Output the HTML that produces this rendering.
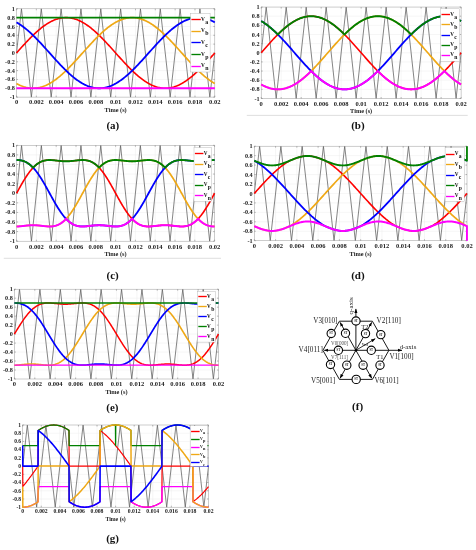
<!DOCTYPE html>
<html><head><meta charset="utf-8"><title>figure</title>
<style>html,body{margin:0;padding:0;background:#fff}svg{display:block}text{font-family:"Liberation Serif",serif}</style>
</head><body>
<svg width="476" height="550" viewBox="0 0 476 550">
<rect width="476" height="550" fill="#fff"/>
<rect x="16.5" y="8.8" width="198.3" height="88.3" fill="#fff"/>
<path d="M36.33 8.8V97.1M56.16 8.8V97.1M75.99 8.8V97.1M95.82 8.8V97.1M115.65 8.8V97.1M135.48 8.8V97.1M155.31 8.8V97.1M175.14 8.8V97.1M194.97 8.8V97.1M16.5 88.27H214.8M16.5 79.44H214.8M16.5 70.61H214.8M16.5 61.78H214.8M16.5 52.95H214.8M16.5 44.12H214.8M16.5 35.29H214.8M16.5 26.46H214.8M16.5 17.63H214.8" stroke="#ececec" stroke-width="0.5" fill="none"/>
<clipPath id="ca"><rect x="15.6" y="7.9" width="200.1" height="90.1"/></clipPath>
<path d="M16.5 52.95L21.46 8.8L31.37 97.1L41.29 8.8L51.2 97.1L61.12 8.8L71.03 97.1L80.95 8.8L90.86 97.1L100.78 8.8L110.69 97.1L120.61 8.8L130.52 97.1L140.44 8.8L150.35 97.1L160.27 8.8L170.18 97.1L180.1 8.8L190.01 97.1L199.93 8.8L209.84 97.1L214.8 52.95" stroke="#5c5c5c" stroke-width="0.75" fill="none" stroke-linejoin="miter"/>
<rect x="16.5" y="8.8" width="198.3" height="88.3" fill="none" stroke="#9a9a9a" stroke-width="0.5"/>
<path d="M16.5 97.1v-1.5M16.5 8.8v1.5M16.5 97.1h1.5M214.8 97.1h-1.5M36.33 97.1v-1.5M36.33 8.8v1.5M16.5 88.27h1.5M214.8 88.27h-1.5M56.16 97.1v-1.5M56.16 8.8v1.5M16.5 79.44h1.5M214.8 79.44h-1.5M75.99 97.1v-1.5M75.99 8.8v1.5M16.5 70.61h1.5M214.8 70.61h-1.5M95.82 97.1v-1.5M95.82 8.8v1.5M16.5 61.78h1.5M214.8 61.78h-1.5M115.65 97.1v-1.5M115.65 8.8v1.5M16.5 52.95h1.5M214.8 52.95h-1.5M135.48 97.1v-1.5M135.48 8.8v1.5M16.5 44.12h1.5M214.8 44.12h-1.5M155.31 97.1v-1.5M155.31 8.8v1.5M16.5 35.29h1.5M214.8 35.29h-1.5M175.14 97.1v-1.5M175.14 8.8v1.5M16.5 26.46h1.5M214.8 26.46h-1.5M194.97 97.1v-1.5M194.97 8.8v1.5M16.5 17.63h1.5M214.8 17.63h-1.5M214.8 97.1v-1.5M214.8 8.8v1.5M16.5 8.8h1.5M214.8 8.8h-1.5" stroke="#777" stroke-width="0.5" fill="none"/>
<g clip-path="url(#ca)" fill="none" stroke-width="1.8" stroke-linejoin="round">
<path d="M16.5 52.95L17.16 52.21L17.82 51.47L18.48 50.73L19.14 49.99L19.8 49.26L20.47 48.52L21.13 47.79L21.79 47.06L22.45 46.33L23.11 45.61L23.77 44.88L24.43 44.17L25.09 43.45L25.75 42.74L26.41 42.04L27.08 41.33L27.74 40.64L28.4 39.95L29.06 39.26L29.72 38.58L30.38 37.91L31.04 37.25L31.7 36.59L32.36 35.93L33.03 35.29L33.69 34.65L34.35 34.02L35.01 33.4L35.67 32.79L36.33 32.19L36.99 31.6L37.65 31.01L38.31 30.44L38.97 29.87L39.64 29.32L40.3 28.77L40.96 28.24L41.62 27.71L42.28 27.2L42.94 26.7L43.6 26.21L44.26 25.74L44.92 25.27L45.58 24.82L46.25 24.38L46.91 23.95L47.57 23.53L48.23 23.13L48.89 22.74L49.55 22.36L50.21 22L50.87 21.65L51.53 21.31L52.19 20.99L52.86 20.68L53.52 20.39L54.18 20.11L54.84 19.85L55.5 19.59L56.16 19.36L56.82 19.14L57.48 18.93L58.14 18.74L58.8 18.56L59.47 18.4L60.13 18.26L60.79 18.12L61.45 18.01L62.11 17.91L62.77 17.82L63.43 17.75L64.09 17.7L64.75 17.66L65.41 17.64L66.08 17.63L66.74 17.64L67.4 17.66L68.06 17.7L68.72 17.75L69.38 17.82L70.04 17.91L70.7 18.01L71.36 18.12L72.02 18.26L72.69 18.4L73.35 18.56L74.01 18.74L74.67 18.93L75.33 19.14L75.99 19.36L76.65 19.59L77.31 19.85L77.97 20.11L78.63 20.39L79.3 20.68L79.96 20.99L80.62 21.31L81.28 21.65L81.94 22L82.6 22.36L83.26 22.74L83.92 23.13L84.58 23.53L85.24 23.95L85.91 24.38L86.57 24.82L87.23 25.27L87.89 25.74L88.55 26.21L89.21 26.7L89.87 27.2L90.53 27.71L91.19 28.24L91.85 28.77L92.52 29.32L93.18 29.87L93.84 30.44L94.5 31.01L95.16 31.6L95.82 32.19L96.48 32.79L97.14 33.4L97.8 34.02L98.46 34.65L99.12 35.29L99.79 35.93L100.45 36.59L101.11 37.25L101.77 37.91L102.43 38.58L103.09 39.26L103.75 39.95L104.41 40.64L105.07 41.33L105.74 42.04L106.4 42.74L107.06 43.45L107.72 44.17L108.38 44.88L109.04 45.61L109.7 46.33L110.36 47.06L111.02 47.79L111.68 48.52L112.35 49.26L113.01 49.99L113.67 50.73L114.33 51.47L114.99 52.21L115.65 52.95L116.31 53.69L116.97 54.43L117.63 55.17L118.29 55.91L118.95 56.64L119.62 57.38L120.28 58.11L120.94 58.84L121.6 59.57L122.26 60.29L122.92 61.02L123.58 61.73L124.24 62.45L124.9 63.16L125.57 63.86L126.23 64.57L126.89 65.26L127.55 65.95L128.21 66.64L128.87 67.32L129.53 67.99L130.19 68.65L130.85 69.31L131.51 69.97L132.18 70.61L132.84 71.25L133.5 71.88L134.16 72.5L134.82 73.11L135.48 73.71L136.14 74.3L136.8 74.89L137.46 75.46L138.12 76.03L138.78 76.58L139.45 77.13L140.11 77.66L140.77 78.19L141.43 78.7L142.09 79.2L142.75 79.69L143.41 80.16L144.07 80.63L144.73 81.08L145.4 81.52L146.06 81.95L146.72 82.37L147.38 82.77L148.04 83.16L148.7 83.54L149.36 83.9L150.02 84.25L150.68 84.59L151.34 84.91L152 85.22L152.67 85.51L153.33 85.79L153.99 86.05L154.65 86.31L155.31 86.54L155.97 86.76L156.63 86.97L157.29 87.16L157.95 87.34L158.62 87.5L159.28 87.64L159.94 87.78L160.6 87.89L161.26 87.99L161.92 88.08L162.58 88.15L163.24 88.2L163.9 88.24L164.56 88.26L165.23 88.27L165.89 88.26L166.55 88.24L167.21 88.2L167.87 88.15L168.53 88.08L169.19 87.99L169.85 87.89L170.51 87.78L171.17 87.64L171.84 87.5L172.5 87.34L173.16 87.16L173.82 86.97L174.48 86.76L175.14 86.54L175.8 86.31L176.46 86.05L177.12 85.79L177.78 85.51L178.45 85.22L179.11 84.91L179.77 84.59L180.43 84.25L181.09 83.9L181.75 83.54L182.41 83.16L183.07 82.77L183.73 82.37L184.39 81.95L185.06 81.52L185.72 81.08L186.38 80.63L187.04 80.16L187.7 79.69L188.36 79.2L189.02 78.7L189.68 78.19L190.34 77.66L191 77.13L191.67 76.58L192.33 76.03L192.99 75.46L193.65 74.89L194.31 74.3L194.97 73.71L195.63 73.11L196.29 72.5L196.95 71.88L197.61 71.25L198.28 70.61L198.94 69.97L199.6 69.31L200.26 68.65L200.92 67.99L201.58 67.32L202.24 66.64L202.9 65.95L203.56 65.26L204.22 64.57L204.88 63.86L205.55 63.16L206.21 62.45L206.87 61.73L207.53 61.02L208.19 60.29L208.85 59.57L209.51 58.84L210.17 58.11L210.83 57.38L211.5 56.64L212.16 55.91L212.82 55.17L213.48 54.43L214.14 53.69L214.8 52.95" stroke="#ff0000" stroke-width="1.6"/>
<path d="M16.5 83.54L17.16 83.9L17.82 84.25L18.48 84.59L19.14 84.91L19.8 85.22L20.47 85.51L21.13 85.79L21.79 86.05L22.45 86.31L23.11 86.54L23.77 86.76L24.43 86.97L25.09 87.16L25.75 87.34L26.41 87.5L27.08 87.64L27.74 87.78L28.4 87.89L29.06 87.99L29.72 88.08L30.38 88.15L31.04 88.2L31.7 88.24L32.36 88.26L33.03 88.27L33.69 88.26L34.35 88.24L35.01 88.2L35.67 88.15L36.33 88.08L36.99 87.99L37.65 87.89L38.31 87.78L38.97 87.64L39.64 87.5L40.3 87.34L40.96 87.16L41.62 86.97L42.28 86.76L42.94 86.54L43.6 86.31L44.26 86.05L44.92 85.79L45.58 85.51L46.25 85.22L46.91 84.91L47.57 84.59L48.23 84.25L48.89 83.9L49.55 83.54L50.21 83.16L50.87 82.77L51.53 82.37L52.19 81.95L52.86 81.52L53.52 81.08L54.18 80.63L54.84 80.16L55.5 79.69L56.16 79.2L56.82 78.7L57.48 78.19L58.14 77.66L58.8 77.13L59.47 76.58L60.13 76.03L60.79 75.46L61.45 74.89L62.11 74.3L62.77 73.71L63.43 73.11L64.09 72.5L64.75 71.88L65.41 71.25L66.08 70.61L66.74 69.97L67.4 69.31L68.06 68.65L68.72 67.99L69.38 67.32L70.04 66.64L70.7 65.95L71.36 65.26L72.02 64.57L72.69 63.86L73.35 63.16L74.01 62.45L74.67 61.73L75.33 61.02L75.99 60.29L76.65 59.57L77.31 58.84L77.97 58.11L78.63 57.38L79.3 56.64L79.96 55.91L80.62 55.17L81.28 54.43L81.94 53.69L82.6 52.95L83.26 52.21L83.92 51.47L84.58 50.73L85.24 49.99L85.91 49.26L86.57 48.52L87.23 47.79L87.89 47.06L88.55 46.33L89.21 45.61L89.87 44.88L90.53 44.17L91.19 43.45L91.85 42.74L92.52 42.04L93.18 41.33L93.84 40.64L94.5 39.95L95.16 39.26L95.82 38.58L96.48 37.91L97.14 37.25L97.8 36.59L98.46 35.93L99.12 35.29L99.79 34.65L100.45 34.02L101.11 33.4L101.77 32.79L102.43 32.19L103.09 31.6L103.75 31.01L104.41 30.44L105.07 29.87L105.74 29.32L106.4 28.77L107.06 28.24L107.72 27.71L108.38 27.2L109.04 26.7L109.7 26.21L110.36 25.74L111.02 25.27L111.68 24.82L112.35 24.38L113.01 23.95L113.67 23.53L114.33 23.13L114.99 22.74L115.65 22.36L116.31 22L116.97 21.65L117.63 21.31L118.29 20.99L118.95 20.68L119.62 20.39L120.28 20.11L120.94 19.85L121.6 19.59L122.26 19.36L122.92 19.14L123.58 18.93L124.24 18.74L124.9 18.56L125.57 18.4L126.23 18.26L126.89 18.12L127.55 18.01L128.21 17.91L128.87 17.82L129.53 17.75L130.19 17.7L130.85 17.66L131.51 17.64L132.18 17.63L132.84 17.64L133.5 17.66L134.16 17.7L134.82 17.75L135.48 17.82L136.14 17.91L136.8 18.01L137.46 18.12L138.12 18.26L138.78 18.4L139.45 18.56L140.11 18.74L140.77 18.93L141.43 19.14L142.09 19.36L142.75 19.59L143.41 19.85L144.07 20.11L144.73 20.39L145.4 20.68L146.06 20.99L146.72 21.31L147.38 21.65L148.04 22L148.7 22.36L149.36 22.74L150.02 23.13L150.68 23.53L151.34 23.95L152 24.38L152.67 24.82L153.33 25.27L153.99 25.74L154.65 26.21L155.31 26.7L155.97 27.2L156.63 27.71L157.29 28.24L157.95 28.77L158.62 29.32L159.28 29.87L159.94 30.44L160.6 31.01L161.26 31.6L161.92 32.19L162.58 32.79L163.24 33.4L163.9 34.02L164.56 34.65L165.23 35.29L165.89 35.93L166.55 36.59L167.21 37.25L167.87 37.91L168.53 38.58L169.19 39.26L169.85 39.95L170.51 40.64L171.17 41.33L171.84 42.04L172.5 42.74L173.16 43.45L173.82 44.17L174.48 44.88L175.14 45.61L175.8 46.33L176.46 47.06L177.12 47.79L177.78 48.52L178.45 49.26L179.11 49.99L179.77 50.73L180.43 51.47L181.09 52.21L181.75 52.95L182.41 53.69L183.07 54.43L183.73 55.17L184.39 55.91L185.06 56.64L185.72 57.38L186.38 58.11L187.04 58.84L187.7 59.57L188.36 60.29L189.02 61.02L189.68 61.73L190.34 62.45L191 63.16L191.67 63.86L192.33 64.57L192.99 65.26L193.65 65.95L194.31 66.64L194.97 67.32L195.63 67.99L196.29 68.65L196.95 69.31L197.61 69.97L198.28 70.61L198.94 71.25L199.6 71.88L200.26 72.5L200.92 73.11L201.58 73.71L202.24 74.3L202.9 74.89L203.56 75.46L204.22 76.03L204.88 76.58L205.55 77.13L206.21 77.66L206.87 78.19L207.53 78.7L208.19 79.2L208.85 79.69L209.51 80.16L210.17 80.63L210.83 81.08L211.5 81.52L212.16 81.95L212.82 82.37L213.48 82.77L214.14 83.16L214.8 83.54" stroke="#efa815" stroke-width="1.7"/>
<path d="M16.5 22.36L17.16 22.74L17.82 23.13L18.48 23.53L19.14 23.95L19.8 24.38L20.47 24.82L21.13 25.27L21.79 25.74L22.45 26.21L23.11 26.7L23.77 27.2L24.43 27.71L25.09 28.24L25.75 28.77L26.41 29.32L27.08 29.87L27.74 30.44L28.4 31.01L29.06 31.6L29.72 32.19L30.38 32.79L31.04 33.4L31.7 34.02L32.36 34.65L33.03 35.29L33.69 35.93L34.35 36.59L35.01 37.25L35.67 37.91L36.33 38.58L36.99 39.26L37.65 39.95L38.31 40.64L38.97 41.33L39.64 42.04L40.3 42.74L40.96 43.45L41.62 44.17L42.28 44.88L42.94 45.61L43.6 46.33L44.26 47.06L44.92 47.79L45.58 48.52L46.25 49.26L46.91 49.99L47.57 50.73L48.23 51.47L48.89 52.21L49.55 52.95L50.21 53.69L50.87 54.43L51.53 55.17L52.19 55.91L52.86 56.64L53.52 57.38L54.18 58.11L54.84 58.84L55.5 59.57L56.16 60.29L56.82 61.02L57.48 61.73L58.14 62.45L58.8 63.16L59.47 63.86L60.13 64.57L60.79 65.26L61.45 65.95L62.11 66.64L62.77 67.32L63.43 67.99L64.09 68.65L64.75 69.31L65.41 69.97L66.08 70.61L66.74 71.25L67.4 71.88L68.06 72.5L68.72 73.11L69.38 73.71L70.04 74.3L70.7 74.89L71.36 75.46L72.02 76.03L72.69 76.58L73.35 77.13L74.01 77.66L74.67 78.19L75.33 78.7L75.99 79.2L76.65 79.69L77.31 80.16L77.97 80.63L78.63 81.08L79.3 81.52L79.96 81.95L80.62 82.37L81.28 82.77L81.94 83.16L82.6 83.54L83.26 83.9L83.92 84.25L84.58 84.59L85.24 84.91L85.91 85.22L86.57 85.51L87.23 85.79L87.89 86.05L88.55 86.31L89.21 86.54L89.87 86.76L90.53 86.97L91.19 87.16L91.85 87.34L92.52 87.5L93.18 87.64L93.84 87.78L94.5 87.89L95.16 87.99L95.82 88.08L96.48 88.15L97.14 88.2L97.8 88.24L98.46 88.26L99.12 88.27L99.79 88.26L100.45 88.24L101.11 88.2L101.77 88.15L102.43 88.08L103.09 87.99L103.75 87.89L104.41 87.78L105.07 87.64L105.74 87.5L106.4 87.34L107.06 87.16L107.72 86.97L108.38 86.76L109.04 86.54L109.7 86.31L110.36 86.05L111.02 85.79L111.68 85.51L112.35 85.22L113.01 84.91L113.67 84.59L114.33 84.25L114.99 83.9L115.65 83.54L116.31 83.16L116.97 82.77L117.63 82.37L118.29 81.95L118.95 81.52L119.62 81.08L120.28 80.63L120.94 80.16L121.6 79.69L122.26 79.2L122.92 78.7L123.58 78.19L124.24 77.66L124.9 77.13L125.57 76.58L126.23 76.03L126.89 75.46L127.55 74.89L128.21 74.3L128.87 73.71L129.53 73.11L130.19 72.5L130.85 71.88L131.51 71.25L132.18 70.61L132.84 69.97L133.5 69.31L134.16 68.65L134.82 67.99L135.48 67.32L136.14 66.64L136.8 65.95L137.46 65.26L138.12 64.57L138.78 63.86L139.45 63.16L140.11 62.45L140.77 61.73L141.43 61.02L142.09 60.29L142.75 59.57L143.41 58.84L144.07 58.11L144.73 57.38L145.4 56.64L146.06 55.91L146.72 55.17L147.38 54.43L148.04 53.69L148.7 52.95L149.36 52.21L150.02 51.47L150.68 50.73L151.34 49.99L152 49.26L152.67 48.52L153.33 47.79L153.99 47.06L154.65 46.33L155.31 45.61L155.97 44.88L156.63 44.17L157.29 43.45L157.95 42.74L158.62 42.04L159.28 41.33L159.94 40.64L160.6 39.95L161.26 39.26L161.92 38.58L162.58 37.91L163.24 37.25L163.9 36.59L164.56 35.93L165.23 35.29L165.89 34.65L166.55 34.02L167.21 33.4L167.87 32.79L168.53 32.19L169.19 31.6L169.85 31.01L170.51 30.44L171.17 29.87L171.84 29.32L172.5 28.77L173.16 28.24L173.82 27.71L174.48 27.2L175.14 26.7L175.8 26.21L176.46 25.74L177.12 25.27L177.78 24.82L178.45 24.38L179.11 23.95L179.77 23.53L180.43 23.13L181.09 22.74L181.75 22.36L182.41 22L183.07 21.65L183.73 21.31L184.39 20.99L185.06 20.68L185.72 20.39L186.38 20.11L187.04 19.85L187.7 19.59L188.36 19.36L189.02 19.14L189.68 18.93L190.34 18.74L191 18.56L191.67 18.4L192.33 18.26L192.99 18.12L193.65 18.01L194.31 17.91L194.97 17.82L195.63 17.75L196.29 17.7L196.95 17.66L197.61 17.64L198.28 17.63L198.94 17.64L199.6 17.66L200.26 17.7L200.92 17.75L201.58 17.82L202.24 17.91L202.9 18.01L203.56 18.12L204.22 18.26L204.88 18.4L205.55 18.56L206.21 18.74L206.87 18.93L207.53 19.14L208.19 19.36L208.85 19.59L209.51 19.85L210.17 20.11L210.83 20.39L211.5 20.68L212.16 20.99L212.82 21.31L213.48 21.65L214.14 22L214.8 22.36" stroke="#0000ff" stroke-width="1.8"/>
<path d="M16.5 17.63L17.16 17.63L17.82 17.63L18.48 17.63L19.14 17.63L19.8 17.63L20.47 17.63L21.13 17.63L21.79 17.63L22.45 17.63L23.11 17.63L23.77 17.63L24.43 17.63L25.09 17.63L25.75 17.63L26.41 17.63L27.08 17.63L27.74 17.63L28.4 17.63L29.06 17.63L29.72 17.63L30.38 17.63L31.04 17.63L31.7 17.63L32.36 17.63L33.03 17.63L33.69 17.63L34.35 17.63L35.01 17.63L35.67 17.63L36.33 17.63L36.99 17.63L37.65 17.63L38.31 17.63L38.97 17.63L39.64 17.63L40.3 17.63L40.96 17.63L41.62 17.63L42.28 17.63L42.94 17.63L43.6 17.63L44.26 17.63L44.92 17.63L45.58 17.63L46.25 17.63L46.91 17.63L47.57 17.63L48.23 17.63L48.89 17.63L49.55 17.63L50.21 17.63L50.87 17.63L51.53 17.63L52.19 17.63L52.86 17.63L53.52 17.63L54.18 17.63L54.84 17.63L55.5 17.63L56.16 17.63L56.82 17.63L57.48 17.63L58.14 17.63L58.8 17.63L59.47 17.63L60.13 17.63L60.79 17.63L61.45 17.63L62.11 17.63L62.77 17.63L63.43 17.63L64.09 17.63L64.75 17.63L65.41 17.63L66.08 17.63L66.74 17.63L67.4 17.63L68.06 17.63L68.72 17.63L69.38 17.63L70.04 17.63L70.7 17.63L71.36 17.63L72.02 17.63L72.69 17.63L73.35 17.63L74.01 17.63L74.67 17.63L75.33 17.63L75.99 17.63L76.65 17.63L77.31 17.63L77.97 17.63L78.63 17.63L79.3 17.63L79.96 17.63L80.62 17.63L81.28 17.63L81.94 17.63L82.6 17.63L83.26 17.63L83.92 17.63L84.58 17.63L85.24 17.63L85.91 17.63L86.57 17.63L87.23 17.63L87.89 17.63L88.55 17.63L89.21 17.63L89.87 17.63L90.53 17.63L91.19 17.63L91.85 17.63L92.52 17.63L93.18 17.63L93.84 17.63L94.5 17.63L95.16 17.63L95.82 17.63L96.48 17.63L97.14 17.63L97.8 17.63L98.46 17.63L99.12 17.63L99.79 17.63L100.45 17.63L101.11 17.63L101.77 17.63L102.43 17.63L103.09 17.63L103.75 17.63L104.41 17.63L105.07 17.63L105.74 17.63L106.4 17.63L107.06 17.63L107.72 17.63L108.38 17.63L109.04 17.63L109.7 17.63L110.36 17.63L111.02 17.63L111.68 17.63L112.35 17.63L113.01 17.63L113.67 17.63L114.33 17.63L114.99 17.63L115.65 17.63L116.31 17.63L116.97 17.63L117.63 17.63L118.29 17.63L118.95 17.63L119.62 17.63L120.28 17.63L120.94 17.63L121.6 17.63L122.26 17.63L122.92 17.63L123.58 17.63L124.24 17.63L124.9 17.63L125.57 17.63L126.23 17.63L126.89 17.63L127.55 17.63L128.21 17.63L128.87 17.63L129.53 17.63L130.19 17.63L130.85 17.63L131.51 17.63L132.18 17.63L132.84 17.63L133.5 17.63L134.16 17.63L134.82 17.63L135.48 17.63L136.14 17.63L136.8 17.63L137.46 17.63L138.12 17.63L138.78 17.63L139.45 17.63L140.11 17.63L140.77 17.63L141.43 17.63L142.09 17.63L142.75 17.63L143.41 17.63L144.07 17.63L144.73 17.63L145.4 17.63L146.06 17.63L146.72 17.63L147.38 17.63L148.04 17.63L148.7 17.63L149.36 17.63L150.02 17.63L150.68 17.63L151.34 17.63L152 17.63L152.67 17.63L153.33 17.63L153.99 17.63L154.65 17.63L155.31 17.63L155.97 17.63L156.63 17.63L157.29 17.63L157.95 17.63L158.62 17.63L159.28 17.63L159.94 17.63L160.6 17.63L161.26 17.63L161.92 17.63L162.58 17.63L163.24 17.63L163.9 17.63L164.56 17.63L165.23 17.63L165.89 17.63L166.55 17.63L167.21 17.63L167.87 17.63L168.53 17.63L169.19 17.63L169.85 17.63L170.51 17.63L171.17 17.63L171.84 17.63L172.5 17.63L173.16 17.63L173.82 17.63L174.48 17.63L175.14 17.63L175.8 17.63L176.46 17.63L177.12 17.63L177.78 17.63L178.45 17.63L179.11 17.63L179.77 17.63L180.43 17.63L181.09 17.63L181.75 17.63L182.41 17.63L183.07 17.63L183.73 17.63L184.39 17.63L185.06 17.63L185.72 17.63L186.38 17.63L187.04 17.63L187.7 17.63L188.36 17.63L189.02 17.63L189.68 17.63L190.34 17.63L191 17.63L191.67 17.63L192.33 17.63L192.99 17.63L193.65 17.63L194.31 17.63L194.97 17.63L195.63 17.63L196.29 17.63L196.95 17.63L197.61 17.63L198.28 17.63L198.94 17.63L199.6 17.63L200.26 17.63L200.92 17.63L201.58 17.63L202.24 17.63L202.9 17.63L203.56 17.63L204.22 17.63L204.88 17.63L205.55 17.63L206.21 17.63L206.87 17.63L207.53 17.63L208.19 17.63L208.85 17.63L209.51 17.63L210.17 17.63L210.83 17.63L211.5 17.63L212.16 17.63L212.82 17.63L213.48 17.63L214.14 17.63L214.8 17.63" stroke="#008000" stroke-width="1.9"/>
<path d="M16.5 88.27L17.16 88.27L17.82 88.27L18.48 88.27L19.14 88.27L19.8 88.27L20.47 88.27L21.13 88.27L21.79 88.27L22.45 88.27L23.11 88.27L23.77 88.27L24.43 88.27L25.09 88.27L25.75 88.27L26.41 88.27L27.08 88.27L27.74 88.27L28.4 88.27L29.06 88.27L29.72 88.27L30.38 88.27L31.04 88.27L31.7 88.27L32.36 88.27L33.03 88.27L33.69 88.27L34.35 88.27L35.01 88.27L35.67 88.27L36.33 88.27L36.99 88.27L37.65 88.27L38.31 88.27L38.97 88.27L39.64 88.27L40.3 88.27L40.96 88.27L41.62 88.27L42.28 88.27L42.94 88.27L43.6 88.27L44.26 88.27L44.92 88.27L45.58 88.27L46.25 88.27L46.91 88.27L47.57 88.27L48.23 88.27L48.89 88.27L49.55 88.27L50.21 88.27L50.87 88.27L51.53 88.27L52.19 88.27L52.86 88.27L53.52 88.27L54.18 88.27L54.84 88.27L55.5 88.27L56.16 88.27L56.82 88.27L57.48 88.27L58.14 88.27L58.8 88.27L59.47 88.27L60.13 88.27L60.79 88.27L61.45 88.27L62.11 88.27L62.77 88.27L63.43 88.27L64.09 88.27L64.75 88.27L65.41 88.27L66.08 88.27L66.74 88.27L67.4 88.27L68.06 88.27L68.72 88.27L69.38 88.27L70.04 88.27L70.7 88.27L71.36 88.27L72.02 88.27L72.69 88.27L73.35 88.27L74.01 88.27L74.67 88.27L75.33 88.27L75.99 88.27L76.65 88.27L77.31 88.27L77.97 88.27L78.63 88.27L79.3 88.27L79.96 88.27L80.62 88.27L81.28 88.27L81.94 88.27L82.6 88.27L83.26 88.27L83.92 88.27L84.58 88.27L85.24 88.27L85.91 88.27L86.57 88.27L87.23 88.27L87.89 88.27L88.55 88.27L89.21 88.27L89.87 88.27L90.53 88.27L91.19 88.27L91.85 88.27L92.52 88.27L93.18 88.27L93.84 88.27L94.5 88.27L95.16 88.27L95.82 88.27L96.48 88.27L97.14 88.27L97.8 88.27L98.46 88.27L99.12 88.27L99.79 88.27L100.45 88.27L101.11 88.27L101.77 88.27L102.43 88.27L103.09 88.27L103.75 88.27L104.41 88.27L105.07 88.27L105.74 88.27L106.4 88.27L107.06 88.27L107.72 88.27L108.38 88.27L109.04 88.27L109.7 88.27L110.36 88.27L111.02 88.27L111.68 88.27L112.35 88.27L113.01 88.27L113.67 88.27L114.33 88.27L114.99 88.27L115.65 88.27L116.31 88.27L116.97 88.27L117.63 88.27L118.29 88.27L118.95 88.27L119.62 88.27L120.28 88.27L120.94 88.27L121.6 88.27L122.26 88.27L122.92 88.27L123.58 88.27L124.24 88.27L124.9 88.27L125.57 88.27L126.23 88.27L126.89 88.27L127.55 88.27L128.21 88.27L128.87 88.27L129.53 88.27L130.19 88.27L130.85 88.27L131.51 88.27L132.18 88.27L132.84 88.27L133.5 88.27L134.16 88.27L134.82 88.27L135.48 88.27L136.14 88.27L136.8 88.27L137.46 88.27L138.12 88.27L138.78 88.27L139.45 88.27L140.11 88.27L140.77 88.27L141.43 88.27L142.09 88.27L142.75 88.27L143.41 88.27L144.07 88.27L144.73 88.27L145.4 88.27L146.06 88.27L146.72 88.27L147.38 88.27L148.04 88.27L148.7 88.27L149.36 88.27L150.02 88.27L150.68 88.27L151.34 88.27L152 88.27L152.67 88.27L153.33 88.27L153.99 88.27L154.65 88.27L155.31 88.27L155.97 88.27L156.63 88.27L157.29 88.27L157.95 88.27L158.62 88.27L159.28 88.27L159.94 88.27L160.6 88.27L161.26 88.27L161.92 88.27L162.58 88.27L163.24 88.27L163.9 88.27L164.56 88.27L165.23 88.27L165.89 88.27L166.55 88.27L167.21 88.27L167.87 88.27L168.53 88.27L169.19 88.27L169.85 88.27L170.51 88.27L171.17 88.27L171.84 88.27L172.5 88.27L173.16 88.27L173.82 88.27L174.48 88.27L175.14 88.27L175.8 88.27L176.46 88.27L177.12 88.27L177.78 88.27L178.45 88.27L179.11 88.27L179.77 88.27L180.43 88.27L181.09 88.27L181.75 88.27L182.41 88.27L183.07 88.27L183.73 88.27L184.39 88.27L185.06 88.27L185.72 88.27L186.38 88.27L187.04 88.27L187.7 88.27L188.36 88.27L189.02 88.27L189.68 88.27L190.34 88.27L191 88.27L191.67 88.27L192.33 88.27L192.99 88.27L193.65 88.27L194.31 88.27L194.97 88.27L195.63 88.27L196.29 88.27L196.95 88.27L197.61 88.27L198.28 88.27L198.94 88.27L199.6 88.27L200.26 88.27L200.92 88.27L201.58 88.27L202.24 88.27L202.9 88.27L203.56 88.27L204.22 88.27L204.88 88.27L205.55 88.27L206.21 88.27L206.87 88.27L207.53 88.27L208.19 88.27L208.85 88.27L209.51 88.27L210.17 88.27L210.83 88.27L211.5 88.27L212.16 88.27L212.82 88.27L213.48 88.27L214.14 88.27L214.8 88.27" stroke="#ff00ff" stroke-width="2"/>
</g>
<g font-size="6.2" font-weight="bold" fill="#1a1a1a">
<text x="14.9" y="99.15" text-anchor="end">-1</text>
<text x="14.9" y="90.32" text-anchor="end">-0.8</text>
<text x="14.9" y="81.49" text-anchor="end">-0.6</text>
<text x="14.9" y="72.66" text-anchor="end">-0.4</text>
<text x="14.9" y="63.83" text-anchor="end">-0.2</text>
<text x="14.9" y="55" text-anchor="end">0</text>
<text x="14.9" y="46.17" text-anchor="end">0.2</text>
<text x="14.9" y="37.34" text-anchor="end">0.4</text>
<text x="14.9" y="28.51" text-anchor="end">0.6</text>
<text x="14.9" y="19.68" text-anchor="end">0.8</text>
<text x="14.9" y="10.85" text-anchor="end">1</text>
<text x="16.5" y="104.2" text-anchor="middle" font-size="6.5">0</text>
<text x="36.33" y="104.2" text-anchor="middle" font-size="6.5">0.002</text>
<text x="56.16" y="104.2" text-anchor="middle" font-size="6.5">0.004</text>
<text x="75.99" y="104.2" text-anchor="middle" font-size="6.5">0.006</text>
<text x="95.82" y="104.2" text-anchor="middle" font-size="6.5">0.008</text>
<text x="115.65" y="104.2" text-anchor="middle" font-size="6.5">0.01</text>
<text x="135.48" y="104.2" text-anchor="middle" font-size="6.5">0.012</text>
<text x="155.31" y="104.2" text-anchor="middle" font-size="6.5">0.014</text>
<text x="175.14" y="104.2" text-anchor="middle" font-size="6.5">0.016</text>
<text x="194.97" y="104.2" text-anchor="middle" font-size="6.5">0.018</text>
<text x="214.8" y="104.2" text-anchor="middle" font-size="6.5">0.02</text>
</g>
<text x="115.65" y="111.6" text-anchor="middle" font-size="6.3" font-weight="bold" fill="#222">Time (s)</text>
<rect x="190.5" y="13.4" width="19.6" height="58.6" fill="#fff" stroke="#aaa" stroke-width="0.4"/>
<path d="M191.4 19.5H200.8" stroke="#ff0000" stroke-width="1.35"/>
<text transform="translate(201.1,20.65) scale(0.78,1)" font-size="6.9" font-weight="bold" fill="#111">V</text>
<text x="205.3" y="23.78" font-size="5.87" font-weight="bold" fill="#111">a</text>
<path d="M191.4 31.5H200.8" stroke="#efa815" stroke-width="1.35"/>
<text transform="translate(201.1,32.3) scale(0.78,1)" font-size="6.9" font-weight="bold" fill="#111">V</text>
<text x="205.3" y="35.43" font-size="5.87" font-weight="bold" fill="#111">b</text>
<path d="M191.4 42.5H200.8" stroke="#0000ff" stroke-width="1.35"/>
<text transform="translate(201.1,43.95) scale(0.78,1)" font-size="6.9" font-weight="bold" fill="#111">V</text>
<text x="205.3" y="47.08" font-size="5.87" font-weight="bold" fill="#111">c</text>
<path d="M191.4 54.5H200.8" stroke="#008000" stroke-width="1.35"/>
<text transform="translate(201.1,55.6) scale(0.78,1)" font-size="6.9" font-weight="bold" fill="#111">V</text>
<text x="205.3" y="58.73" font-size="5.87" font-weight="bold" fill="#111">p</text>
<path d="M191.4 66.5H200.8" stroke="#ff00ff" stroke-width="1.35"/>
<text transform="translate(201.1,67.25) scale(0.78,1)" font-size="6.9" font-weight="bold" fill="#111">V</text>
<text x="205.3" y="70.38" font-size="5.87" font-weight="bold" fill="#111">n</text>
<rect x="261.2" y="7.05" width="199.9" height="91.45" fill="#fff"/>
<path d="M281.19 7.05V98.5M301.18 7.05V98.5M321.17 7.05V98.5M341.16 7.05V98.5M361.15 7.05V98.5M381.14 7.05V98.5M401.13 7.05V98.5M421.12 7.05V98.5M441.11 7.05V98.5M261.2 89.36H461.1M261.2 80.21H461.1M261.2 71.06H461.1M261.2 61.92H461.1M261.2 52.77H461.1M261.2 43.63H461.1M261.2 34.48H461.1M261.2 25.34H461.1M261.2 16.19H461.1" stroke="#ececec" stroke-width="0.5" fill="none"/>
<clipPath id="cb"><rect x="260.3" y="6.15" width="201.7" height="93.25"/></clipPath>
<path d="M261.2 52.77L266.2 7.05L276.19 98.5L286.19 7.05L296.18 98.5L306.18 7.05L316.17 98.5L326.17 7.05L336.16 98.5L346.16 7.05L356.15 98.5L366.15 7.05L376.14 98.5L386.14 7.05L396.13 98.5L406.13 7.05L416.12 98.5L426.12 7.05L436.11 98.5L446.11 7.05L456.1 98.5L461.1 52.77" stroke="#5c5c5c" stroke-width="0.75" fill="none" stroke-linejoin="miter"/>
<rect x="261.2" y="7.05" width="199.9" height="91.45" fill="none" stroke="#9a9a9a" stroke-width="0.5"/>
<path d="M261.2 98.5v-1.5M261.2 7.05v1.5M261.2 98.5h1.5M461.1 98.5h-1.5M281.19 98.5v-1.5M281.19 7.05v1.5M261.2 89.36h1.5M461.1 89.36h-1.5M301.18 98.5v-1.5M301.18 7.05v1.5M261.2 80.21h1.5M461.1 80.21h-1.5M321.17 98.5v-1.5M321.17 7.05v1.5M261.2 71.06h1.5M461.1 71.06h-1.5M341.16 98.5v-1.5M341.16 7.05v1.5M261.2 61.92h1.5M461.1 61.92h-1.5M361.15 98.5v-1.5M361.15 7.05v1.5M261.2 52.77h1.5M461.1 52.77h-1.5M381.14 98.5v-1.5M381.14 7.05v1.5M261.2 43.63h1.5M461.1 43.63h-1.5M401.13 98.5v-1.5M401.13 7.05v1.5M261.2 34.48h1.5M461.1 34.48h-1.5M421.12 98.5v-1.5M421.12 7.05v1.5M261.2 25.34h1.5M461.1 25.34h-1.5M441.11 98.5v-1.5M441.11 7.05v1.5M261.2 16.19h1.5M461.1 16.19h-1.5M461.1 98.5v-1.5M461.1 7.05v1.5M261.2 7.05h1.5M461.1 7.05h-1.5" stroke="#777" stroke-width="0.5" fill="none"/>
<g clip-path="url(#cb)" fill="none" stroke-width="1.8" stroke-linejoin="round">
<path d="M261.2 52.77L261.87 52.01L262.53 51.24L263.2 50.48L263.87 49.71L264.53 48.95L265.2 48.19L265.86 47.43L266.53 46.67L267.2 45.92L267.86 45.17L268.53 44.42L269.2 43.68L269.86 42.94L270.53 42.2L271.19 41.47L271.86 40.75L272.53 40.02L273.19 39.31L273.86 38.6L274.53 37.9L275.19 37.2L275.86 36.51L276.53 35.83L277.19 35.15L277.86 34.48L278.52 33.83L279.19 33.17L279.86 32.53L280.52 31.9L281.19 31.27L281.86 30.66L282.52 30.05L283.19 29.46L283.86 28.87L284.52 28.3L285.19 27.73L285.85 27.18L286.52 26.64L287.19 26.11L287.85 25.59L288.52 25.08L289.19 24.59L289.85 24.11L290.52 23.64L291.19 23.18L291.85 22.74L292.52 22.31L293.18 21.89L293.85 21.49L294.52 21.1L295.18 20.72L295.85 20.36L296.52 20.01L297.18 19.68L297.85 19.36L298.51 19.05L299.18 18.76L299.85 18.49L300.51 18.23L301.18 17.99L301.85 17.76L302.51 17.54L303.18 17.34L303.85 17.16L304.51 16.99L305.18 16.84L305.84 16.71L306.51 16.59L307.18 16.48L307.84 16.4L308.51 16.32L309.18 16.27L309.84 16.23L310.51 16.2L311.18 16.19L311.84 16.2L312.51 16.23L313.17 16.27L313.84 16.32L314.51 16.4L315.17 16.48L315.84 16.59L316.51 16.71L317.17 16.84L317.84 16.99L318.5 17.16L319.17 17.34L319.84 17.54L320.5 17.76L321.17 17.99L321.84 18.23L322.5 18.49L323.17 18.76L323.84 19.05L324.5 19.36L325.17 19.68L325.83 20.01L326.5 20.36L327.17 20.72L327.83 21.1L328.5 21.49L329.17 21.89L329.83 22.31L330.5 22.74L331.16 23.18L331.83 23.64L332.5 24.11L333.16 24.59L333.83 25.08L334.5 25.59L335.16 26.11L335.83 26.64L336.5 27.18L337.16 27.73L337.83 28.3L338.49 28.87L339.16 29.46L339.83 30.05L340.49 30.66L341.16 31.27L341.83 31.9L342.49 32.53L343.16 33.17L343.83 33.83L344.49 34.48L345.16 35.15L345.82 35.83L346.49 36.51L347.16 37.2L347.82 37.9L348.49 38.6L349.16 39.31L349.82 40.02L350.49 40.75L351.16 41.47L351.82 42.2L352.49 42.94L353.15 43.68L353.82 44.42L354.49 45.17L355.15 45.92L355.82 46.67L356.49 47.43L357.15 48.19L357.82 48.95L358.48 49.71L359.15 50.48L359.82 51.24L360.48 52.01L361.15 52.77L361.82 53.54L362.48 54.31L363.15 55.07L363.82 55.84L364.48 56.6L365.15 57.36L365.81 58.12L366.48 58.88L367.15 59.63L367.81 60.38L368.48 61.13L369.15 61.87L369.81 62.61L370.48 63.35L371.14 64.08L371.81 64.8L372.48 65.53L373.14 66.24L373.81 66.95L374.48 67.65L375.14 68.35L375.81 69.04L376.48 69.72L377.14 70.4L377.81 71.06L378.47 71.72L379.14 72.38L379.81 73.02L380.47 73.65L381.14 74.28L381.81 74.89L382.47 75.5L383.14 76.09L383.81 76.68L384.47 77.25L385.14 77.82L385.8 78.37L386.47 78.91L387.14 79.44L387.8 79.96L388.47 80.47L389.14 80.96L389.8 81.44L390.47 81.91L391.13 82.37L391.8 82.81L392.47 83.24L393.13 83.66L393.8 84.06L394.47 84.45L395.13 84.83L395.8 85.19L396.47 85.54L397.13 85.87L397.8 86.19L398.46 86.5L399.13 86.79L399.8 87.06L400.46 87.32L401.13 87.56L401.8 87.79L402.46 88.01L403.13 88.21L403.8 88.39L404.46 88.56L405.13 88.71L405.79 88.84L406.46 88.96L407.13 89.07L407.79 89.15L408.46 89.23L409.13 89.28L409.79 89.32L410.46 89.35L411.12 89.36L411.79 89.35L412.46 89.32L413.12 89.28L413.79 89.23L414.46 89.15L415.12 89.07L415.79 88.96L416.46 88.84L417.12 88.71L417.79 88.56L418.45 88.39L419.12 88.21L419.79 88.01L420.45 87.79L421.12 87.56L421.79 87.32L422.45 87.06L423.12 86.79L423.79 86.5L424.45 86.19L425.12 85.87L425.78 85.54L426.45 85.19L427.12 84.83L427.78 84.45L428.45 84.06L429.12 83.66L429.78 83.24L430.45 82.81L431.12 82.37L431.78 81.91L432.45 81.44L433.11 80.96L433.78 80.47L434.45 79.96L435.11 79.44L435.78 78.91L436.45 78.37L437.11 77.82L437.78 77.25L438.44 76.68L439.11 76.09L439.78 75.5L440.44 74.89L441.11 74.28L441.78 73.65L442.44 73.02L443.11 72.38L443.78 71.72L444.44 71.06L445.11 70.4L445.77 69.72L446.44 69.04L447.11 68.35L447.77 67.65L448.44 66.95L449.11 66.24L449.77 65.53L450.44 64.8L451.11 64.08L451.77 63.35L452.44 62.61L453.1 61.87L453.77 61.13L454.44 60.38L455.1 59.63L455.77 58.88L456.44 58.12L457.1 57.36L457.77 56.6L458.43 55.84L459.1 55.07L459.77 54.31L460.43 53.54L461.1 52.78" stroke="#ff0000" stroke-width="1.6"/>
<path d="M261.2 84.45L261.87 84.83L262.53 85.19L263.2 85.54L263.87 85.87L264.53 86.19L265.2 86.5L265.86 86.79L266.53 87.06L267.2 87.32L267.86 87.56L268.53 87.79L269.2 88.01L269.86 88.21L270.53 88.39L271.19 88.56L271.86 88.71L272.53 88.84L273.19 88.96L273.86 89.07L274.53 89.15L275.19 89.23L275.86 89.28L276.53 89.32L277.19 89.35L277.86 89.36L278.52 89.35L279.19 89.32L279.86 89.28L280.52 89.23L281.19 89.15L281.86 89.07L282.52 88.96L283.19 88.84L283.86 88.71L284.52 88.56L285.19 88.39L285.85 88.21L286.52 88.01L287.19 87.79L287.85 87.56L288.52 87.32L289.19 87.06L289.85 86.79L290.52 86.5L291.19 86.19L291.85 85.87L292.52 85.54L293.18 85.19L293.85 84.83L294.52 84.45L295.18 84.06L295.85 83.66L296.52 83.24L297.18 82.81L297.85 82.37L298.51 81.91L299.18 81.44L299.85 80.96L300.51 80.47L301.18 79.96L301.85 79.44L302.51 78.91L303.18 78.37L303.85 77.82L304.51 77.25L305.18 76.68L305.84 76.09L306.51 75.5L307.18 74.89L307.84 74.28L308.51 73.65L309.18 73.02L309.84 72.38L310.51 71.72L311.18 71.06L311.84 70.4L312.51 69.72L313.17 69.04L313.84 68.35L314.51 67.65L315.17 66.95L315.84 66.24L316.51 65.53L317.17 64.8L317.84 64.08L318.5 63.35L319.17 62.61L319.84 61.87L320.5 61.13L321.17 60.38L321.84 59.63L322.5 58.88L323.17 58.12L323.84 57.36L324.5 56.6L325.17 55.84L325.83 55.07L326.5 54.31L327.17 53.54L327.83 52.77L328.5 52.01L329.17 51.24L329.83 50.48L330.5 49.71L331.16 48.95L331.83 48.19L332.5 47.43L333.16 46.67L333.83 45.92L334.5 45.17L335.16 44.42L335.83 43.68L336.5 42.94L337.16 42.2L337.83 41.47L338.49 40.75L339.16 40.02L339.83 39.31L340.49 38.6L341.16 37.9L341.83 37.2L342.49 36.51L343.16 35.83L343.83 35.15L344.49 34.48L345.16 33.83L345.82 33.17L346.49 32.53L347.16 31.9L347.82 31.27L348.49 30.66L349.16 30.05L349.82 29.46L350.49 28.87L351.16 28.3L351.82 27.73L352.49 27.18L353.15 26.64L353.82 26.11L354.49 25.59L355.15 25.08L355.82 24.59L356.49 24.11L357.15 23.64L357.82 23.18L358.48 22.74L359.15 22.31L359.82 21.89L360.48 21.49L361.15 21.1L361.82 20.72L362.48 20.36L363.15 20.01L363.82 19.68L364.48 19.36L365.15 19.05L365.81 18.76L366.48 18.49L367.15 18.23L367.81 17.99L368.48 17.76L369.15 17.54L369.81 17.34L370.48 17.16L371.14 16.99L371.81 16.84L372.48 16.71L373.14 16.59L373.81 16.48L374.48 16.4L375.14 16.32L375.81 16.27L376.48 16.23L377.14 16.2L377.81 16.19L378.47 16.2L379.14 16.23L379.81 16.27L380.47 16.32L381.14 16.4L381.81 16.48L382.47 16.59L383.14 16.71L383.81 16.84L384.47 16.99L385.14 17.16L385.8 17.34L386.47 17.54L387.14 17.76L387.8 17.99L388.47 18.23L389.14 18.49L389.8 18.76L390.47 19.05L391.13 19.36L391.8 19.68L392.47 20.01L393.13 20.36L393.8 20.72L394.47 21.1L395.13 21.49L395.8 21.89L396.47 22.31L397.13 22.74L397.8 23.18L398.46 23.64L399.13 24.11L399.8 24.59L400.46 25.08L401.13 25.59L401.8 26.11L402.46 26.64L403.13 27.18L403.8 27.73L404.46 28.3L405.13 28.87L405.79 29.46L406.46 30.05L407.13 30.66L407.79 31.27L408.46 31.9L409.13 32.53L409.79 33.17L410.46 33.83L411.12 34.49L411.79 35.15L412.46 35.83L413.12 36.51L413.79 37.2L414.46 37.9L415.12 38.6L415.79 39.31L416.46 40.02L417.12 40.75L417.79 41.47L418.45 42.2L419.12 42.94L419.79 43.68L420.45 44.42L421.12 45.17L421.79 45.92L422.45 46.67L423.12 47.43L423.79 48.19L424.45 48.95L425.12 49.71L425.78 50.48L426.45 51.24L427.12 52.01L427.78 52.78L428.45 53.54L429.12 54.31L429.78 55.07L430.45 55.84L431.12 56.6L431.78 57.36L432.45 58.12L433.11 58.88L433.78 59.63L434.45 60.38L435.11 61.13L435.78 61.87L436.45 62.61L437.11 63.35L437.78 64.08L438.44 64.8L439.11 65.53L439.78 66.24L440.44 66.95L441.11 67.65L441.78 68.35L442.44 69.04L443.11 69.72L443.78 70.4L444.44 71.07L445.11 71.72L445.77 72.38L446.44 73.02L447.11 73.65L447.77 74.28L448.44 74.89L449.11 75.5L449.77 76.09L450.44 76.68L451.11 77.25L451.77 77.82L452.44 78.37L453.1 78.91L453.77 79.44L454.44 79.96L455.1 80.47L455.77 80.96L456.44 81.44L457.1 81.91L457.77 82.37L458.43 82.81L459.1 83.24L459.77 83.66L460.43 84.06L461.1 84.45" stroke="#efa815" stroke-width="1.7"/>
<path d="M261.2 21.1L261.87 21.49L262.53 21.89L263.2 22.31L263.87 22.74L264.53 23.18L265.2 23.64L265.86 24.11L266.53 24.59L267.2 25.08L267.86 25.59L268.53 26.11L269.2 26.64L269.86 27.18L270.53 27.73L271.19 28.3L271.86 28.87L272.53 29.46L273.19 30.05L273.86 30.66L274.53 31.27L275.19 31.9L275.86 32.53L276.53 33.17L277.19 33.83L277.86 34.48L278.52 35.15L279.19 35.83L279.86 36.51L280.52 37.2L281.19 37.9L281.86 38.6L282.52 39.31L283.19 40.02L283.86 40.75L284.52 41.47L285.19 42.2L285.85 42.94L286.52 43.68L287.19 44.42L287.85 45.17L288.52 45.92L289.19 46.67L289.85 47.43L290.52 48.19L291.19 48.95L291.85 49.71L292.52 50.48L293.18 51.24L293.85 52.01L294.52 52.77L295.18 53.54L295.85 54.31L296.52 55.07L297.18 55.84L297.85 56.6L298.51 57.36L299.18 58.12L299.85 58.88L300.51 59.63L301.18 60.38L301.85 61.13L302.51 61.87L303.18 62.61L303.85 63.35L304.51 64.08L305.18 64.8L305.84 65.53L306.51 66.24L307.18 66.95L307.84 67.65L308.51 68.35L309.18 69.04L309.84 69.72L310.51 70.4L311.18 71.06L311.84 71.72L312.51 72.38L313.17 73.02L313.84 73.65L314.51 74.28L315.17 74.89L315.84 75.5L316.51 76.09L317.17 76.68L317.84 77.25L318.5 77.82L319.17 78.37L319.84 78.91L320.5 79.44L321.17 79.96L321.84 80.47L322.5 80.96L323.17 81.44L323.84 81.91L324.5 82.37L325.17 82.81L325.83 83.24L326.5 83.66L327.17 84.06L327.83 84.45L328.5 84.83L329.17 85.19L329.83 85.54L330.5 85.87L331.16 86.19L331.83 86.5L332.5 86.79L333.16 87.06L333.83 87.32L334.5 87.56L335.16 87.79L335.83 88.01L336.5 88.21L337.16 88.39L337.83 88.56L338.49 88.71L339.16 88.84L339.83 88.96L340.49 89.07L341.16 89.15L341.83 89.23L342.49 89.28L343.16 89.32L343.83 89.35L344.49 89.36L345.16 89.35L345.82 89.32L346.49 89.28L347.16 89.23L347.82 89.15L348.49 89.07L349.16 88.96L349.82 88.84L350.49 88.71L351.16 88.56L351.82 88.39L352.49 88.21L353.15 88.01L353.82 87.79L354.49 87.56L355.15 87.32L355.82 87.06L356.49 86.79L357.15 86.5L357.82 86.19L358.48 85.87L359.15 85.54L359.82 85.19L360.48 84.83L361.15 84.45L361.82 84.06L362.48 83.66L363.15 83.24L363.82 82.81L364.48 82.37L365.15 81.91L365.81 81.44L366.48 80.96L367.15 80.47L367.81 79.96L368.48 79.44L369.15 78.91L369.81 78.37L370.48 77.82L371.14 77.25L371.81 76.68L372.48 76.09L373.14 75.5L373.81 74.89L374.48 74.28L375.14 73.65L375.81 73.02L376.48 72.38L377.14 71.72L377.81 71.06L378.47 70.4L379.14 69.72L379.81 69.04L380.47 68.35L381.14 67.65L381.81 66.95L382.47 66.24L383.14 65.53L383.81 64.8L384.47 64.08L385.14 63.35L385.8 62.61L386.47 61.87L387.14 61.13L387.8 60.38L388.47 59.63L389.14 58.88L389.8 58.12L390.47 57.36L391.13 56.6L391.8 55.84L392.47 55.07L393.13 54.31L393.8 53.54L394.47 52.78L395.13 52.01L395.8 51.24L396.47 50.48L397.13 49.71L397.8 48.95L398.46 48.19L399.13 47.43L399.8 46.67L400.46 45.92L401.13 45.17L401.8 44.42L402.46 43.68L403.13 42.94L403.8 42.2L404.46 41.47L405.13 40.75L405.79 40.02L406.46 39.31L407.13 38.6L407.79 37.9L408.46 37.2L409.13 36.51L409.79 35.83L410.46 35.15L411.12 34.48L411.79 33.83L412.46 33.17L413.12 32.53L413.79 31.9L414.46 31.27L415.12 30.66L415.79 30.05L416.46 29.46L417.12 28.87L417.79 28.3L418.45 27.73L419.12 27.18L419.79 26.64L420.45 26.11L421.12 25.59L421.79 25.08L422.45 24.59L423.12 24.11L423.79 23.64L424.45 23.18L425.12 22.74L425.78 22.31L426.45 21.89L427.12 21.49L427.78 21.1L428.45 20.72L429.12 20.36L429.78 20.01L430.45 19.68L431.12 19.36L431.78 19.05L432.45 18.76L433.11 18.49L433.78 18.23L434.45 17.99L435.11 17.76L435.78 17.54L436.45 17.34L437.11 17.16L437.78 16.99L438.44 16.84L439.11 16.71L439.78 16.59L440.44 16.48L441.11 16.4L441.78 16.32L442.44 16.27L443.11 16.23L443.78 16.2L444.44 16.19L445.11 16.2L445.77 16.23L446.44 16.27L447.11 16.32L447.77 16.4L448.44 16.48L449.11 16.59L449.77 16.71L450.44 16.84L451.11 16.99L451.77 17.16L452.44 17.34L453.1 17.54L453.77 17.76L454.44 17.99L455.1 18.23L455.77 18.49L456.44 18.76L457.1 19.05L457.77 19.36L458.43 19.68L459.1 20.01L459.77 20.36L460.43 20.72L461.1 21.1" stroke="#0000ff" stroke-width="1.8"/>
<path d="M261.2 21.1L261.87 21.49L262.53 21.89L263.2 22.31L263.87 22.74L264.53 23.18L265.2 23.64L265.86 24.11L266.53 24.59L267.2 25.08L267.86 25.59L268.53 26.11L269.2 26.64L269.86 27.18L270.53 27.73L271.19 28.3L271.86 28.87L272.53 29.46L273.19 30.05L273.86 30.66L274.53 31.27L275.19 31.9L275.86 32.53L276.53 33.17L277.19 33.83L277.86 34.48L278.52 33.83L279.19 33.17L279.86 32.53L280.52 31.9L281.19 31.27L281.86 30.66L282.52 30.05L283.19 29.46L283.86 28.87L284.52 28.3L285.19 27.73L285.85 27.18L286.52 26.64L287.19 26.11L287.85 25.59L288.52 25.08L289.19 24.59L289.85 24.11L290.52 23.64L291.19 23.18L291.85 22.74L292.52 22.31L293.18 21.89L293.85 21.49L294.52 21.1L295.18 20.72L295.85 20.36L296.52 20.01L297.18 19.68L297.85 19.36L298.51 19.05L299.18 18.76L299.85 18.49L300.51 18.23L301.18 17.99L301.85 17.76L302.51 17.54L303.18 17.34L303.85 17.16L304.51 16.99L305.18 16.84L305.84 16.71L306.51 16.59L307.18 16.48L307.84 16.4L308.51 16.32L309.18 16.27L309.84 16.23L310.51 16.2L311.18 16.19L311.84 16.2L312.51 16.23L313.17 16.27L313.84 16.32L314.51 16.4L315.17 16.48L315.84 16.59L316.51 16.71L317.17 16.84L317.84 16.99L318.5 17.16L319.17 17.34L319.84 17.54L320.5 17.76L321.17 17.99L321.84 18.23L322.5 18.49L323.17 18.76L323.84 19.05L324.5 19.36L325.17 19.68L325.83 20.01L326.5 20.36L327.17 20.72L327.83 21.1L328.5 21.49L329.17 21.89L329.83 22.31L330.5 22.74L331.16 23.18L331.83 23.64L332.5 24.11L333.16 24.59L333.83 25.08L334.5 25.59L335.16 26.11L335.83 26.64L336.5 27.18L337.16 27.73L337.83 28.3L338.49 28.87L339.16 29.46L339.83 30.05L340.49 30.66L341.16 31.27L341.83 31.9L342.49 32.53L343.16 33.17L343.83 33.83L344.49 34.48L345.16 33.83L345.82 33.17L346.49 32.53L347.16 31.9L347.82 31.27L348.49 30.66L349.16 30.05L349.82 29.46L350.49 28.87L351.16 28.3L351.82 27.73L352.49 27.18L353.15 26.64L353.82 26.11L354.49 25.59L355.15 25.08L355.82 24.59L356.49 24.11L357.15 23.64L357.82 23.18L358.48 22.74L359.15 22.31L359.82 21.89L360.48 21.49L361.15 21.1L361.82 20.72L362.48 20.36L363.15 20.01L363.82 19.68L364.48 19.36L365.15 19.05L365.81 18.76L366.48 18.49L367.15 18.23L367.81 17.99L368.48 17.76L369.15 17.54L369.81 17.34L370.48 17.16L371.14 16.99L371.81 16.84L372.48 16.71L373.14 16.59L373.81 16.48L374.48 16.4L375.14 16.32L375.81 16.27L376.48 16.23L377.14 16.2L377.81 16.19L378.47 16.2L379.14 16.23L379.81 16.27L380.47 16.32L381.14 16.4L381.81 16.48L382.47 16.59L383.14 16.71L383.81 16.84L384.47 16.99L385.14 17.16L385.8 17.34L386.47 17.54L387.14 17.76L387.8 17.99L388.47 18.23L389.14 18.49L389.8 18.76L390.47 19.05L391.13 19.36L391.8 19.68L392.47 20.01L393.13 20.36L393.8 20.72L394.47 21.1L395.13 21.49L395.8 21.89L396.47 22.31L397.13 22.74L397.8 23.18L398.46 23.64L399.13 24.11L399.8 24.59L400.46 25.08L401.13 25.59L401.8 26.11L402.46 26.64L403.13 27.18L403.8 27.73L404.46 28.3L405.13 28.87L405.79 29.46L406.46 30.05L407.13 30.66L407.79 31.27L408.46 31.9L409.13 32.53L409.79 33.17L410.46 33.83L411.12 34.48L411.79 33.83L412.46 33.17L413.12 32.53L413.79 31.9L414.46 31.27L415.12 30.66L415.79 30.05L416.46 29.46L417.12 28.87L417.79 28.3L418.45 27.73L419.12 27.18L419.79 26.64L420.45 26.11L421.12 25.59L421.79 25.08L422.45 24.59L423.12 24.11L423.79 23.64L424.45 23.18L425.12 22.74L425.78 22.31L426.45 21.89L427.12 21.49L427.78 21.1L428.45 20.72L429.12 20.36L429.78 20.01L430.45 19.68L431.12 19.36L431.78 19.05L432.45 18.76L433.11 18.49L433.78 18.23L434.45 17.99L435.11 17.76L435.78 17.54L436.45 17.34L437.11 17.16L437.78 16.99L438.44 16.84L439.11 16.71L439.78 16.59L440.44 16.48L441.11 16.4L441.78 16.32L442.44 16.27L443.11 16.23L443.78 16.2L444.44 16.19L445.11 16.2L445.77 16.23L446.44 16.27L447.11 16.32L447.77 16.4L448.44 16.48L449.11 16.59L449.77 16.71L450.44 16.84L451.11 16.99L451.77 17.16L452.44 17.34L453.1 17.54L453.77 17.76L454.44 17.99L455.1 18.23L455.77 18.49L456.44 18.76L457.1 19.05L457.77 19.36L458.43 19.68L459.1 20.01L459.77 20.36L460.43 20.72L461.1 21.1" stroke="#008000" stroke-width="1.9"/>
<path d="M261.2 84.45L261.87 84.83L262.53 85.19L263.2 85.54L263.87 85.87L264.53 86.19L265.2 86.5L265.86 86.79L266.53 87.06L267.2 87.32L267.86 87.56L268.53 87.79L269.2 88.01L269.86 88.21L270.53 88.39L271.19 88.56L271.86 88.71L272.53 88.84L273.19 88.96L273.86 89.07L274.53 89.15L275.19 89.23L275.86 89.28L276.53 89.32L277.19 89.35L277.86 89.36L278.52 89.35L279.19 89.32L279.86 89.28L280.52 89.23L281.19 89.15L281.86 89.07L282.52 88.96L283.19 88.84L283.86 88.71L284.52 88.56L285.19 88.39L285.85 88.21L286.52 88.01L287.19 87.79L287.85 87.56L288.52 87.32L289.19 87.06L289.85 86.79L290.52 86.5L291.19 86.19L291.85 85.87L292.52 85.54L293.18 85.19L293.85 84.83L294.52 84.45L295.18 84.06L295.85 83.66L296.52 83.24L297.18 82.81L297.85 82.37L298.51 81.91L299.18 81.44L299.85 80.96L300.51 80.47L301.18 79.96L301.85 79.44L302.51 78.91L303.18 78.37L303.85 77.82L304.51 77.25L305.18 76.68L305.84 76.09L306.51 75.5L307.18 74.89L307.84 74.28L308.51 73.65L309.18 73.02L309.84 72.38L310.51 71.72L311.18 71.06L311.84 71.72L312.51 72.38L313.17 73.02L313.84 73.65L314.51 74.28L315.17 74.89L315.84 75.5L316.51 76.09L317.17 76.68L317.84 77.25L318.5 77.82L319.17 78.37L319.84 78.91L320.5 79.44L321.17 79.96L321.84 80.47L322.5 80.96L323.17 81.44L323.84 81.91L324.5 82.37L325.17 82.81L325.83 83.24L326.5 83.66L327.17 84.06L327.83 84.45L328.5 84.83L329.17 85.19L329.83 85.54L330.5 85.87L331.16 86.19L331.83 86.5L332.5 86.79L333.16 87.06L333.83 87.32L334.5 87.56L335.16 87.79L335.83 88.01L336.5 88.21L337.16 88.39L337.83 88.56L338.49 88.71L339.16 88.84L339.83 88.96L340.49 89.07L341.16 89.15L341.83 89.23L342.49 89.28L343.16 89.32L343.83 89.35L344.49 89.36L345.16 89.35L345.82 89.32L346.49 89.28L347.16 89.23L347.82 89.15L348.49 89.07L349.16 88.96L349.82 88.84L350.49 88.71L351.16 88.56L351.82 88.39L352.49 88.21L353.15 88.01L353.82 87.79L354.49 87.56L355.15 87.32L355.82 87.06L356.49 86.79L357.15 86.5L357.82 86.19L358.48 85.87L359.15 85.54L359.82 85.19L360.48 84.83L361.15 84.45L361.82 84.06L362.48 83.66L363.15 83.24L363.82 82.81L364.48 82.37L365.15 81.91L365.81 81.44L366.48 80.96L367.15 80.47L367.81 79.96L368.48 79.44L369.15 78.91L369.81 78.37L370.48 77.82L371.14 77.25L371.81 76.68L372.48 76.09L373.14 75.5L373.81 74.89L374.48 74.28L375.14 73.65L375.81 73.02L376.48 72.38L377.14 71.72L377.81 71.06L378.47 71.72L379.14 72.38L379.81 73.02L380.47 73.65L381.14 74.28L381.81 74.89L382.47 75.5L383.14 76.09L383.81 76.68L384.47 77.25L385.14 77.82L385.8 78.37L386.47 78.91L387.14 79.44L387.8 79.96L388.47 80.47L389.14 80.96L389.8 81.44L390.47 81.91L391.13 82.37L391.8 82.81L392.47 83.24L393.13 83.66L393.8 84.06L394.47 84.45L395.13 84.83L395.8 85.19L396.47 85.54L397.13 85.87L397.8 86.19L398.46 86.5L399.13 86.79L399.8 87.06L400.46 87.32L401.13 87.56L401.8 87.79L402.46 88.01L403.13 88.21L403.8 88.39L404.46 88.56L405.13 88.71L405.79 88.84L406.46 88.96L407.13 89.07L407.79 89.15L408.46 89.23L409.13 89.28L409.79 89.32L410.46 89.35L411.12 89.36L411.79 89.35L412.46 89.32L413.12 89.28L413.79 89.23L414.46 89.15L415.12 89.07L415.79 88.96L416.46 88.84L417.12 88.71L417.79 88.56L418.45 88.39L419.12 88.21L419.79 88.01L420.45 87.79L421.12 87.56L421.79 87.32L422.45 87.06L423.12 86.79L423.79 86.5L424.45 86.19L425.12 85.87L425.78 85.54L426.45 85.19L427.12 84.83L427.78 84.45L428.45 84.06L429.12 83.66L429.78 83.24L430.45 82.81L431.12 82.37L431.78 81.91L432.45 81.44L433.11 80.96L433.78 80.47L434.45 79.96L435.11 79.44L435.78 78.91L436.45 78.37L437.11 77.82L437.78 77.25L438.44 76.68L439.11 76.09L439.78 75.5L440.44 74.89L441.11 74.28L441.78 73.65L442.44 73.02L443.11 72.38L443.78 71.72L444.44 71.07L445.11 71.72L445.77 72.38L446.44 73.02L447.11 73.65L447.77 74.28L448.44 74.89L449.11 75.5L449.77 76.09L450.44 76.68L451.11 77.25L451.77 77.82L452.44 78.37L453.1 78.91L453.77 79.44L454.44 79.96L455.1 80.47L455.77 80.96L456.44 81.44L457.1 81.91L457.77 82.37L458.43 82.81L459.1 83.24L459.77 83.66L460.43 84.06L461.1 84.45" stroke="#ff00ff" stroke-width="2"/>
</g>
<g font-size="6.2" font-weight="bold" fill="#1a1a1a">
<text x="259.6" y="100.55" text-anchor="end">-1</text>
<text x="259.6" y="91.4" text-anchor="end">-0.8</text>
<text x="259.6" y="82.26" text-anchor="end">-0.6</text>
<text x="259.6" y="73.11" text-anchor="end">-0.4</text>
<text x="259.6" y="63.97" text-anchor="end">-0.2</text>
<text x="259.6" y="54.82" text-anchor="end">0</text>
<text x="259.6" y="45.68" text-anchor="end">0.2</text>
<text x="259.6" y="36.53" text-anchor="end">0.4</text>
<text x="259.6" y="27.39" text-anchor="end">0.6</text>
<text x="259.6" y="18.24" text-anchor="end">0.8</text>
<text x="259.6" y="9.1" text-anchor="end">1</text>
<text x="261.2" y="105.6" text-anchor="middle" font-size="6.5">0</text>
<text x="281.19" y="105.6" text-anchor="middle" font-size="6.5">0.002</text>
<text x="301.18" y="105.6" text-anchor="middle" font-size="6.5">0.004</text>
<text x="321.17" y="105.6" text-anchor="middle" font-size="6.5">0.006</text>
<text x="341.16" y="105.6" text-anchor="middle" font-size="6.5">0.008</text>
<text x="361.15" y="105.6" text-anchor="middle" font-size="6.5">0.01</text>
<text x="381.14" y="105.6" text-anchor="middle" font-size="6.5">0.012</text>
<text x="401.13" y="105.6" text-anchor="middle" font-size="6.5">0.014</text>
<text x="421.12" y="105.6" text-anchor="middle" font-size="6.5">0.016</text>
<text x="441.11" y="105.6" text-anchor="middle" font-size="6.5">0.018</text>
<text x="461.1" y="105.6" text-anchor="middle" font-size="6.5">0.02</text>
</g>
<text x="361.15" y="113" text-anchor="middle" font-size="6.3" font-weight="bold" fill="#222">Time (s)</text>
<rect x="440.6" y="8.8" width="18.9" height="52.4" fill="#fff" stroke="#aaa" stroke-width="0.4"/>
<path d="M441.5 14.5H450" stroke="#ff0000" stroke-width="1.35"/>
<text transform="translate(450.3,15.9) scale(0.78,1)" font-size="6.6" font-weight="bold" fill="#111">V</text>
<text x="454.33" y="18.9" font-size="5.61" font-weight="bold" fill="#111">a</text>
<path d="M441.5 24.5H450" stroke="#efa815" stroke-width="1.35"/>
<text transform="translate(450.3,25.98) scale(0.78,1)" font-size="6.6" font-weight="bold" fill="#111">V</text>
<text x="454.33" y="28.98" font-size="5.61" font-weight="bold" fill="#111">b</text>
<path d="M441.5 35.5H450" stroke="#0000ff" stroke-width="1.35"/>
<text transform="translate(450.3,36.06) scale(0.78,1)" font-size="6.6" font-weight="bold" fill="#111">V</text>
<text x="454.33" y="39.06" font-size="5.61" font-weight="bold" fill="#111">c</text>
<path d="M441.5 45.5H450" stroke="#008000" stroke-width="1.35"/>
<text transform="translate(450.3,46.14) scale(0.78,1)" font-size="6.6" font-weight="bold" fill="#111">V</text>
<text x="454.33" y="49.14" font-size="5.61" font-weight="bold" fill="#111">p</text>
<path d="M441.5 55.5H450" stroke="#ff00ff" stroke-width="1.35"/>
<text transform="translate(450.3,56.22) scale(0.78,1)" font-size="6.6" font-weight="bold" fill="#111">V</text>
<text x="454.33" y="59.22" font-size="5.61" font-weight="bold" fill="#111">n</text>
<rect x="16.6" y="145.3" width="198" height="95.9" fill="#fff"/>
<path d="M36.4 145.3V241.2M56.2 145.3V241.2M76 145.3V241.2M95.8 145.3V241.2M115.6 145.3V241.2M135.4 145.3V241.2M155.2 145.3V241.2M175 145.3V241.2M194.8 145.3V241.2M16.6 231.61H214.6M16.6 222.02H214.6M16.6 212.43H214.6M16.6 202.84H214.6M16.6 193.25H214.6M16.6 183.66H214.6M16.6 174.07H214.6M16.6 164.48H214.6M16.6 154.89H214.6" stroke="#ececec" stroke-width="0.5" fill="none"/>
<clipPath id="cc"><rect x="15.7" y="144.4" width="199.8" height="97.7"/></clipPath>
<path d="M16.6 193.25L21.55 145.3L31.45 241.2L41.35 145.3L51.25 241.2L61.15 145.3L71.05 241.2L80.95 145.3L90.85 241.2L100.75 145.3L110.65 241.2L120.55 145.3L130.45 241.2L140.35 145.3L150.25 241.2L160.15 145.3L170.05 241.2L179.95 145.3L189.85 241.2L199.75 145.3L209.65 241.2L214.6 193.25" stroke="#5c5c5c" stroke-width="0.75" fill="none" stroke-linejoin="miter"/>
<rect x="16.6" y="145.3" width="198" height="95.9" fill="none" stroke="#9a9a9a" stroke-width="0.5"/>
<path d="M16.6 241.2v-1.5M16.6 145.3v1.5M16.6 241.2h1.5M214.6 241.2h-1.5M36.4 241.2v-1.5M36.4 145.3v1.5M16.6 231.61h1.5M214.6 231.61h-1.5M56.2 241.2v-1.5M56.2 145.3v1.5M16.6 222.02h1.5M214.6 222.02h-1.5M76 241.2v-1.5M76 145.3v1.5M16.6 212.43h1.5M214.6 212.43h-1.5M95.8 241.2v-1.5M95.8 145.3v1.5M16.6 202.84h1.5M214.6 202.84h-1.5M115.6 241.2v-1.5M115.6 145.3v1.5M16.6 193.25h1.5M214.6 193.25h-1.5M135.4 241.2v-1.5M135.4 145.3v1.5M16.6 183.66h1.5M214.6 183.66h-1.5M155.2 241.2v-1.5M155.2 145.3v1.5M16.6 174.07h1.5M214.6 174.07h-1.5M175 241.2v-1.5M175 145.3v1.5M16.6 164.48h1.5M214.6 164.48h-1.5M194.8 241.2v-1.5M194.8 145.3v1.5M16.6 154.89h1.5M214.6 154.89h-1.5M214.6 241.2v-1.5M214.6 145.3v1.5M16.6 145.3h1.5M214.6 145.3h-1.5" stroke="#777" stroke-width="0.5" fill="none"/>
<g clip-path="url(#cc)" fill="none" stroke-width="1.8" stroke-linejoin="round">
<path d="M16.6 193.25L17.26 192.05L17.92 190.84L18.58 189.64L19.24 188.45L19.9 187.26L20.56 186.09L21.22 184.92L21.88 183.77L22.54 182.64L23.2 181.52L23.86 180.42L24.52 179.33L25.18 178.27L25.84 177.24L26.5 176.22L27.16 175.24L27.82 174.28L28.48 173.34L29.14 172.44L29.8 171.57L30.46 170.72L31.12 169.91L31.78 169.14L32.44 168.39L33.1 167.68L33.76 167L34.42 166.35L35.08 165.74L35.74 165.16L36.4 164.62L37.06 164.11L37.72 163.64L38.38 163.2L39.04 162.79L39.7 162.41L40.36 162.06L41.02 161.75L41.68 161.47L42.34 161.21L43 160.99L43.66 160.79L44.32 160.61L44.98 160.47L45.64 160.34L46.3 160.24L46.96 160.16L47.62 160.1L48.28 160.06L48.94 160.04L49.6 160.03L50.26 160.04L50.92 160.06L51.58 160.09L52.24 160.13L52.9 160.18L53.56 160.24L54.22 160.31L54.88 160.38L55.54 160.45L56.2 160.53L56.86 160.6L57.52 160.68L58.18 160.76L58.84 160.83L59.5 160.9L60.16 160.97L60.82 161.03L61.48 161.09L62.14 161.14L62.8 161.18L63.46 161.22L64.12 161.25L64.78 161.27L65.44 161.28L66.1 161.28L66.76 161.28L67.42 161.27L68.08 161.25L68.74 161.22L69.4 161.18L70.06 161.14L70.72 161.09L71.38 161.03L72.04 160.97L72.7 160.9L73.36 160.83L74.02 160.76L74.68 160.68L75.34 160.6L76 160.53L76.66 160.45L77.32 160.38L77.98 160.31L78.64 160.24L79.3 160.18L79.96 160.13L80.62 160.09L81.28 160.06L81.94 160.04L82.6 160.03L83.26 160.04L83.92 160.06L84.58 160.1L85.24 160.16L85.9 160.24L86.56 160.34L87.22 160.47L87.88 160.61L88.54 160.79L89.2 160.99L89.86 161.21L90.52 161.47L91.18 161.75L91.84 162.06L92.5 162.41L93.16 162.79L93.82 163.2L94.48 163.64L95.14 164.11L95.8 164.62L96.46 165.16L97.12 165.74L97.78 166.35L98.44 167L99.1 167.68L99.76 168.39L100.42 169.14L101.08 169.91L101.74 170.72L102.4 171.57L103.06 172.44L103.72 173.34L104.38 174.28L105.04 175.24L105.7 176.22L106.36 177.24L107.02 178.27L107.68 179.33L108.34 180.42L109 181.52L109.66 182.64L110.32 183.77L110.98 184.92L111.64 186.09L112.3 187.26L112.96 188.45L113.62 189.64L114.28 190.84L114.94 192.05L115.6 193.25L116.26 194.45L116.92 195.66L117.58 196.86L118.24 198.05L118.9 199.24L119.56 200.41L120.22 201.58L120.88 202.73L121.54 203.86L122.2 204.98L122.86 206.08L123.52 207.17L124.18 208.23L124.84 209.26L125.5 210.28L126.16 211.26L126.82 212.22L127.48 213.16L128.14 214.06L128.8 214.93L129.46 215.78L130.12 216.59L130.78 217.36L131.44 218.11L132.1 218.82L132.76 219.5L133.42 220.15L134.08 220.76L134.74 221.34L135.4 221.88L136.06 222.39L136.72 222.86L137.38 223.3L138.04 223.71L138.7 224.09L139.36 224.44L140.02 224.75L140.68 225.03L141.34 225.29L142 225.51L142.66 225.71L143.32 225.89L143.98 226.03L144.64 226.16L145.3 226.26L145.96 226.34L146.62 226.4L147.28 226.44L147.94 226.46L148.6 226.47L149.26 226.46L149.92 226.44L150.58 226.41L151.24 226.37L151.9 226.32L152.56 226.26L153.22 226.19L153.88 226.12L154.54 226.05L155.2 225.97L155.86 225.9L156.52 225.82L157.18 225.74L157.84 225.67L158.5 225.6L159.16 225.53L159.82 225.47L160.48 225.41L161.14 225.36L161.8 225.32L162.46 225.28L163.12 225.25L163.78 225.23L164.44 225.22L165.1 225.22L165.76 225.22L166.42 225.23L167.08 225.25L167.74 225.28L168.4 225.32L169.06 225.36L169.72 225.41L170.38 225.47L171.04 225.53L171.7 225.6L172.36 225.67L173.02 225.74L173.68 225.82L174.34 225.9L175 225.97L175.66 226.05L176.32 226.12L176.98 226.19L177.64 226.26L178.3 226.32L178.96 226.37L179.62 226.41L180.28 226.44L180.94 226.46L181.6 226.47L182.26 226.46L182.92 226.44L183.58 226.4L184.24 226.34L184.9 226.26L185.56 226.16L186.22 226.03L186.88 225.89L187.54 225.71L188.2 225.51L188.86 225.29L189.52 225.03L190.18 224.75L190.84 224.44L191.5 224.09L192.16 223.71L192.82 223.3L193.48 222.86L194.14 222.39L194.8 221.88L195.46 221.34L196.12 220.76L196.78 220.15L197.44 219.5L198.1 218.82L198.76 218.11L199.42 217.36L200.08 216.59L200.74 215.78L201.4 214.93L202.06 214.06L202.72 213.16L203.38 212.22L204.04 211.26L204.7 210.28L205.36 209.26L206.02 208.23L206.68 207.17L207.34 206.08L208 204.98L208.66 203.86L209.32 202.73L209.98 201.58L210.64 200.41L211.3 199.24L211.96 198.05L212.62 196.86L213.28 195.66L213.94 194.45L214.6 193.25" stroke="#ff0000" stroke-width="1.6"/>
<path d="M16.6 226.47L17.26 226.46L17.92 226.44L18.58 226.41L19.24 226.37L19.9 226.32L20.56 226.26L21.22 226.19L21.88 226.12L22.54 226.05L23.2 225.97L23.86 225.9L24.52 225.82L25.18 225.74L25.84 225.67L26.5 225.6L27.16 225.53L27.82 225.47L28.48 225.41L29.14 225.36L29.8 225.32L30.46 225.28L31.12 225.25L31.78 225.23L32.44 225.22L33.1 225.22L33.76 225.22L34.42 225.23L35.08 225.25L35.74 225.28L36.4 225.32L37.06 225.36L37.72 225.41L38.38 225.47L39.04 225.53L39.7 225.6L40.36 225.67L41.02 225.74L41.68 225.82L42.34 225.9L43 225.97L43.66 226.05L44.32 226.12L44.98 226.19L45.64 226.26L46.3 226.32L46.96 226.37L47.62 226.41L48.28 226.44L48.94 226.46L49.6 226.47L50.26 226.46L50.92 226.44L51.58 226.4L52.24 226.34L52.9 226.26L53.56 226.16L54.22 226.03L54.88 225.89L55.54 225.71L56.2 225.51L56.86 225.29L57.52 225.03L58.18 224.75L58.84 224.44L59.5 224.09L60.16 223.71L60.82 223.3L61.48 222.86L62.14 222.39L62.8 221.88L63.46 221.34L64.12 220.76L64.78 220.15L65.44 219.5L66.1 218.82L66.76 218.11L67.42 217.36L68.08 216.59L68.74 215.78L69.4 214.93L70.06 214.06L70.72 213.16L71.38 212.22L72.04 211.26L72.7 210.28L73.36 209.26L74.02 208.23L74.68 207.17L75.34 206.08L76 204.98L76.66 203.86L77.32 202.73L77.98 201.58L78.64 200.41L79.3 199.24L79.96 198.05L80.62 196.86L81.28 195.66L81.94 194.45L82.6 193.25L83.26 192.05L83.92 190.84L84.58 189.64L85.24 188.45L85.9 187.26L86.56 186.09L87.22 184.92L87.88 183.77L88.54 182.64L89.2 181.52L89.86 180.42L90.52 179.33L91.18 178.27L91.84 177.24L92.5 176.22L93.16 175.24L93.82 174.28L94.48 173.34L95.14 172.44L95.8 171.57L96.46 170.72L97.12 169.91L97.78 169.14L98.44 168.39L99.1 167.68L99.76 167L100.42 166.35L101.08 165.74L101.74 165.16L102.4 164.62L103.06 164.11L103.72 163.64L104.38 163.2L105.04 162.79L105.7 162.41L106.36 162.06L107.02 161.75L107.68 161.47L108.34 161.21L109 160.99L109.66 160.79L110.32 160.61L110.98 160.47L111.64 160.34L112.3 160.24L112.96 160.16L113.62 160.1L114.28 160.06L114.94 160.04L115.6 160.03L116.26 160.04L116.92 160.06L117.58 160.09L118.24 160.13L118.9 160.18L119.56 160.24L120.22 160.31L120.88 160.38L121.54 160.45L122.2 160.53L122.86 160.6L123.52 160.68L124.18 160.76L124.84 160.83L125.5 160.9L126.16 160.97L126.82 161.03L127.48 161.09L128.14 161.14L128.8 161.18L129.46 161.22L130.12 161.25L130.78 161.27L131.44 161.28L132.1 161.28L132.76 161.28L133.42 161.27L134.08 161.25L134.74 161.22L135.4 161.18L136.06 161.14L136.72 161.09L137.38 161.03L138.04 160.97L138.7 160.9L139.36 160.83L140.02 160.76L140.68 160.68L141.34 160.6L142 160.53L142.66 160.45L143.32 160.38L143.98 160.31L144.64 160.24L145.3 160.18L145.96 160.13L146.62 160.09L147.28 160.06L147.94 160.04L148.6 160.03L149.26 160.04L149.92 160.06L150.58 160.1L151.24 160.16L151.9 160.24L152.56 160.34L153.22 160.47L153.88 160.61L154.54 160.79L155.2 160.99L155.86 161.21L156.52 161.47L157.18 161.75L157.84 162.06L158.5 162.41L159.16 162.79L159.82 163.2L160.48 163.64L161.14 164.11L161.8 164.62L162.46 165.16L163.12 165.74L163.78 166.35L164.44 167L165.1 167.68L165.76 168.39L166.42 169.14L167.08 169.91L167.74 170.72L168.4 171.57L169.06 172.44L169.72 173.34L170.38 174.28L171.04 175.24L171.7 176.22L172.36 177.24L173.02 178.27L173.68 179.33L174.34 180.42L175 181.52L175.66 182.64L176.32 183.77L176.98 184.92L177.64 186.09L178.3 187.26L178.96 188.45L179.62 189.64L180.28 190.84L180.94 192.05L181.6 193.25L182.26 194.45L182.92 195.66L183.58 196.86L184.24 198.05L184.9 199.24L185.56 200.41L186.22 201.58L186.88 202.73L187.54 203.86L188.2 204.98L188.86 206.08L189.52 207.17L190.18 208.23L190.84 209.26L191.5 210.28L192.16 211.26L192.82 212.22L193.48 213.16L194.14 214.06L194.8 214.93L195.46 215.78L196.12 216.59L196.78 217.36L197.44 218.11L198.1 218.82L198.76 219.5L199.42 220.15L200.08 220.76L200.74 221.34L201.4 221.88L202.06 222.39L202.72 222.86L203.38 223.3L204.04 223.71L204.7 224.09L205.36 224.44L206.02 224.75L206.68 225.03L207.34 225.29L208 225.51L208.66 225.71L209.32 225.89L209.98 226.03L210.64 226.16L211.3 226.26L211.96 226.34L212.62 226.4L213.28 226.44L213.94 226.46L214.6 226.47" stroke="#efa815" stroke-width="1.7"/>
<path d="M16.6 160.03L17.26 160.04L17.92 160.06L18.58 160.1L19.24 160.16L19.9 160.24L20.56 160.34L21.22 160.47L21.88 160.61L22.54 160.79L23.2 160.99L23.86 161.21L24.52 161.47L25.18 161.75L25.84 162.06L26.5 162.41L27.16 162.79L27.82 163.2L28.48 163.64L29.14 164.11L29.8 164.62L30.46 165.16L31.12 165.74L31.78 166.35L32.44 167L33.1 167.68L33.76 168.39L34.42 169.14L35.08 169.91L35.74 170.72L36.4 171.57L37.06 172.44L37.72 173.34L38.38 174.28L39.04 175.24L39.7 176.22L40.36 177.24L41.02 178.27L41.68 179.33L42.34 180.42L43 181.52L43.66 182.64L44.32 183.77L44.98 184.92L45.64 186.09L46.3 187.26L46.96 188.45L47.62 189.64L48.28 190.84L48.94 192.05L49.6 193.25L50.26 194.45L50.92 195.66L51.58 196.86L52.24 198.05L52.9 199.24L53.56 200.41L54.22 201.58L54.88 202.73L55.54 203.86L56.2 204.98L56.86 206.08L57.52 207.17L58.18 208.23L58.84 209.26L59.5 210.28L60.16 211.26L60.82 212.22L61.48 213.16L62.14 214.06L62.8 214.93L63.46 215.78L64.12 216.59L64.78 217.36L65.44 218.11L66.1 218.82L66.76 219.5L67.42 220.15L68.08 220.76L68.74 221.34L69.4 221.88L70.06 222.39L70.72 222.86L71.38 223.3L72.04 223.71L72.7 224.09L73.36 224.44L74.02 224.75L74.68 225.03L75.34 225.29L76 225.51L76.66 225.71L77.32 225.89L77.98 226.03L78.64 226.16L79.3 226.26L79.96 226.34L80.62 226.4L81.28 226.44L81.94 226.46L82.6 226.47L83.26 226.46L83.92 226.44L84.58 226.41L85.24 226.37L85.9 226.32L86.56 226.26L87.22 226.19L87.88 226.12L88.54 226.05L89.2 225.97L89.86 225.9L90.52 225.82L91.18 225.74L91.84 225.67L92.5 225.6L93.16 225.53L93.82 225.47L94.48 225.41L95.14 225.36L95.8 225.32L96.46 225.28L97.12 225.25L97.78 225.23L98.44 225.22L99.1 225.22L99.76 225.22L100.42 225.23L101.08 225.25L101.74 225.28L102.4 225.32L103.06 225.36L103.72 225.41L104.38 225.47L105.04 225.53L105.7 225.6L106.36 225.67L107.02 225.74L107.68 225.82L108.34 225.9L109 225.97L109.66 226.05L110.32 226.12L110.98 226.19L111.64 226.26L112.3 226.32L112.96 226.37L113.62 226.41L114.28 226.44L114.94 226.46L115.6 226.47L116.26 226.46L116.92 226.44L117.58 226.4L118.24 226.34L118.9 226.26L119.56 226.16L120.22 226.03L120.88 225.89L121.54 225.71L122.2 225.51L122.86 225.29L123.52 225.03L124.18 224.75L124.84 224.44L125.5 224.09L126.16 223.71L126.82 223.3L127.48 222.86L128.14 222.39L128.8 221.88L129.46 221.34L130.12 220.76L130.78 220.15L131.44 219.5L132.1 218.82L132.76 218.11L133.42 217.36L134.08 216.59L134.74 215.78L135.4 214.93L136.06 214.06L136.72 213.16L137.38 212.22L138.04 211.26L138.7 210.28L139.36 209.26L140.02 208.23L140.68 207.17L141.34 206.08L142 204.98L142.66 203.86L143.32 202.73L143.98 201.58L144.64 200.41L145.3 199.24L145.96 198.05L146.62 196.86L147.28 195.66L147.94 194.45L148.6 193.25L149.26 192.05L149.92 190.84L150.58 189.64L151.24 188.45L151.9 187.26L152.56 186.09L153.22 184.92L153.88 183.77L154.54 182.64L155.2 181.52L155.86 180.42L156.52 179.33L157.18 178.27L157.84 177.24L158.5 176.22L159.16 175.24L159.82 174.28L160.48 173.34L161.14 172.44L161.8 171.57L162.46 170.72L163.12 169.91L163.78 169.14L164.44 168.39L165.1 167.68L165.76 167L166.42 166.35L167.08 165.74L167.74 165.16L168.4 164.62L169.06 164.11L169.72 163.64L170.38 163.2L171.04 162.79L171.7 162.41L172.36 162.06L173.02 161.75L173.68 161.47L174.34 161.21L175 160.99L175.66 160.79L176.32 160.61L176.98 160.47L177.64 160.34L178.3 160.24L178.96 160.16L179.62 160.1L180.28 160.06L180.94 160.04L181.6 160.03L182.26 160.04L182.92 160.06L183.58 160.09L184.24 160.13L184.9 160.18L185.56 160.24L186.22 160.31L186.88 160.38L187.54 160.45L188.2 160.53L188.86 160.6L189.52 160.68L190.18 160.76L190.84 160.83L191.5 160.9L192.16 160.97L192.82 161.03L193.48 161.09L194.14 161.14L194.8 161.18L195.46 161.22L196.12 161.25L196.78 161.27L197.44 161.28L198.1 161.28L198.76 161.28L199.42 161.27L200.08 161.25L200.74 161.22L201.4 161.18L202.06 161.14L202.72 161.09L203.38 161.03L204.04 160.97L204.7 160.9L205.36 160.83L206.02 160.76L206.68 160.68L207.34 160.6L208 160.53L208.66 160.45L209.32 160.38L209.98 160.31L210.64 160.24L211.3 160.18L211.96 160.13L212.62 160.09L213.28 160.06L213.94 160.04L214.6 160.03" stroke="#0000ff" stroke-width="1.8"/>
<path d="M16.6 160.03L17.26 160.04L17.92 160.06L18.58 160.1L19.24 160.16L19.9 160.24L20.56 160.34L21.22 160.47L21.88 160.61L22.54 160.79L23.2 160.99L23.86 161.21L24.52 161.47L25.18 161.75L25.84 162.06L26.5 162.41L27.16 162.79L27.82 163.2L28.48 163.64L29.14 164.11L29.8 164.62L30.46 165.16L31.12 165.74L31.78 166.35L32.44 167L33.1 167.68L33.76 167L34.42 166.35L35.08 165.74L35.74 165.16L36.4 164.62L37.06 164.11L37.72 163.64L38.38 163.2L39.04 162.79L39.7 162.41L40.36 162.06L41.02 161.75L41.68 161.47L42.34 161.21L43 160.99L43.66 160.79L44.32 160.61L44.98 160.47L45.64 160.34L46.3 160.24L46.96 160.16L47.62 160.1L48.28 160.06L48.94 160.04L49.6 160.03L50.26 160.04L50.92 160.06L51.58 160.09L52.24 160.13L52.9 160.18L53.56 160.24L54.22 160.31L54.88 160.38L55.54 160.45L56.2 160.53L56.86 160.6L57.52 160.68L58.18 160.76L58.84 160.83L59.5 160.9L60.16 160.97L60.82 161.03L61.48 161.09L62.14 161.14L62.8 161.18L63.46 161.22L64.12 161.25L64.78 161.27L65.44 161.28L66.1 161.28L66.76 161.28L67.42 161.27L68.08 161.25L68.74 161.22L69.4 161.18L70.06 161.14L70.72 161.09L71.38 161.03L72.04 160.97L72.7 160.9L73.36 160.83L74.02 160.76L74.68 160.68L75.34 160.6L76 160.53L76.66 160.45L77.32 160.38L77.98 160.31L78.64 160.24L79.3 160.18L79.96 160.13L80.62 160.09L81.28 160.06L81.94 160.04L82.6 160.03L83.26 160.04L83.92 160.06L84.58 160.1L85.24 160.16L85.9 160.24L86.56 160.34L87.22 160.47L87.88 160.61L88.54 160.79L89.2 160.99L89.86 161.21L90.52 161.47L91.18 161.75L91.84 162.06L92.5 162.41L93.16 162.79L93.82 163.2L94.48 163.64L95.14 164.11L95.8 164.62L96.46 165.16L97.12 165.74L97.78 166.35L98.44 167L99.1 167.68L99.76 167L100.42 166.35L101.08 165.74L101.74 165.16L102.4 164.62L103.06 164.11L103.72 163.64L104.38 163.2L105.04 162.79L105.7 162.41L106.36 162.06L107.02 161.75L107.68 161.47L108.34 161.21L109 160.99L109.66 160.79L110.32 160.61L110.98 160.47L111.64 160.34L112.3 160.24L112.96 160.16L113.62 160.1L114.28 160.06L114.94 160.04L115.6 160.03L116.26 160.04L116.92 160.06L117.58 160.09L118.24 160.13L118.9 160.18L119.56 160.24L120.22 160.31L120.88 160.38L121.54 160.45L122.2 160.53L122.86 160.6L123.52 160.68L124.18 160.76L124.84 160.83L125.5 160.9L126.16 160.97L126.82 161.03L127.48 161.09L128.14 161.14L128.8 161.18L129.46 161.22L130.12 161.25L130.78 161.27L131.44 161.28L132.1 161.28L132.76 161.28L133.42 161.27L134.08 161.25L134.74 161.22L135.4 161.18L136.06 161.14L136.72 161.09L137.38 161.03L138.04 160.97L138.7 160.9L139.36 160.83L140.02 160.76L140.68 160.68L141.34 160.6L142 160.53L142.66 160.45L143.32 160.38L143.98 160.31L144.64 160.24L145.3 160.18L145.96 160.13L146.62 160.09L147.28 160.06L147.94 160.04L148.6 160.03L149.26 160.04L149.92 160.06L150.58 160.1L151.24 160.16L151.9 160.24L152.56 160.34L153.22 160.47L153.88 160.61L154.54 160.79L155.2 160.99L155.86 161.21L156.52 161.47L157.18 161.75L157.84 162.06L158.5 162.41L159.16 162.79L159.82 163.2L160.48 163.64L161.14 164.11L161.8 164.62L162.46 165.16L163.12 165.74L163.78 166.35L164.44 167L165.1 167.68L165.76 167L166.42 166.35L167.08 165.74L167.74 165.16L168.4 164.62L169.06 164.11L169.72 163.64L170.38 163.2L171.04 162.79L171.7 162.41L172.36 162.06L173.02 161.75L173.68 161.47L174.34 161.21L175 160.99L175.66 160.79L176.32 160.61L176.98 160.47L177.64 160.34L178.3 160.24L178.96 160.16L179.62 160.1L180.28 160.06L180.94 160.04L181.6 160.03L182.26 160.04L182.92 160.06L183.58 160.09L184.24 160.13L184.9 160.18L185.56 160.24L186.22 160.31L186.88 160.38L187.54 160.45L188.2 160.53L188.86 160.6L189.52 160.68L190.18 160.76L190.84 160.83L191.5 160.9L192.16 160.97L192.82 161.03L193.48 161.09L194.14 161.14L194.8 161.18L195.46 161.22L196.12 161.25L196.78 161.27L197.44 161.28L198.1 161.28L198.76 161.28L199.42 161.27L200.08 161.25L200.74 161.22L201.4 161.18L202.06 161.14L202.72 161.09L203.38 161.03L204.04 160.97L204.7 160.9L205.36 160.83L206.02 160.76L206.68 160.68L207.34 160.6L208 160.53L208.66 160.45L209.32 160.38L209.98 160.31L210.64 160.24L211.3 160.18L211.96 160.13L212.62 160.09L213.28 160.06L213.94 160.04L214.6 160.03" stroke="#008000" stroke-width="1.9"/>
<path d="M16.6 226.47L17.26 226.46L17.92 226.44L18.58 226.41L19.24 226.37L19.9 226.32L20.56 226.26L21.22 226.19L21.88 226.12L22.54 226.05L23.2 225.97L23.86 225.9L24.52 225.82L25.18 225.74L25.84 225.67L26.5 225.6L27.16 225.53L27.82 225.47L28.48 225.41L29.14 225.36L29.8 225.32L30.46 225.28L31.12 225.25L31.78 225.23L32.44 225.22L33.1 225.22L33.76 225.22L34.42 225.23L35.08 225.25L35.74 225.28L36.4 225.32L37.06 225.36L37.72 225.41L38.38 225.47L39.04 225.53L39.7 225.6L40.36 225.67L41.02 225.74L41.68 225.82L42.34 225.9L43 225.97L43.66 226.05L44.32 226.12L44.98 226.19L45.64 226.26L46.3 226.32L46.96 226.37L47.62 226.41L48.28 226.44L48.94 226.46L49.6 226.47L50.26 226.46L50.92 226.44L51.58 226.4L52.24 226.34L52.9 226.26L53.56 226.16L54.22 226.03L54.88 225.89L55.54 225.71L56.2 225.51L56.86 225.29L57.52 225.03L58.18 224.75L58.84 224.44L59.5 224.09L60.16 223.71L60.82 223.3L61.48 222.86L62.14 222.39L62.8 221.88L63.46 221.34L64.12 220.76L64.78 220.15L65.44 219.5L66.1 218.82L66.76 219.5L67.42 220.15L68.08 220.76L68.74 221.34L69.4 221.88L70.06 222.39L70.72 222.86L71.38 223.3L72.04 223.71L72.7 224.09L73.36 224.44L74.02 224.75L74.68 225.03L75.34 225.29L76 225.51L76.66 225.71L77.32 225.89L77.98 226.03L78.64 226.16L79.3 226.26L79.96 226.34L80.62 226.4L81.28 226.44L81.94 226.46L82.6 226.47L83.26 226.46L83.92 226.44L84.58 226.41L85.24 226.37L85.9 226.32L86.56 226.26L87.22 226.19L87.88 226.12L88.54 226.05L89.2 225.97L89.86 225.9L90.52 225.82L91.18 225.74L91.84 225.67L92.5 225.6L93.16 225.53L93.82 225.47L94.48 225.41L95.14 225.36L95.8 225.32L96.46 225.28L97.12 225.25L97.78 225.23L98.44 225.22L99.1 225.22L99.76 225.22L100.42 225.23L101.08 225.25L101.74 225.28L102.4 225.32L103.06 225.36L103.72 225.41L104.38 225.47L105.04 225.53L105.7 225.6L106.36 225.67L107.02 225.74L107.68 225.82L108.34 225.9L109 225.97L109.66 226.05L110.32 226.12L110.98 226.19L111.64 226.26L112.3 226.32L112.96 226.37L113.62 226.41L114.28 226.44L114.94 226.46L115.6 226.47L116.26 226.46L116.92 226.44L117.58 226.4L118.24 226.34L118.9 226.26L119.56 226.16L120.22 226.03L120.88 225.89L121.54 225.71L122.2 225.51L122.86 225.29L123.52 225.03L124.18 224.75L124.84 224.44L125.5 224.09L126.16 223.71L126.82 223.3L127.48 222.86L128.14 222.39L128.8 221.88L129.46 221.34L130.12 220.76L130.78 220.15L131.44 219.5L132.1 218.82L132.76 219.5L133.42 220.15L134.08 220.76L134.74 221.34L135.4 221.88L136.06 222.39L136.72 222.86L137.38 223.3L138.04 223.71L138.7 224.09L139.36 224.44L140.02 224.75L140.68 225.03L141.34 225.29L142 225.51L142.66 225.71L143.32 225.89L143.98 226.03L144.64 226.16L145.3 226.26L145.96 226.34L146.62 226.4L147.28 226.44L147.94 226.46L148.6 226.47L149.26 226.46L149.92 226.44L150.58 226.41L151.24 226.37L151.9 226.32L152.56 226.26L153.22 226.19L153.88 226.12L154.54 226.05L155.2 225.97L155.86 225.9L156.52 225.82L157.18 225.74L157.84 225.67L158.5 225.6L159.16 225.53L159.82 225.47L160.48 225.41L161.14 225.36L161.8 225.32L162.46 225.28L163.12 225.25L163.78 225.23L164.44 225.22L165.1 225.22L165.76 225.22L166.42 225.23L167.08 225.25L167.74 225.28L168.4 225.32L169.06 225.36L169.72 225.41L170.38 225.47L171.04 225.53L171.7 225.6L172.36 225.67L173.02 225.74L173.68 225.82L174.34 225.9L175 225.97L175.66 226.05L176.32 226.12L176.98 226.19L177.64 226.26L178.3 226.32L178.96 226.37L179.62 226.41L180.28 226.44L180.94 226.46L181.6 226.47L182.26 226.46L182.92 226.44L183.58 226.4L184.24 226.34L184.9 226.26L185.56 226.16L186.22 226.03L186.88 225.89L187.54 225.71L188.2 225.51L188.86 225.29L189.52 225.03L190.18 224.75L190.84 224.44L191.5 224.09L192.16 223.71L192.82 223.3L193.48 222.86L194.14 222.39L194.8 221.88L195.46 221.34L196.12 220.76L196.78 220.15L197.44 219.5L198.1 218.82L198.76 219.5L199.42 220.15L200.08 220.76L200.74 221.34L201.4 221.88L202.06 222.39L202.72 222.86L203.38 223.3L204.04 223.71L204.7 224.09L205.36 224.44L206.02 224.75L206.68 225.03L207.34 225.29L208 225.51L208.66 225.71L209.32 225.89L209.98 226.03L210.64 226.16L211.3 226.26L211.96 226.34L212.62 226.4L213.28 226.44L213.94 226.46L214.6 226.47" stroke="#ff00ff" stroke-width="2"/>
</g>
<g font-size="6.2" font-weight="bold" fill="#1a1a1a">
<text x="15" y="243.25" text-anchor="end">-1</text>
<text x="15" y="233.66" text-anchor="end">-0.8</text>
<text x="15" y="224.07" text-anchor="end">-0.6</text>
<text x="15" y="214.48" text-anchor="end">-0.4</text>
<text x="15" y="204.89" text-anchor="end">-0.2</text>
<text x="15" y="195.3" text-anchor="end">0</text>
<text x="15" y="185.71" text-anchor="end">0.2</text>
<text x="15" y="176.12" text-anchor="end">0.4</text>
<text x="15" y="166.53" text-anchor="end">0.6</text>
<text x="15" y="156.94" text-anchor="end">0.8</text>
<text x="15" y="147.35" text-anchor="end">1</text>
<text x="16.6" y="248.7" text-anchor="middle" font-size="6.5">0</text>
<text x="36.4" y="248.7" text-anchor="middle" font-size="6.5">0.002</text>
<text x="56.2" y="248.7" text-anchor="middle" font-size="6.5">0.004</text>
<text x="76" y="248.7" text-anchor="middle" font-size="6.5">0.006</text>
<text x="95.8" y="248.7" text-anchor="middle" font-size="6.5">0.008</text>
<text x="115.6" y="248.7" text-anchor="middle" font-size="6.5">0.01</text>
<text x="135.4" y="248.7" text-anchor="middle" font-size="6.5">0.012</text>
<text x="155.2" y="248.7" text-anchor="middle" font-size="6.5">0.014</text>
<text x="175" y="248.7" text-anchor="middle" font-size="6.5">0.016</text>
<text x="194.8" y="248.7" text-anchor="middle" font-size="6.5">0.018</text>
<text x="214.6" y="248.7" text-anchor="middle" font-size="6.5">0.02</text>
</g>
<text x="115.6" y="256.2" text-anchor="middle" font-size="6.3" font-weight="bold" fill="#222">Time (s)</text>
<rect x="194" y="147.5" width="17.6" height="53.7" fill="#fff" stroke="#aaa" stroke-width="0.4"/>
<path d="M194.9 153.5H203.4" stroke="#ff0000" stroke-width="1.35"/>
<text transform="translate(203.7,154.5) scale(0.78,1)" font-size="6.6" font-weight="bold" fill="#111">V</text>
<text x="207.73" y="157.5" font-size="5.61" font-weight="bold" fill="#111">a</text>
<path d="M194.9 164.5H203.4" stroke="#efa815" stroke-width="1.35"/>
<text transform="translate(203.7,165.1) scale(0.78,1)" font-size="6.6" font-weight="bold" fill="#111">V</text>
<text x="207.73" y="168.1" font-size="5.61" font-weight="bold" fill="#111">b</text>
<path d="M194.9 174.5H203.4" stroke="#0000ff" stroke-width="1.35"/>
<text transform="translate(203.7,175.7) scale(0.78,1)" font-size="6.6" font-weight="bold" fill="#111">V</text>
<text x="207.73" y="178.7" font-size="5.61" font-weight="bold" fill="#111">c</text>
<path d="M194.9 185.5H203.4" stroke="#008000" stroke-width="1.35"/>
<text transform="translate(203.7,186.3) scale(0.78,1)" font-size="6.6" font-weight="bold" fill="#111">V</text>
<text x="207.73" y="189.3" font-size="5.61" font-weight="bold" fill="#111">p</text>
<path d="M194.9 195.5H203.4" stroke="#ff00ff" stroke-width="1.35"/>
<text transform="translate(203.7,196.9) scale(0.78,1)" font-size="6.6" font-weight="bold" fill="#111">V</text>
<text x="207.73" y="199.9" font-size="5.61" font-weight="bold" fill="#111">n</text>
<rect x="254.3" y="146.2" width="212.7" height="94.5" fill="#fff"/>
<path d="M275.57 146.2V240.7M296.84 146.2V240.7M318.11 146.2V240.7M339.38 146.2V240.7M360.65 146.2V240.7M381.92 146.2V240.7M403.19 146.2V240.7M424.46 146.2V240.7M445.73 146.2V240.7M254.3 231.25H467M254.3 221.8H467M254.3 212.35H467M254.3 202.9H467M254.3 193.45H467M254.3 184H467M254.3 174.55H467M254.3 165.1H467M254.3 155.65H467" stroke="#ececec" stroke-width="0.5" fill="none"/>
<clipPath id="cd"><rect x="253.4" y="145.3" width="214.5" height="96.3"/></clipPath>
<path d="M254.3 193.45L259.62 146.2L270.25 240.7L280.89 146.2L291.52 240.7L302.16 146.2L312.79 240.7L323.43 146.2L334.06 240.7L344.7 146.2L355.33 240.7L365.97 146.2L376.6 240.7L387.24 146.2L397.87 240.7L408.51 146.2L419.14 240.7L429.78 146.2L440.41 240.7L451.05 146.2L461.68 240.7L467 193.45" stroke="#5c5c5c" stroke-width="0.75" fill="none" stroke-linejoin="miter"/>
<rect x="254.3" y="146.2" width="212.7" height="94.5" fill="none" stroke="#9a9a9a" stroke-width="0.5"/>
<path d="M254.3 240.7v-1.5M254.3 146.2v1.5M254.3 240.7h1.5M467 240.7h-1.5M275.57 240.7v-1.5M275.57 146.2v1.5M254.3 231.25h1.5M467 231.25h-1.5M296.84 240.7v-1.5M296.84 146.2v1.5M254.3 221.8h1.5M467 221.8h-1.5M318.11 240.7v-1.5M318.11 146.2v1.5M254.3 212.35h1.5M467 212.35h-1.5M339.38 240.7v-1.5M339.38 146.2v1.5M254.3 202.9h1.5M467 202.9h-1.5M360.65 240.7v-1.5M360.65 146.2v1.5M254.3 193.45h1.5M467 193.45h-1.5M381.92 240.7v-1.5M381.92 146.2v1.5M254.3 184h1.5M467 184h-1.5M403.19 240.7v-1.5M403.19 146.2v1.5M254.3 174.55h1.5M467 174.55h-1.5M424.46 240.7v-1.5M424.46 146.2v1.5M254.3 165.1h1.5M467 165.1h-1.5M445.73 240.7v-1.5M445.73 146.2v1.5M254.3 155.65h1.5M467 155.65h-1.5M467 240.7v-1.5M467 146.2v1.5M254.3 146.2h1.5M467 146.2h-1.5" stroke="#777" stroke-width="0.5" fill="none"/>
<g clip-path="url(#cd)" fill="none" stroke-width="1.8" stroke-linejoin="round">
<path d="M254.3 193.45L255.01 192.66L255.72 191.87L256.43 191.08L257.14 190.29L257.85 189.5L258.55 188.71L259.26 187.93L259.97 187.15L260.68 186.37L261.39 185.59L262.1 184.82L262.81 184.05L263.52 183.28L264.23 182.52L264.94 181.77L265.64 181.02L266.35 180.27L267.06 179.53L267.77 178.8L268.48 178.08L269.19 177.36L269.9 176.64L270.61 175.94L271.32 175.24L272.03 174.55L272.73 173.87L273.44 173.2L274.15 172.53L274.86 171.88L275.57 171.23L276.28 170.6L276.99 169.97L277.7 169.36L278.41 168.75L279.12 168.16L279.82 167.57L280.53 167L281.24 166.44L281.95 165.89L282.66 165.36L283.37 164.84L284.08 164.32L284.79 163.83L285.5 163.34L286.21 162.87L286.91 162.41L287.62 161.97L288.33 161.53L289.04 161.12L289.75 160.71L290.46 160.41L291.17 160.11L291.88 159.82L292.59 159.53L293.3 159.25L294 158.97L294.71 158.69L295.42 158.43L296.13 158.17L296.84 157.93L297.55 157.69L298.26 157.47L298.97 157.26L299.68 157.07L300.38 156.88L301.09 156.72L301.8 156.57L302.51 156.43L303.22 156.31L303.93 156.21L304.64 156.13L305.35 156.06L306.06 156.02L306.77 155.99L307.48 155.98L308.18 155.99L308.89 156.02L309.6 156.06L310.31 156.13L311.02 156.21L311.73 156.31L312.44 156.43L313.15 156.57L313.86 156.72L314.56 156.88L315.27 157.07L315.98 157.26L316.69 157.47L317.4 157.69L318.11 157.93L318.82 158.17L319.53 158.43L320.24 158.69L320.95 158.97L321.66 159.25L322.36 159.53L323.07 159.82L323.78 160.11L324.49 160.41L325.2 160.71L325.91 161.12L326.62 161.53L327.33 161.97L328.04 162.41L328.75 162.87L329.45 163.34L330.16 163.83L330.87 164.32L331.58 164.84L332.29 165.36L333 165.89L333.71 166.44L334.42 167L335.13 167.57L335.84 168.16L336.54 168.75L337.25 169.36L337.96 169.97L338.67 170.6L339.38 171.23L340.09 171.88L340.8 172.53L341.51 173.2L342.22 173.87L342.93 174.55L343.63 175.24L344.34 175.94L345.05 176.64L345.76 177.36L346.47 178.08L347.18 178.8L347.89 179.53L348.6 180.27L349.31 181.02L350.01 181.77L350.72 182.52L351.43 183.28L352.14 184.05L352.85 184.82L353.56 185.59L354.27 186.37L354.98 187.15L355.69 187.93L356.4 188.71L357.11 189.5L357.81 190.29L358.52 191.08L359.23 191.87L359.94 192.66L360.65 193.45L361.36 194.24L362.07 195.03L362.78 195.82L363.49 196.61L364.19 197.4L364.9 198.19L365.61 198.97L366.32 199.75L367.03 200.53L367.74 201.31L368.45 202.08L369.16 202.85L369.87 203.62L370.58 204.38L371.29 205.13L371.99 205.88L372.7 206.63L373.41 207.37L374.12 208.1L374.83 208.82L375.54 209.54L376.25 210.26L376.96 210.96L377.67 211.66L378.38 212.35L379.08 213.03L379.79 213.7L380.5 214.37L381.21 215.02L381.92 215.67L382.63 216.3L383.34 216.93L384.05 217.54L384.76 218.15L385.47 218.74L386.17 219.33L386.88 219.9L387.59 220.46L388.3 221.01L389.01 221.54L389.72 222.06L390.43 222.58L391.14 223.07L391.85 223.56L392.56 224.03L393.26 224.49L393.97 224.93L394.68 225.37L395.39 225.78L396.1 226.19L396.81 226.49L397.52 226.79L398.23 227.08L398.94 227.37L399.64 227.65L400.35 227.93L401.06 228.21L401.77 228.47L402.48 228.73L403.19 228.97L403.9 229.21L404.61 229.43L405.32 229.64L406.03 229.83L406.74 230.02L407.44 230.18L408.15 230.33L408.86 230.47L409.57 230.59L410.28 230.69L410.99 230.77L411.7 230.84L412.41 230.88L413.12 230.91L413.83 230.92L414.53 230.91L415.24 230.88L415.95 230.84L416.66 230.77L417.37 230.69L418.08 230.59L418.79 230.47L419.5 230.33L420.21 230.18L420.92 230.02L421.62 229.83L422.33 229.64L423.04 229.43L423.75 229.21L424.46 228.97L425.17 228.73L425.88 228.47L426.59 228.21L427.3 227.93L428 227.65L428.71 227.37L429.42 227.08L430.13 226.79L430.84 226.49L431.55 226.19L432.26 225.78L432.97 225.37L433.68 224.93L434.39 224.49L435.1 224.03L435.8 223.56L436.51 223.07L437.22 222.58L437.93 222.06L438.64 221.54L439.35 221.01L440.06 220.46L440.77 219.9L441.48 219.33L442.19 218.74L442.89 218.15L443.6 217.54L444.31 216.93L445.02 216.3L445.73 215.67L446.44 215.02L447.15 214.37L447.86 213.7L448.57 213.03L449.27 212.35L449.98 211.66L450.69 210.96L451.4 210.26L452.11 209.54L452.82 208.82L453.53 208.1L454.24 207.37L454.95 206.63L455.66 205.88L456.37 205.13L457.07 204.38L457.78 203.62L458.49 202.85L459.2 202.08L459.91 201.31L460.62 200.53L461.33 199.75L462.04 198.97L462.75 198.19L463.46 197.4L464.16 196.61L464.87 195.82L465.58 195.03L466.29 194.24L467 193.45" stroke="#ff0000" stroke-width="1.6"/>
<path d="M254.3 226.19L255.01 226.49L255.72 226.79L256.43 227.08L257.14 227.37L257.85 227.65L258.55 227.93L259.26 228.21L259.97 228.47L260.68 228.73L261.39 228.97L262.1 229.21L262.81 229.43L263.52 229.64L264.23 229.83L264.94 230.02L265.64 230.18L266.35 230.33L267.06 230.47L267.77 230.59L268.48 230.69L269.19 230.77L269.9 230.84L270.61 230.88L271.32 230.91L272.03 230.92L272.73 230.91L273.44 230.88L274.15 230.84L274.86 230.77L275.57 230.69L276.28 230.59L276.99 230.47L277.7 230.33L278.41 230.18L279.12 230.02L279.82 229.83L280.53 229.64L281.24 229.43L281.95 229.21L282.66 228.97L283.37 228.73L284.08 228.47L284.79 228.21L285.5 227.93L286.21 227.65L286.91 227.37L287.62 227.08L288.33 226.79L289.04 226.49L289.75 226.19L290.46 225.78L291.17 225.37L291.88 224.93L292.59 224.49L293.3 224.03L294 223.56L294.71 223.07L295.42 222.58L296.13 222.06L296.84 221.54L297.55 221.01L298.26 220.46L298.97 219.9L299.68 219.33L300.38 218.74L301.09 218.15L301.8 217.54L302.51 216.93L303.22 216.3L303.93 215.67L304.64 215.02L305.35 214.37L306.06 213.7L306.77 213.03L307.48 212.35L308.18 211.66L308.89 210.96L309.6 210.26L310.31 209.54L311.02 208.82L311.73 208.1L312.44 207.37L313.15 206.63L313.86 205.88L314.56 205.13L315.27 204.38L315.98 203.62L316.69 202.85L317.4 202.08L318.11 201.31L318.82 200.53L319.53 199.75L320.24 198.97L320.95 198.19L321.66 197.4L322.36 196.61L323.07 195.82L323.78 195.03L324.49 194.24L325.2 193.45L325.91 192.66L326.62 191.87L327.33 191.08L328.04 190.29L328.75 189.5L329.45 188.71L330.16 187.93L330.87 187.15L331.58 186.37L332.29 185.59L333 184.82L333.71 184.05L334.42 183.28L335.13 182.52L335.84 181.77L336.54 181.02L337.25 180.27L337.96 179.53L338.67 178.8L339.38 178.08L340.09 177.36L340.8 176.64L341.51 175.94L342.22 175.24L342.93 174.55L343.63 173.87L344.34 173.2L345.05 172.53L345.76 171.88L346.47 171.23L347.18 170.6L347.89 169.97L348.6 169.36L349.31 168.75L350.01 168.16L350.72 167.57L351.43 167L352.14 166.44L352.85 165.89L353.56 165.36L354.27 164.84L354.98 164.32L355.69 163.83L356.4 163.34L357.11 162.87L357.81 162.41L358.52 161.97L359.23 161.53L359.94 161.12L360.65 160.71L361.36 160.41L362.07 160.11L362.78 159.82L363.49 159.53L364.19 159.25L364.9 158.97L365.61 158.69L366.32 158.43L367.03 158.17L367.74 157.93L368.45 157.69L369.16 157.47L369.87 157.26L370.58 157.07L371.29 156.88L371.99 156.72L372.7 156.57L373.41 156.43L374.12 156.31L374.83 156.21L375.54 156.13L376.25 156.06L376.96 156.02L377.67 155.99L378.38 155.98L379.08 155.99L379.79 156.02L380.5 156.06L381.21 156.13L381.92 156.21L382.63 156.31L383.34 156.43L384.05 156.57L384.76 156.72L385.47 156.88L386.17 157.07L386.88 157.26L387.59 157.47L388.3 157.69L389.01 157.93L389.72 158.17L390.43 158.43L391.14 158.69L391.85 158.97L392.56 159.25L393.26 159.53L393.97 159.82L394.68 160.11L395.39 160.41L396.1 160.71L396.81 161.12L397.52 161.53L398.23 161.97L398.94 162.41L399.64 162.87L400.35 163.34L401.06 163.83L401.77 164.32L402.48 164.84L403.19 165.36L403.9 165.89L404.61 166.44L405.32 167L406.03 167.57L406.74 168.16L407.44 168.75L408.15 169.36L408.86 169.97L409.57 170.6L410.28 171.23L410.99 171.88L411.7 172.53L412.41 173.2L413.12 173.87L413.83 174.55L414.53 175.24L415.24 175.94L415.95 176.64L416.66 177.36L417.37 178.08L418.08 178.8L418.79 179.53L419.5 180.27L420.21 181.02L420.92 181.77L421.62 182.52L422.33 183.28L423.04 184.05L423.75 184.82L424.46 185.59L425.17 186.37L425.88 187.15L426.59 187.93L427.3 188.71L428 189.5L428.71 190.29L429.42 191.08L430.13 191.87L430.84 192.66L431.55 193.45L432.26 194.24L432.97 195.03L433.68 195.82L434.39 196.61L435.1 197.4L435.8 198.19L436.51 198.97L437.22 199.75L437.93 200.53L438.64 201.31L439.35 202.08L440.06 202.85L440.77 203.62L441.48 204.38L442.19 205.13L442.89 205.88L443.6 206.63L444.31 207.37L445.02 208.1L445.73 208.82L446.44 209.54L447.15 210.26L447.86 210.96L448.57 211.66L449.27 212.35L449.98 213.03L450.69 213.7L451.4 214.37L452.11 215.02L452.82 215.67L453.53 216.3L454.24 216.93L454.95 217.54L455.66 218.15L456.37 218.74L457.07 219.33L457.78 219.9L458.49 220.46L459.2 221.01L459.91 221.54L460.62 222.06L461.33 222.58L462.04 223.07L462.75 223.56L463.46 224.03L464.16 224.49L464.87 224.93L465.58 225.37L466.29 225.78L467 226.19" stroke="#efa815" stroke-width="1.7"/>
<path d="M254.3 160.71L255.01 161.12L255.72 161.53L256.43 161.97L257.14 162.41L257.85 162.87L258.55 163.34L259.26 163.83L259.97 164.32L260.68 164.84L261.39 165.36L262.1 165.89L262.81 166.44L263.52 167L264.23 167.57L264.94 168.16L265.64 168.75L266.35 169.36L267.06 169.97L267.77 170.6L268.48 171.23L269.19 171.88L269.9 172.53L270.61 173.2L271.32 173.87L272.03 174.55L272.73 175.24L273.44 175.94L274.15 176.64L274.86 177.36L275.57 178.08L276.28 178.8L276.99 179.53L277.7 180.27L278.41 181.02L279.12 181.77L279.82 182.52L280.53 183.28L281.24 184.05L281.95 184.82L282.66 185.59L283.37 186.37L284.08 187.15L284.79 187.93L285.5 188.71L286.21 189.5L286.91 190.29L287.62 191.08L288.33 191.87L289.04 192.66L289.75 193.45L290.46 194.24L291.17 195.03L291.88 195.82L292.59 196.61L293.3 197.4L294 198.19L294.71 198.97L295.42 199.75L296.13 200.53L296.84 201.31L297.55 202.08L298.26 202.85L298.97 203.62L299.68 204.38L300.38 205.13L301.09 205.88L301.8 206.63L302.51 207.37L303.22 208.1L303.93 208.82L304.64 209.54L305.35 210.26L306.06 210.96L306.77 211.66L307.48 212.35L308.18 213.03L308.89 213.7L309.6 214.37L310.31 215.02L311.02 215.67L311.73 216.3L312.44 216.93L313.15 217.54L313.86 218.15L314.56 218.74L315.27 219.33L315.98 219.9L316.69 220.46L317.4 221.01L318.11 221.54L318.82 222.06L319.53 222.58L320.24 223.07L320.95 223.56L321.66 224.03L322.36 224.49L323.07 224.93L323.78 225.37L324.49 225.78L325.2 226.19L325.91 226.49L326.62 226.79L327.33 227.08L328.04 227.37L328.75 227.65L329.45 227.93L330.16 228.21L330.87 228.47L331.58 228.73L332.29 228.97L333 229.21L333.71 229.43L334.42 229.64L335.13 229.83L335.84 230.02L336.54 230.18L337.25 230.33L337.96 230.47L338.67 230.59L339.38 230.69L340.09 230.77L340.8 230.84L341.51 230.88L342.22 230.91L342.93 230.92L343.63 230.91L344.34 230.88L345.05 230.84L345.76 230.77L346.47 230.69L347.18 230.59L347.89 230.47L348.6 230.33L349.31 230.18L350.01 230.02L350.72 229.83L351.43 229.64L352.14 229.43L352.85 229.21L353.56 228.97L354.27 228.73L354.98 228.47L355.69 228.21L356.4 227.93L357.11 227.65L357.81 227.37L358.52 227.08L359.23 226.79L359.94 226.49L360.65 226.19L361.36 225.78L362.07 225.37L362.78 224.93L363.49 224.49L364.19 224.03L364.9 223.56L365.61 223.07L366.32 222.58L367.03 222.06L367.74 221.54L368.45 221.01L369.16 220.46L369.87 219.9L370.58 219.33L371.29 218.74L371.99 218.15L372.7 217.54L373.41 216.93L374.12 216.3L374.83 215.67L375.54 215.02L376.25 214.37L376.96 213.7L377.67 213.03L378.38 212.35L379.08 211.66L379.79 210.96L380.5 210.26L381.21 209.54L381.92 208.82L382.63 208.1L383.34 207.37L384.05 206.63L384.76 205.88L385.47 205.13L386.17 204.38L386.88 203.62L387.59 202.85L388.3 202.08L389.01 201.31L389.72 200.53L390.43 199.75L391.14 198.97L391.85 198.19L392.56 197.4L393.26 196.61L393.97 195.82L394.68 195.03L395.39 194.24L396.1 193.45L396.81 192.66L397.52 191.87L398.23 191.08L398.94 190.29L399.64 189.5L400.35 188.71L401.06 187.93L401.77 187.15L402.48 186.37L403.19 185.59L403.9 184.82L404.61 184.05L405.32 183.28L406.03 182.52L406.74 181.77L407.44 181.02L408.15 180.27L408.86 179.53L409.57 178.8L410.28 178.08L410.99 177.36L411.7 176.64L412.41 175.94L413.12 175.24L413.83 174.55L414.53 173.87L415.24 173.2L415.95 172.53L416.66 171.88L417.37 171.23L418.08 170.6L418.79 169.97L419.5 169.36L420.21 168.75L420.92 168.16L421.62 167.57L422.33 167L423.04 166.44L423.75 165.89L424.46 165.36L425.17 164.84L425.88 164.32L426.59 163.83L427.3 163.34L428 162.87L428.71 162.41L429.42 161.97L430.13 161.53L430.84 161.12L431.55 160.71L432.26 160.41L432.97 160.11L433.68 159.82L434.39 159.53L435.1 159.25L435.8 158.97L436.51 158.69L437.22 158.43L437.93 158.17L438.64 157.93L439.35 157.69L440.06 157.47L440.77 157.26L441.48 157.07L442.19 156.88L442.89 156.72L443.6 156.57L444.31 156.43L445.02 156.31L445.73 156.21L446.44 156.13L447.15 156.06L447.86 156.02L448.57 155.99L449.27 155.98L449.98 155.99L450.69 156.02L451.4 156.06L452.11 156.13L452.82 156.21L453.53 156.31L454.24 156.43L454.95 156.57L455.66 156.72L456.37 156.88L457.07 157.07L457.78 157.26L458.49 157.47L459.2 157.69L459.91 157.93L460.62 158.17L461.33 158.43L462.04 158.69L462.75 158.97L463.46 159.25L464.16 159.53L464.87 159.82L465.58 160.11L466.29 160.41L467 160.71" stroke="#0000ff" stroke-width="1.8"/>
<path d="M254.3 160.71L255.01 161L255.72 161.3L256.43 161.59L257.14 161.88L257.85 162.17L258.55 162.45L259.26 162.72L259.97 162.98L260.68 163.24L261.39 163.48L262.1 163.72L262.81 163.94L263.52 164.15L264.23 164.35L264.94 164.53L265.64 164.7L266.35 164.85L267.06 164.98L267.77 165.1L268.48 165.2L269.19 165.28L269.9 165.35L270.61 165.39L271.32 165.42L272.03 165.43L272.73 165.42L273.44 165.39L274.15 165.35L274.86 165.28L275.57 165.2L276.28 165.1L276.99 164.98L277.7 164.85L278.41 164.7L279.12 164.53L279.82 164.35L280.53 164.15L281.24 163.94L281.95 163.72L282.66 163.48L283.37 163.24L284.08 162.98L284.79 162.72L285.5 162.45L286.21 162.17L286.91 161.88L287.62 161.59L288.33 161.3L289.04 161L289.75 160.71L290.46 160.41L291.17 160.11L291.88 159.82L292.59 159.53L293.3 159.25L294 158.97L294.71 158.69L295.42 158.43L296.13 158.17L296.84 157.93L297.55 157.69L298.26 157.47L298.97 157.26L299.68 157.07L300.38 156.88L301.09 156.72L301.8 156.57L302.51 156.43L303.22 156.31L303.93 156.21L304.64 156.13L305.35 156.06L306.06 156.02L306.77 155.99L307.48 155.98L308.18 155.99L308.89 156.02L309.6 156.06L310.31 156.13L311.02 156.21L311.73 156.31L312.44 156.43L313.15 156.57L313.86 156.72L314.56 156.88L315.27 157.07L315.98 157.26L316.69 157.47L317.4 157.69L318.11 157.93L318.82 158.17L319.53 158.43L320.24 158.69L320.95 158.97L321.66 159.25L322.36 159.53L323.07 159.82L323.78 160.11L324.49 160.41L325.2 160.71L325.91 161L326.62 161.3L327.33 161.59L328.04 161.88L328.75 162.17L329.45 162.45L330.16 162.72L330.87 162.98L331.58 163.24L332.29 163.48L333 163.72L333.71 163.94L334.42 164.15L335.13 164.35L335.84 164.53L336.54 164.7L337.25 164.85L337.96 164.98L338.67 165.1L339.38 165.2L340.09 165.28L340.8 165.35L341.51 165.39L342.22 165.42L342.93 165.43L343.63 165.42L344.34 165.39L345.05 165.35L345.76 165.28L346.47 165.2L347.18 165.1L347.89 164.98L348.6 164.85L349.31 164.7L350.01 164.53L350.72 164.35L351.43 164.15L352.14 163.94L352.85 163.72L353.56 163.48L354.27 163.24L354.98 162.98L355.69 162.72L356.4 162.45L357.11 162.17L357.81 161.88L358.52 161.59L359.23 161.3L359.94 161L360.65 160.71L361.36 160.41L362.07 160.11L362.78 159.82L363.49 159.53L364.19 159.25L364.9 158.97L365.61 158.69L366.32 158.43L367.03 158.17L367.74 157.93L368.45 157.69L369.16 157.47L369.87 157.26L370.58 157.07L371.29 156.88L371.99 156.72L372.7 156.57L373.41 156.43L374.12 156.31L374.83 156.21L375.54 156.13L376.25 156.06L376.96 156.02L377.67 155.99L378.38 155.98L379.08 155.99L379.79 156.02L380.5 156.06L381.21 156.13L381.92 156.21L382.63 156.31L383.34 156.43L384.05 156.57L384.76 156.72L385.47 156.88L386.17 157.07L386.88 157.26L387.59 157.47L388.3 157.69L389.01 157.93L389.72 158.17L390.43 158.43L391.14 158.69L391.85 158.97L392.56 159.25L393.26 159.53L393.97 159.82L394.68 160.11L395.39 160.41L396.1 160.71L396.81 161L397.52 161.3L398.23 161.59L398.94 161.88L399.64 162.17L400.35 162.45L401.06 162.72L401.77 162.98L402.48 163.24L403.19 163.48L403.9 163.72L404.61 163.94L405.32 164.15L406.03 164.35L406.74 164.53L407.44 164.7L408.15 164.85L408.86 164.98L409.57 165.1L410.28 165.2L410.99 165.28L411.7 165.35L412.41 165.39L413.12 165.42L413.83 165.43L414.53 165.42L415.24 165.39L415.95 165.35L416.66 165.28L417.37 165.2L418.08 165.1L418.79 164.98L419.5 164.85L420.21 164.7L420.92 164.53L421.62 164.35L422.33 164.15L423.04 163.94L423.75 163.72L424.46 163.48L425.17 163.24L425.88 162.98L426.59 162.72L427.3 162.45L428 162.17L428.71 161.88L429.42 161.59L430.13 161.3L430.84 161L431.55 160.71L432.26 160.41L432.97 160.11L433.68 159.82L434.39 159.53L435.1 159.25L435.8 158.97L436.51 158.69L437.22 158.43L437.93 158.17L438.64 157.93L439.35 157.69L440.06 157.47L440.77 157.26L441.48 157.07L442.19 156.88L442.89 156.72L443.6 156.57L444.31 156.43L445.02 156.31L445.73 156.21L446.44 156.13L447.15 156.06L447.86 156.02L448.57 155.99L449.27 155.98L449.98 155.99L450.69 156.02L451.4 156.06L452.11 156.13L452.82 156.21L453.53 156.31L454.24 156.43L454.95 156.57L455.66 156.72L456.37 156.88L457.07 157.07L457.78 157.26L458.49 157.47L459.2 157.69L459.91 157.93L460.62 158.17L461.33 158.43L462.04 158.69L462.75 158.97L463.46 159.25L464.16 159.53L464.87 159.82L465.58 160.11L466.29 160.41L467 160.71L467 146.2" stroke="#008000" stroke-width="1.9"/>
<path d="M254.3 226.19L255.01 226.49L255.72 226.79L256.43 227.08L257.14 227.37L257.85 227.65L258.55 227.93L259.26 228.21L259.97 228.47L260.68 228.73L261.39 228.97L262.1 229.21L262.81 229.43L263.52 229.64L264.23 229.83L264.94 230.02L265.64 230.18L266.35 230.33L267.06 230.47L267.77 230.59L268.48 230.69L269.19 230.77L269.9 230.84L270.61 230.88L271.32 230.91L272.03 230.92L272.73 230.91L273.44 230.88L274.15 230.84L274.86 230.77L275.57 230.69L276.28 230.59L276.99 230.47L277.7 230.33L278.41 230.18L279.12 230.02L279.82 229.83L280.53 229.64L281.24 229.43L281.95 229.21L282.66 228.97L283.37 228.73L284.08 228.47L284.79 228.21L285.5 227.93L286.21 227.65L286.91 227.37L287.62 227.08L288.33 226.79L289.04 226.49L289.75 226.19L290.46 225.9L291.17 225.6L291.88 225.31L292.59 225.02L293.3 224.73L294 224.45L294.71 224.18L295.42 223.92L296.13 223.66L296.84 223.42L297.55 223.18L298.26 222.96L298.97 222.75L299.68 222.55L300.38 222.37L301.09 222.2L301.8 222.05L302.51 221.92L303.22 221.8L303.93 221.7L304.64 221.62L305.35 221.55L306.06 221.51L306.77 221.48L307.48 221.47L308.18 221.48L308.89 221.51L309.6 221.55L310.31 221.62L311.02 221.7L311.73 221.8L312.44 221.92L313.15 222.05L313.86 222.2L314.56 222.37L315.27 222.55L315.98 222.75L316.69 222.96L317.4 223.18L318.11 223.42L318.82 223.66L319.53 223.92L320.24 224.18L320.95 224.45L321.66 224.73L322.36 225.02L323.07 225.31L323.78 225.6L324.49 225.9L325.2 226.19L325.91 226.49L326.62 226.79L327.33 227.08L328.04 227.37L328.75 227.65L329.45 227.93L330.16 228.21L330.87 228.47L331.58 228.73L332.29 228.97L333 229.21L333.71 229.43L334.42 229.64L335.13 229.83L335.84 230.02L336.54 230.18L337.25 230.33L337.96 230.47L338.67 230.59L339.38 230.69L340.09 230.77L340.8 230.84L341.51 230.88L342.22 230.91L342.93 230.92L343.63 230.91L344.34 230.88L345.05 230.84L345.76 230.77L346.47 230.69L347.18 230.59L347.89 230.47L348.6 230.33L349.31 230.18L350.01 230.02L350.72 229.83L351.43 229.64L352.14 229.43L352.85 229.21L353.56 228.97L354.27 228.73L354.98 228.47L355.69 228.21L356.4 227.93L357.11 227.65L357.81 227.37L358.52 227.08L359.23 226.79L359.94 226.49L360.65 226.19L361.36 225.9L362.07 225.6L362.78 225.31L363.49 225.02L364.19 224.73L364.9 224.45L365.61 224.18L366.32 223.92L367.03 223.66L367.74 223.42L368.45 223.18L369.16 222.96L369.87 222.75L370.58 222.55L371.29 222.37L371.99 222.2L372.7 222.05L373.41 221.92L374.12 221.8L374.83 221.7L375.54 221.62L376.25 221.55L376.96 221.51L377.67 221.48L378.38 221.47L379.08 221.48L379.79 221.51L380.5 221.55L381.21 221.62L381.92 221.7L382.63 221.8L383.34 221.92L384.05 222.05L384.76 222.2L385.47 222.37L386.17 222.55L386.88 222.75L387.59 222.96L388.3 223.18L389.01 223.42L389.72 223.66L390.43 223.92L391.14 224.18L391.85 224.45L392.56 224.73L393.26 225.02L393.97 225.31L394.68 225.6L395.39 225.9L396.1 226.19L396.81 226.49L397.52 226.79L398.23 227.08L398.94 227.37L399.64 227.65L400.35 227.93L401.06 228.21L401.77 228.47L402.48 228.73L403.19 228.97L403.9 229.21L404.61 229.43L405.32 229.64L406.03 229.83L406.74 230.02L407.44 230.18L408.15 230.33L408.86 230.47L409.57 230.59L410.28 230.69L410.99 230.77L411.7 230.84L412.41 230.88L413.12 230.91L413.83 230.92L414.53 230.91L415.24 230.88L415.95 230.84L416.66 230.77L417.37 230.69L418.08 230.59L418.79 230.47L419.5 230.33L420.21 230.18L420.92 230.02L421.62 229.83L422.33 229.64L423.04 229.43L423.75 229.21L424.46 228.97L425.17 228.73L425.88 228.47L426.59 228.21L427.3 227.93L428 227.65L428.71 227.37L429.42 227.08L430.13 226.79L430.84 226.49L431.55 226.19L432.26 225.9L432.97 225.6L433.68 225.31L434.39 225.02L435.1 224.73L435.8 224.45L436.51 224.18L437.22 223.92L437.93 223.66L438.64 223.42L439.35 223.18L440.06 222.96L440.77 222.75L441.48 222.55L442.19 222.37L442.89 222.2L443.6 222.05L444.31 221.92L445.02 221.8L445.73 221.7L446.44 221.62L447.15 221.55L447.86 221.51L448.57 221.48L449.27 221.47L449.98 221.48L450.69 221.51L451.4 221.55L452.11 221.62L452.82 221.7L453.53 221.8L454.24 221.92L454.95 222.05L455.66 222.2L456.37 222.37L457.07 222.55L457.78 222.75L458.49 222.96L459.2 223.18L459.91 223.42L460.62 223.66L461.33 223.92L462.04 224.18L462.75 224.45L463.46 224.73L464.16 225.02L464.87 225.31L465.58 225.6L466.29 225.9L467 226.19L467 240.7" stroke="#ff00ff" stroke-width="2"/>
</g>
<g font-size="6.2" font-weight="bold" fill="#1a1a1a">
<text x="252.7" y="242.75" text-anchor="end">-1</text>
<text x="252.7" y="233.3" text-anchor="end">-0.8</text>
<text x="252.7" y="223.85" text-anchor="end">-0.6</text>
<text x="252.7" y="214.4" text-anchor="end">-0.4</text>
<text x="252.7" y="204.95" text-anchor="end">-0.2</text>
<text x="252.7" y="195.5" text-anchor="end">0</text>
<text x="252.7" y="186.05" text-anchor="end">0.2</text>
<text x="252.7" y="176.6" text-anchor="end">0.4</text>
<text x="252.7" y="167.15" text-anchor="end">0.6</text>
<text x="252.7" y="157.7" text-anchor="end">0.8</text>
<text x="252.7" y="148.25" text-anchor="end">1</text>
<text x="254.3" y="247.8" text-anchor="middle" font-size="6.5">0</text>
<text x="275.57" y="247.8" text-anchor="middle" font-size="6.5">0.002</text>
<text x="296.84" y="247.8" text-anchor="middle" font-size="6.5">0.004</text>
<text x="318.11" y="247.8" text-anchor="middle" font-size="6.5">0.006</text>
<text x="339.38" y="247.8" text-anchor="middle" font-size="6.5">0.008</text>
<text x="360.65" y="247.8" text-anchor="middle" font-size="6.5">0.01</text>
<text x="381.92" y="247.8" text-anchor="middle" font-size="6.5">0.012</text>
<text x="403.19" y="247.8" text-anchor="middle" font-size="6.5">0.014</text>
<text x="424.46" y="247.8" text-anchor="middle" font-size="6.5">0.016</text>
<text x="445.73" y="247.8" text-anchor="middle" font-size="6.5">0.018</text>
<text x="467" y="247.8" text-anchor="middle" font-size="6.5">0.02</text>
</g>
<text x="360.65" y="256" text-anchor="middle" font-size="6.3" font-weight="bold" fill="#222">Time (s)</text>
<rect x="445.1" y="147.7" width="19.1" height="53.5" fill="#fff" stroke="#aaa" stroke-width="0.4"/>
<path d="M446 154.5H454.5" stroke="#ff0000" stroke-width="1.35"/>
<text transform="translate(454.8,155.3) scale(0.78,1)" font-size="6.6" font-weight="bold" fill="#111">V</text>
<text x="458.83" y="158.3" font-size="5.61" font-weight="bold" fill="#111">a</text>
<path d="M446 164.5H454.5" stroke="#efa815" stroke-width="1.35"/>
<text transform="translate(454.8,165.75) scale(0.78,1)" font-size="6.6" font-weight="bold" fill="#111">V</text>
<text x="458.83" y="168.75" font-size="5.61" font-weight="bold" fill="#111">b</text>
<path d="M446 175.5H454.5" stroke="#0000ff" stroke-width="1.35"/>
<text transform="translate(454.8,176.2) scale(0.78,1)" font-size="6.6" font-weight="bold" fill="#111">V</text>
<text x="458.83" y="179.2" font-size="5.61" font-weight="bold" fill="#111">c</text>
<path d="M446 185.5H454.5" stroke="#008000" stroke-width="1.35"/>
<text transform="translate(454.8,186.65) scale(0.78,1)" font-size="6.6" font-weight="bold" fill="#111">V</text>
<text x="458.83" y="189.65" font-size="5.61" font-weight="bold" fill="#111">p</text>
<path d="M446 196.5H454.5" stroke="#ff00ff" stroke-width="1.35"/>
<text transform="translate(454.8,197.1) scale(0.78,1)" font-size="6.6" font-weight="bold" fill="#111">V</text>
<text x="458.83" y="200.1" font-size="5.61" font-weight="bold" fill="#111">n</text>
<rect x="14.4" y="289.2" width="204.1" height="89.8" fill="#fff"/>
<path d="M34.81 289.2V379M55.22 289.2V379M75.63 289.2V379M96.04 289.2V379M116.45 289.2V379M136.86 289.2V379M157.27 289.2V379M177.68 289.2V379M198.09 289.2V379M14.4 370.02H218.5M14.4 361.04H218.5M14.4 352.06H218.5M14.4 343.08H218.5M14.4 334.1H218.5M14.4 325.12H218.5M14.4 316.14H218.5M14.4 307.16H218.5M14.4 298.18H218.5" stroke="#ececec" stroke-width="0.5" fill="none"/>
<clipPath id="ce"><rect x="13.5" y="288.3" width="205.9" height="91.6"/></clipPath>
<path d="M14.4 334.1L19.5 289.2L29.71 379L39.91 289.2L50.12 379L60.32 289.2L70.53 379L80.73 289.2L90.94 379L101.14 289.2L111.35 379L121.55 289.2L131.76 379L141.96 289.2L152.17 379L162.37 289.2L172.58 379L182.78 289.2L192.99 379L203.19 289.2L213.4 379L218.5 334.1" stroke="#5c5c5c" stroke-width="0.75" fill="none" stroke-linejoin="miter"/>
<rect x="14.4" y="289.2" width="204.1" height="89.8" fill="none" stroke="#9a9a9a" stroke-width="0.5"/>
<path d="M14.4 379v-1.5M14.4 289.2v1.5M14.4 379h1.5M218.5 379h-1.5M34.81 379v-1.5M34.81 289.2v1.5M14.4 370.02h1.5M218.5 370.02h-1.5M55.22 379v-1.5M55.22 289.2v1.5M14.4 361.04h1.5M218.5 361.04h-1.5M75.63 379v-1.5M75.63 289.2v1.5M14.4 352.06h1.5M218.5 352.06h-1.5M96.04 379v-1.5M96.04 289.2v1.5M14.4 343.08h1.5M218.5 343.08h-1.5M116.45 379v-1.5M116.45 289.2v1.5M14.4 334.1h1.5M218.5 334.1h-1.5M136.86 379v-1.5M136.86 289.2v1.5M14.4 325.12h1.5M218.5 325.12h-1.5M157.27 379v-1.5M157.27 289.2v1.5M14.4 316.14h1.5M218.5 316.14h-1.5M177.68 379v-1.5M177.68 289.2v1.5M14.4 307.16h1.5M218.5 307.16h-1.5M198.09 379v-1.5M198.09 289.2v1.5M14.4 298.18h1.5M218.5 298.18h-1.5M218.5 379v-1.5M218.5 289.2v1.5M14.4 289.2h1.5M218.5 289.2h-1.5" stroke="#777" stroke-width="0.5" fill="none"/>
<g clip-path="url(#ce)" fill="none" stroke-width="1.7" stroke-linejoin="round">
<path d="M14.4 334.1L15.08 332.97L15.76 331.85L16.44 330.72L17.12 329.61L17.8 328.5L18.48 327.39L19.16 326.3L19.84 325.23L20.52 324.16L21.2 323.11L21.88 322.08L22.56 321.07L23.24 320.08L23.92 319.11L24.61 318.16L25.29 317.23L25.97 316.33L26.65 315.46L27.33 314.61L28.01 313.8L28.69 313.01L29.37 312.25L30.05 311.52L30.73 310.82L31.41 310.15L32.09 309.52L32.77 308.91L33.45 308.34L34.13 307.8L34.81 307.29L35.49 306.82L36.17 306.37L36.85 305.96L37.53 305.57L38.21 305.22L38.89 304.9L39.57 304.6L40.25 304.34L40.93 304.1L41.61 303.89L42.29 303.7L42.97 303.54L43.65 303.4L44.33 303.28L45.02 303.19L45.7 303.12L46.38 303.06L47.06 303.02L47.74 303L48.42 302.99L49.1 303L49.78 303.02L50.46 303.05L51.14 303.09L51.82 303.14L52.5 303.19L53.18 303.25L53.86 303.32L54.54 303.39L55.22 303.46L55.9 303.53L56.58 303.6L57.26 303.67L57.94 303.74L58.62 303.81L59.3 303.87L59.98 303.93L60.66 303.98L61.34 304.03L62.02 304.07L62.7 304.1L63.38 304.13L64.06 304.15L64.74 304.16L65.42 304.17L66.11 304.16L66.79 304.15L67.47 304.13L68.15 304.1L68.83 304.07L69.51 304.03L70.19 303.98L70.87 303.93L71.55 303.87L72.23 303.81L72.91 303.74L73.59 303.67L74.27 303.6L74.95 303.53L75.63 303.46L76.31 303.39L76.99 303.32L77.67 303.25L78.35 303.19L79.03 303.14L79.71 303.09L80.39 303.05L81.07 303.02L81.75 303L82.43 302.99L83.11 303L83.79 303.02L84.47 303.06L85.15 303.12L85.84 303.19L86.52 303.28L87.2 303.4L87.88 303.54L88.56 303.7L89.24 303.89L89.92 304.1L90.6 304.34L91.28 304.6L91.96 304.9L92.64 305.22L93.32 305.57L94 305.96L94.68 306.37L95.36 306.82L96.04 307.29L96.72 307.8L97.4 308.34L98.08 308.91L98.76 309.52L99.44 310.15L100.12 310.82L100.8 311.52L101.48 312.25L102.16 313.01L102.84 313.8L103.52 314.61L104.2 315.46L104.88 316.33L105.56 317.23L106.25 318.16L106.93 319.11L107.61 320.08L108.29 321.07L108.97 322.08L109.65 323.11L110.33 324.16L111.01 325.23L111.69 326.3L112.37 327.39L113.05 328.5L113.73 329.61L114.41 330.72L115.09 331.85L115.77 332.97L116.45 334.1L117.13 335.23L117.81 336.35L118.49 337.48L119.17 338.59L119.85 339.7L120.53 340.81L121.21 341.9L121.89 342.97L122.57 344.04L123.25 345.09L123.93 346.12L124.61 347.13L125.29 348.12L125.97 349.09L126.66 350.04L127.34 350.97L128.02 351.87L128.7 352.74L129.38 353.59L130.06 354.4L130.74 355.19L131.42 355.95L132.1 356.68L132.78 357.38L133.46 358.05L134.14 358.68L134.82 359.29L135.5 359.86L136.18 360.4L136.86 360.91L137.54 361.38L138.22 361.83L138.9 362.24L139.58 362.63L140.26 362.98L140.94 363.3L141.62 363.6L142.3 363.86L142.98 364.1L143.66 364.31L144.34 364.5L145.02 364.66L145.7 364.8L146.38 364.92L147.07 365.01L147.75 365.08L148.43 365.14L149.11 365.18L149.79 365.2L150.47 365.21L151.15 365.2L151.83 365.18L152.51 365.15L153.19 365.11L153.87 365.06L154.55 365.01L155.23 364.95L155.91 364.88L156.59 364.81L157.27 364.74L157.95 364.67L158.63 364.6L159.31 364.53L159.99 364.46L160.67 364.39L161.35 364.33L162.03 364.27L162.71 364.22L163.39 364.17L164.07 364.13L164.75 364.1L165.43 364.07L166.11 364.05L166.79 364.04L167.47 364.03L168.16 364.04L168.84 364.05L169.52 364.07L170.2 364.1L170.88 364.13L171.56 364.17L172.24 364.22L172.92 364.27L173.6 364.33L174.28 364.39L174.96 364.46L175.64 364.53L176.32 364.6L177 364.67L177.68 364.74L178.36 364.81L179.04 364.88L179.72 364.95L180.4 365.01L181.08 365.06L181.76 365.11L182.44 365.15L183.12 365.18L183.8 365.2L184.48 365.21L185.16 365.2L185.84 365.18L186.52 365.14L187.2 365.08L187.88 365.01L188.57 364.92L189.25 364.8L189.93 364.66L190.61 364.5L191.29 364.31L191.97 364.1L192.65 363.86L193.33 363.6L194.01 363.3L194.69 362.98L195.37 362.63L196.05 362.24L196.73 361.83L197.41 361.38L198.09 360.91L198.77 360.4L199.45 359.86L200.13 359.29L200.81 358.68L201.49 358.05L202.17 357.38L202.85 356.68L203.53 355.95L204.21 355.19L204.89 354.4L205.57 353.59L206.25 352.74L206.93 351.87L207.61 350.97L208.29 350.04L208.98 349.09L209.66 348.12L210.34 347.13L211.02 346.12L211.7 345.09L212.38 344.04L213.06 342.97L213.74 341.9L214.42 340.81L215.1 339.7L215.78 338.59L216.46 337.48L217.14 336.35L217.82 335.23L218.5 334.1" stroke="#ff0000" stroke-width="1.5"/>
<path d="M14.4 365.21L15.08 365.2L15.76 365.18L16.44 365.15L17.12 365.11L17.8 365.06L18.48 365.01L19.16 364.95L19.84 364.88L20.52 364.81L21.2 364.74L21.88 364.67L22.56 364.6L23.24 364.53L23.92 364.46L24.61 364.39L25.29 364.33L25.97 364.27L26.65 364.22L27.33 364.17L28.01 364.13L28.69 364.1L29.37 364.07L30.05 364.05L30.73 364.04L31.41 364.03L32.09 364.04L32.77 364.05L33.45 364.07L34.13 364.1L34.81 364.13L35.49 364.17L36.17 364.22L36.85 364.27L37.53 364.33L38.21 364.39L38.89 364.46L39.57 364.53L40.25 364.6L40.93 364.67L41.61 364.74L42.29 364.81L42.97 364.88L43.65 364.95L44.33 365.01L45.02 365.06L45.7 365.11L46.38 365.15L47.06 365.18L47.74 365.2L48.42 365.21L49.1 365.2L49.78 365.18L50.46 365.14L51.14 365.08L51.82 365.01L52.5 364.92L53.18 364.8L53.86 364.66L54.54 364.5L55.22 364.31L55.9 364.1L56.58 363.86L57.26 363.6L57.94 363.3L58.62 362.98L59.3 362.63L59.98 362.24L60.66 361.83L61.34 361.38L62.02 360.91L62.7 360.4L63.38 359.86L64.06 359.29L64.74 358.68L65.42 358.05L66.11 357.38L66.79 356.68L67.47 355.95L68.15 355.19L68.83 354.4L69.51 353.59L70.19 352.74L70.87 351.87L71.55 350.97L72.23 350.04L72.91 349.09L73.59 348.12L74.27 347.13L74.95 346.12L75.63 345.09L76.31 344.04L76.99 342.97L77.67 341.9L78.35 340.81L79.03 339.7L79.71 338.59L80.39 337.48L81.07 336.35L81.75 335.23L82.43 334.1L83.11 332.97L83.79 331.85L84.47 330.72L85.15 329.61L85.84 328.5L86.52 327.39L87.2 326.3L87.88 325.23L88.56 324.16L89.24 323.11L89.92 322.08L90.6 321.07L91.28 320.08L91.96 319.11L92.64 318.16L93.32 317.23L94 316.33L94.68 315.46L95.36 314.61L96.04 313.8L96.72 313.01L97.4 312.25L98.08 311.52L98.76 310.82L99.44 310.15L100.12 309.52L100.8 308.91L101.48 308.34L102.16 307.8L102.84 307.29L103.52 306.82L104.2 306.37L104.88 305.96L105.56 305.57L106.25 305.22L106.93 304.9L107.61 304.6L108.29 304.34L108.97 304.1L109.65 303.89L110.33 303.7L111.01 303.54L111.69 303.4L112.37 303.28L113.05 303.19L113.73 303.12L114.41 303.06L115.09 303.02L115.77 303L116.45 302.99L117.13 303L117.81 303.02L118.49 303.05L119.17 303.09L119.85 303.14L120.53 303.19L121.21 303.25L121.89 303.32L122.57 303.39L123.25 303.46L123.93 303.53L124.61 303.6L125.29 303.67L125.97 303.74L126.66 303.81L127.34 303.87L128.02 303.93L128.7 303.98L129.38 304.03L130.06 304.07L130.74 304.1L131.42 304.13L132.1 304.15L132.78 304.16L133.46 304.17L134.14 304.16L134.82 304.15L135.5 304.13L136.18 304.1L136.86 304.07L137.54 304.03L138.22 303.98L138.9 303.93L139.58 303.87L140.26 303.81L140.94 303.74L141.62 303.67L142.3 303.6L142.98 303.53L143.66 303.46L144.34 303.39L145.02 303.32L145.7 303.25L146.38 303.19L147.07 303.14L147.75 303.09L148.43 303.05L149.11 303.02L149.79 303L150.47 302.99L151.15 303L151.83 303.02L152.51 303.06L153.19 303.12L153.87 303.19L154.55 303.28L155.23 303.4L155.91 303.54L156.59 303.7L157.27 303.89L157.95 304.1L158.63 304.34L159.31 304.6L159.99 304.9L160.67 305.22L161.35 305.57L162.03 305.96L162.71 306.37L163.39 306.82L164.07 307.29L164.75 307.8L165.43 308.34L166.11 308.91L166.79 309.52L167.47 310.15L168.16 310.82L168.84 311.52L169.52 312.25L170.2 313.01L170.88 313.8L171.56 314.61L172.24 315.46L172.92 316.33L173.6 317.23L174.28 318.16L174.96 319.11L175.64 320.08L176.32 321.07L177 322.08L177.68 323.11L178.36 324.16L179.04 325.23L179.72 326.3L180.4 327.39L181.08 328.5L181.76 329.61L182.44 330.72L183.12 331.85L183.8 332.97L184.48 334.1L185.16 335.23L185.84 336.35L186.52 337.48L187.2 338.59L187.88 339.7L188.57 340.81L189.25 341.9L189.93 342.97L190.61 344.04L191.29 345.09L191.97 346.12L192.65 347.13L193.33 348.12L194.01 349.09L194.69 350.04L195.37 350.97L196.05 351.87L196.73 352.74L197.41 353.59L198.09 354.4L198.77 355.19L199.45 355.95L200.13 356.68L200.81 357.38L201.49 358.05L202.17 358.68L202.85 359.29L203.53 359.86L204.21 360.4L204.89 360.91L205.57 361.38L206.25 361.83L206.93 362.24L207.61 362.63L208.29 362.98L208.98 363.3L209.66 363.6L210.34 363.86L211.02 364.1L211.7 364.31L212.38 364.5L213.06 364.66L213.74 364.8L214.42 364.92L215.1 365.01L215.78 365.08L216.46 365.14L217.14 365.18L217.82 365.2L218.5 365.21" stroke="#efa815" stroke-width="1.6"/>
<path d="M14.4 302.99L15.08 303L15.76 303.02L16.44 303.06L17.12 303.12L17.8 303.19L18.48 303.28L19.16 303.4L19.84 303.54L20.52 303.7L21.2 303.89L21.88 304.1L22.56 304.34L23.24 304.6L23.92 304.9L24.61 305.22L25.29 305.57L25.97 305.96L26.65 306.37L27.33 306.82L28.01 307.29L28.69 307.8L29.37 308.34L30.05 308.91L30.73 309.52L31.41 310.15L32.09 310.82L32.77 311.52L33.45 312.25L34.13 313.01L34.81 313.8L35.49 314.61L36.17 315.46L36.85 316.33L37.53 317.23L38.21 318.16L38.89 319.11L39.57 320.08L40.25 321.07L40.93 322.08L41.61 323.11L42.29 324.16L42.97 325.23L43.65 326.3L44.33 327.39L45.02 328.5L45.7 329.61L46.38 330.72L47.06 331.85L47.74 332.97L48.42 334.1L49.1 335.23L49.78 336.35L50.46 337.48L51.14 338.59L51.82 339.7L52.5 340.81L53.18 341.9L53.86 342.97L54.54 344.04L55.22 345.09L55.9 346.12L56.58 347.13L57.26 348.12L57.94 349.09L58.62 350.04L59.3 350.97L59.98 351.87L60.66 352.74L61.34 353.59L62.02 354.4L62.7 355.19L63.38 355.95L64.06 356.68L64.74 357.38L65.42 358.05L66.11 358.68L66.79 359.29L67.47 359.86L68.15 360.4L68.83 360.91L69.51 361.38L70.19 361.83L70.87 362.24L71.55 362.63L72.23 362.98L72.91 363.3L73.59 363.6L74.27 363.86L74.95 364.1L75.63 364.31L76.31 364.5L76.99 364.66L77.67 364.8L78.35 364.92L79.03 365.01L79.71 365.08L80.39 365.14L81.07 365.18L81.75 365.2L82.43 365.21L83.11 365.2L83.79 365.18L84.47 365.15L85.15 365.11L85.84 365.06L86.52 365.01L87.2 364.95L87.88 364.88L88.56 364.81L89.24 364.74L89.92 364.67L90.6 364.6L91.28 364.53L91.96 364.46L92.64 364.39L93.32 364.33L94 364.27L94.68 364.22L95.36 364.17L96.04 364.13L96.72 364.1L97.4 364.07L98.08 364.05L98.76 364.04L99.44 364.03L100.12 364.04L100.8 364.05L101.48 364.07L102.16 364.1L102.84 364.13L103.52 364.17L104.2 364.22L104.88 364.27L105.56 364.33L106.25 364.39L106.93 364.46L107.61 364.53L108.29 364.6L108.97 364.67L109.65 364.74L110.33 364.81L111.01 364.88L111.69 364.95L112.37 365.01L113.05 365.06L113.73 365.11L114.41 365.15L115.09 365.18L115.77 365.2L116.45 365.21L117.13 365.2L117.81 365.18L118.49 365.14L119.17 365.08L119.85 365.01L120.53 364.92L121.21 364.8L121.89 364.66L122.57 364.5L123.25 364.31L123.93 364.1L124.61 363.86L125.29 363.6L125.97 363.3L126.66 362.98L127.34 362.63L128.02 362.24L128.7 361.83L129.38 361.38L130.06 360.91L130.74 360.4L131.42 359.86L132.1 359.29L132.78 358.68L133.46 358.05L134.14 357.38L134.82 356.68L135.5 355.95L136.18 355.19L136.86 354.4L137.54 353.59L138.22 352.74L138.9 351.87L139.58 350.97L140.26 350.04L140.94 349.09L141.62 348.12L142.3 347.13L142.98 346.12L143.66 345.09L144.34 344.04L145.02 342.97L145.7 341.9L146.38 340.81L147.07 339.7L147.75 338.59L148.43 337.48L149.11 336.35L149.79 335.23L150.47 334.1L151.15 332.97L151.83 331.85L152.51 330.72L153.19 329.61L153.87 328.5L154.55 327.39L155.23 326.3L155.91 325.23L156.59 324.16L157.27 323.11L157.95 322.08L158.63 321.07L159.31 320.08L159.99 319.11L160.67 318.16L161.35 317.23L162.03 316.33L162.71 315.46L163.39 314.61L164.07 313.8L164.75 313.01L165.43 312.25L166.11 311.52L166.79 310.82L167.47 310.15L168.16 309.52L168.84 308.91L169.52 308.34L170.2 307.8L170.88 307.29L171.56 306.82L172.24 306.37L172.92 305.96L173.6 305.57L174.28 305.22L174.96 304.9L175.64 304.6L176.32 304.34L177 304.1L177.68 303.89L178.36 303.7L179.04 303.54L179.72 303.4L180.4 303.28L181.08 303.19L181.76 303.12L182.44 303.06L183.12 303.02L183.8 303L184.48 302.99L185.16 303L185.84 303.02L186.52 303.05L187.2 303.09L187.88 303.14L188.57 303.19L189.25 303.25L189.93 303.32L190.61 303.39L191.29 303.46L191.97 303.53L192.65 303.6L193.33 303.67L194.01 303.74L194.69 303.81L195.37 303.87L196.05 303.93L196.73 303.98L197.41 304.03L198.09 304.07L198.77 304.1L199.45 304.13L200.13 304.15L200.81 304.16L201.49 304.17L202.17 304.16L202.85 304.15L203.53 304.13L204.21 304.1L204.89 304.07L205.57 304.03L206.25 303.98L206.93 303.93L207.61 303.87L208.29 303.81L208.98 303.74L209.66 303.67L210.34 303.6L211.02 303.53L211.7 303.46L212.38 303.39L213.06 303.32L213.74 303.25L214.42 303.19L215.1 303.14L215.78 303.09L216.46 303.05L217.14 303.02L217.82 303L218.5 302.99" stroke="#0000ff" stroke-width="1.7"/>
<path d="M14.4 302.98L15.08 302.98L15.76 302.98L16.44 302.98L17.12 302.98L17.8 302.98L18.48 302.98L19.16 302.98L19.84 302.98L20.52 302.98L21.2 302.98L21.88 302.98L22.56 302.98L23.24 302.98L23.92 302.98L24.61 302.98L25.29 302.98L25.97 302.98L26.65 302.98L27.33 302.98L28.01 302.98L28.69 302.98L29.37 302.98L30.05 302.98L30.73 302.98L31.41 302.98L32.09 302.98L32.77 302.98L33.45 302.98L34.13 302.98L34.81 302.98L35.49 302.98L36.17 302.98L36.85 302.98L37.53 302.98L38.21 302.98L38.89 302.98L39.57 302.98L40.25 302.98L40.93 302.98L41.61 302.98L42.29 302.98L42.97 302.98L43.65 302.98L44.33 302.98L45.02 302.98L45.7 302.98L46.38 302.98L47.06 302.98L47.74 302.98L48.42 302.98L49.1 302.98L49.78 302.98L50.46 302.98L51.14 302.98L51.82 302.98L52.5 302.98L53.18 302.98L53.86 302.98L54.54 302.98L55.22 302.98L55.9 302.98L56.58 302.98L57.26 302.98L57.94 302.98L58.62 302.98L59.3 302.98L59.98 302.98L60.66 302.98L61.34 302.98L62.02 302.98L62.7 302.98L63.38 302.98L64.06 302.98L64.74 302.98L65.42 302.98L66.11 302.98L66.79 302.98L67.47 302.98L68.15 302.98L68.83 302.98L69.51 302.98L70.19 302.98L70.87 302.98L71.55 302.98L72.23 302.98L72.91 302.98L73.59 302.98L74.27 302.98L74.95 302.98L75.63 302.98L76.31 302.98L76.99 302.98L77.67 302.98L78.35 302.98L79.03 302.98L79.71 302.98L80.39 302.98L81.07 302.98L81.75 302.98L82.43 302.98L83.11 302.98L83.79 302.98L84.47 302.98L85.15 302.98L85.84 302.98L86.52 302.98L87.2 302.98L87.88 302.98L88.56 302.98L89.24 302.98L89.92 302.98L90.6 302.98L91.28 302.98L91.96 302.98L92.64 302.98L93.32 302.98L94 302.98L94.68 302.98L95.36 302.98L96.04 302.98L96.72 302.98L97.4 302.98L98.08 302.98L98.76 302.98L99.44 302.98L100.12 302.98L100.8 302.98L101.48 302.98L102.16 302.98L102.84 302.98L103.52 302.98L104.2 302.98L104.88 302.98L105.56 302.98L106.25 302.98L106.93 302.98L107.61 302.98L108.29 302.98L108.97 302.98L109.65 302.98L110.33 302.98L111.01 302.98L111.69 302.98L112.37 302.98L113.05 302.98L113.73 302.98L114.41 302.98L115.09 302.98L115.77 302.98L116.45 302.98L117.13 302.98L117.81 302.98L118.49 302.98L119.17 302.98L119.85 302.98L120.53 302.98L121.21 302.98L121.89 302.98L122.57 302.98L123.25 302.98L123.93 302.98L124.61 302.98L125.29 302.98L125.97 302.98L126.66 302.98L127.34 302.98L128.02 302.98L128.7 302.98L129.38 302.98L130.06 302.98L130.74 302.98L131.42 302.98L132.1 302.98L132.78 302.98L133.46 302.98L134.14 302.98L134.82 302.98L135.5 302.98L136.18 302.98L136.86 302.98L137.54 302.98L138.22 302.98L138.9 302.98L139.58 302.98L140.26 302.98L140.94 302.98L141.62 302.98L142.3 302.98L142.98 302.98L143.66 302.98L144.34 302.98L145.02 302.98L145.7 302.98L146.38 302.98L147.07 302.98L147.75 302.98L148.43 302.98L149.11 302.98L149.79 302.98L150.47 302.98L151.15 302.98L151.83 302.98L152.51 302.98L153.19 302.98L153.87 302.98L154.55 302.98L155.23 302.98L155.91 302.98L156.59 302.98L157.27 302.98L157.95 302.98L158.63 302.98L159.31 302.98L159.99 302.98L160.67 302.98L161.35 302.98L162.03 302.98L162.71 302.98L163.39 302.98L164.07 302.98L164.75 302.98L165.43 302.98L166.11 302.98L166.79 302.98L167.47 302.98L168.16 302.98L168.84 302.98L169.52 302.98L170.2 302.98L170.88 302.98L171.56 302.98L172.24 302.98L172.92 302.98L173.6 302.98L174.28 302.98L174.96 302.98L175.64 302.98L176.32 302.98L177 302.98L177.68 302.98L178.36 302.98L179.04 302.98L179.72 302.98L180.4 302.98L181.08 302.98L181.76 302.98L182.44 302.98L183.12 302.98L183.8 302.98L184.48 302.98L185.16 302.98L185.84 302.98L186.52 302.98L187.2 302.98L187.88 302.98L188.57 302.98L189.25 302.98L189.93 302.98L190.61 302.98L191.29 302.98L191.97 302.98L192.65 302.98L193.33 302.98L194.01 302.98L194.69 302.98L195.37 302.98L196.05 302.98L196.73 302.98L197.41 302.98L198.09 302.98L198.77 302.98L199.45 302.98L200.13 302.98L200.81 302.98L201.49 302.98L202.17 302.98L202.85 302.98L203.53 302.98L204.21 302.98L204.89 302.98L205.57 302.98L206.25 302.98L206.93 302.98L207.61 302.98L208.29 302.98L208.98 302.98L209.66 302.98L210.34 302.98L211.02 302.98L211.7 302.98L212.38 302.98L213.06 302.98L213.74 302.98L214.42 302.98L215.1 302.98L215.78 302.98L216.46 302.98L217.14 302.98L217.82 302.98L218.5 302.98" stroke="#008000" stroke-width="1.4"/>
<path d="M14.4 365.22L15.08 365.22L15.76 365.22L16.44 365.22L17.12 365.22L17.8 365.22L18.48 365.22L19.16 365.22L19.84 365.22L20.52 365.22L21.2 365.22L21.88 365.22L22.56 365.22L23.24 365.22L23.92 365.22L24.61 365.22L25.29 365.22L25.97 365.22L26.65 365.22L27.33 365.22L28.01 365.22L28.69 365.22L29.37 365.22L30.05 365.22L30.73 365.22L31.41 365.22L32.09 365.22L32.77 365.22L33.45 365.22L34.13 365.22L34.81 365.22L35.49 365.22L36.17 365.22L36.85 365.22L37.53 365.22L38.21 365.22L38.89 365.22L39.57 365.22L40.25 365.22L40.93 365.22L41.61 365.22L42.29 365.22L42.97 365.22L43.65 365.22L44.33 365.22L45.02 365.22L45.7 365.22L46.38 365.22L47.06 365.22L47.74 365.22L48.42 365.22L49.1 365.22L49.78 365.22L50.46 365.22L51.14 365.22L51.82 365.22L52.5 365.22L53.18 365.22L53.86 365.22L54.54 365.22L55.22 365.22L55.9 365.22L56.58 365.22L57.26 365.22L57.94 365.22L58.62 365.22L59.3 365.22L59.98 365.22L60.66 365.22L61.34 365.22L62.02 365.22L62.7 365.22L63.38 365.22L64.06 365.22L64.74 365.22L65.42 365.22L66.11 365.22L66.79 365.22L67.47 365.22L68.15 365.22L68.83 365.22L69.51 365.22L70.19 365.22L70.87 365.22L71.55 365.22L72.23 365.22L72.91 365.22L73.59 365.22L74.27 365.22L74.95 365.22L75.63 365.22L76.31 365.22L76.99 365.22L77.67 365.22L78.35 365.22L79.03 365.22L79.71 365.22L80.39 365.22L81.07 365.22L81.75 365.22L82.43 365.22L83.11 365.22L83.79 365.22L84.47 365.22L85.15 365.22L85.84 365.22L86.52 365.22L87.2 365.22L87.88 365.22L88.56 365.22L89.24 365.22L89.92 365.22L90.6 365.22L91.28 365.22L91.96 365.22L92.64 365.22L93.32 365.22L94 365.22L94.68 365.22L95.36 365.22L96.04 365.22L96.72 365.22L97.4 365.22L98.08 365.22L98.76 365.22L99.44 365.22L100.12 365.22L100.8 365.22L101.48 365.22L102.16 365.22L102.84 365.22L103.52 365.22L104.2 365.22L104.88 365.22L105.56 365.22L106.25 365.22L106.93 365.22L107.61 365.22L108.29 365.22L108.97 365.22L109.65 365.22L110.33 365.22L111.01 365.22L111.69 365.22L112.37 365.22L113.05 365.22L113.73 365.22L114.41 365.22L115.09 365.22L115.77 365.22L116.45 365.22L117.13 365.22L117.81 365.22L118.49 365.22L119.17 365.22L119.85 365.22L120.53 365.22L121.21 365.22L121.89 365.22L122.57 365.22L123.25 365.22L123.93 365.22L124.61 365.22L125.29 365.22L125.97 365.22L126.66 365.22L127.34 365.22L128.02 365.22L128.7 365.22L129.38 365.22L130.06 365.22L130.74 365.22L131.42 365.22L132.1 365.22L132.78 365.22L133.46 365.22L134.14 365.22L134.82 365.22L135.5 365.22L136.18 365.22L136.86 365.22L137.54 365.22L138.22 365.22L138.9 365.22L139.58 365.22L140.26 365.22L140.94 365.22L141.62 365.22L142.3 365.22L142.98 365.22L143.66 365.22L144.34 365.22L145.02 365.22L145.7 365.22L146.38 365.22L147.07 365.22L147.75 365.22L148.43 365.22L149.11 365.22L149.79 365.22L150.47 365.22L151.15 365.22L151.83 365.22L152.51 365.22L153.19 365.22L153.87 365.22L154.55 365.22L155.23 365.22L155.91 365.22L156.59 365.22L157.27 365.22L157.95 365.22L158.63 365.22L159.31 365.22L159.99 365.22L160.67 365.22L161.35 365.22L162.03 365.22L162.71 365.22L163.39 365.22L164.07 365.22L164.75 365.22L165.43 365.22L166.11 365.22L166.79 365.22L167.47 365.22L168.16 365.22L168.84 365.22L169.52 365.22L170.2 365.22L170.88 365.22L171.56 365.22L172.24 365.22L172.92 365.22L173.6 365.22L174.28 365.22L174.96 365.22L175.64 365.22L176.32 365.22L177 365.22L177.68 365.22L178.36 365.22L179.04 365.22L179.72 365.22L180.4 365.22L181.08 365.22L181.76 365.22L182.44 365.22L183.12 365.22L183.8 365.22L184.48 365.22L185.16 365.22L185.84 365.22L186.52 365.22L187.2 365.22L187.88 365.22L188.57 365.22L189.25 365.22L189.93 365.22L190.61 365.22L191.29 365.22L191.97 365.22L192.65 365.22L193.33 365.22L194.01 365.22L194.69 365.22L195.37 365.22L196.05 365.22L196.73 365.22L197.41 365.22L198.09 365.22L198.77 365.22L199.45 365.22L200.13 365.22L200.81 365.22L201.49 365.22L202.17 365.22L202.85 365.22L203.53 365.22L204.21 365.22L204.89 365.22L205.57 365.22L206.25 365.22L206.93 365.22L207.61 365.22L208.29 365.22L208.98 365.22L209.66 365.22L210.34 365.22L211.02 365.22L211.7 365.22L212.38 365.22L213.06 365.22L213.74 365.22L214.42 365.22L215.1 365.22L215.78 365.22L216.46 365.22L217.14 365.22L217.82 365.22L218.5 365.22" stroke="#ff00ff" stroke-width="1.3"/>
</g>
<g font-size="6.2" font-weight="bold" fill="#1a1a1a">
<text x="12.8" y="381.05" text-anchor="end">-1</text>
<text x="12.8" y="372.07" text-anchor="end">-0.8</text>
<text x="12.8" y="363.09" text-anchor="end">-0.6</text>
<text x="12.8" y="354.11" text-anchor="end">-0.4</text>
<text x="12.8" y="345.13" text-anchor="end">-0.2</text>
<text x="12.8" y="336.15" text-anchor="end">0</text>
<text x="12.8" y="327.17" text-anchor="end">0.2</text>
<text x="12.8" y="318.19" text-anchor="end">0.4</text>
<text x="12.8" y="309.21" text-anchor="end">0.6</text>
<text x="12.8" y="300.23" text-anchor="end">0.8</text>
<text x="12.8" y="291.25" text-anchor="end">1</text>
<text x="14.4" y="386.1" text-anchor="middle" font-size="6.5">0</text>
<text x="34.81" y="386.1" text-anchor="middle" font-size="6.5">0.002</text>
<text x="55.22" y="386.1" text-anchor="middle" font-size="6.5">0.004</text>
<text x="75.63" y="386.1" text-anchor="middle" font-size="6.5">0.006</text>
<text x="96.04" y="386.1" text-anchor="middle" font-size="6.5">0.008</text>
<text x="116.45" y="386.1" text-anchor="middle" font-size="6.5">0.01</text>
<text x="136.86" y="386.1" text-anchor="middle" font-size="6.5">0.012</text>
<text x="157.27" y="386.1" text-anchor="middle" font-size="6.5">0.014</text>
<text x="177.68" y="386.1" text-anchor="middle" font-size="6.5">0.016</text>
<text x="198.09" y="386.1" text-anchor="middle" font-size="6.5">0.018</text>
<text x="218.5" y="386.1" text-anchor="middle" font-size="6.5">0.02</text>
</g>
<text x="116.45" y="393.5" text-anchor="middle" font-size="6.3" font-weight="bold" fill="#222">Time (s)</text>
<rect x="197.4" y="291.5" width="18.2" height="50.6" fill="#fff" stroke="#aaa" stroke-width="0.4"/>
<path d="M198.3 296.5H206.8" stroke="#ff0000" stroke-width="1.35"/>
<text transform="translate(207.1,297.5) scale(0.78,1)" font-size="6.6" font-weight="bold" fill="#111">V</text>
<text x="211.13" y="300.5" font-size="5.61" font-weight="bold" fill="#111">a</text>
<path d="M198.3 306.5H206.8" stroke="#efa815" stroke-width="1.35"/>
<text transform="translate(207.1,307.6) scale(0.78,1)" font-size="6.6" font-weight="bold" fill="#111">V</text>
<text x="211.13" y="310.6" font-size="5.61" font-weight="bold" fill="#111">b</text>
<path d="M198.3 316.5H206.8" stroke="#0000ff" stroke-width="1.35"/>
<text transform="translate(207.1,317.7) scale(0.78,1)" font-size="6.6" font-weight="bold" fill="#111">V</text>
<text x="211.13" y="320.7" font-size="5.61" font-weight="bold" fill="#111">c</text>
<path d="M198.3 326.5H206.8" stroke="#008000" stroke-width="1.35"/>
<text transform="translate(207.1,327.8) scale(0.78,1)" font-size="6.6" font-weight="bold" fill="#111">V</text>
<text x="211.13" y="330.8" font-size="5.61" font-weight="bold" fill="#111">p</text>
<path d="M198.3 336.5H206.8" stroke="#ff00ff" stroke-width="1.35"/>
<text transform="translate(207.1,337.9) scale(0.78,1)" font-size="6.6" font-weight="bold" fill="#111">V</text>
<text x="211.13" y="340.9" font-size="5.61" font-weight="bold" fill="#111">n</text>
<rect x="22.7" y="425" width="185.8" height="82.2" fill="#fff"/>
<path d="M41.28 425V507.2M59.86 425V507.2M78.44 425V507.2M97.02 425V507.2M115.6 425V507.2M134.18 425V507.2M152.76 425V507.2M171.34 425V507.2M189.92 425V507.2M22.7 498.98H208.5M22.7 490.76H208.5M22.7 482.54H208.5M22.7 474.32H208.5M22.7 466.1H208.5M22.7 457.88H208.5M22.7 449.66H208.5M22.7 441.44H208.5M22.7 433.22H208.5" stroke="#ececec" stroke-width="0.5" fill="none"/>
<clipPath id="cg"><rect x="21.8" y="424.1" width="187.6" height="84"/></clipPath>
<path d="M22.7 466.1L27.34 425L36.63 507.2L45.92 425L55.22 507.2L64.51 425L73.8 507.2L83.09 425L92.38 507.2L101.67 425L110.96 507.2L120.25 425L129.54 507.2L138.83 425L148.12 507.2L157.41 425L166.7 507.2L175.99 425L185.28 507.2L194.57 425L203.86 507.2L208.5 466.1" stroke="#5c5c5c" stroke-width="0.75" fill="none" stroke-linejoin="miter"/>
<rect x="22.7" y="425" width="185.8" height="82.2" fill="none" stroke="#9a9a9a" stroke-width="0.5"/>
<path d="M22.7 507.2v-1.5M22.7 425v1.5M22.7 507.2h1.5M208.5 507.2h-1.5M41.28 507.2v-1.5M41.28 425v1.5M22.7 498.98h1.5M208.5 498.98h-1.5M59.86 507.2v-1.5M59.86 425v1.5M22.7 490.76h1.5M208.5 490.76h-1.5M78.44 507.2v-1.5M78.44 425v1.5M22.7 482.54h1.5M208.5 482.54h-1.5M97.02 507.2v-1.5M97.02 425v1.5M22.7 474.32h1.5M208.5 474.32h-1.5M115.6 507.2v-1.5M115.6 425v1.5M22.7 466.1h1.5M208.5 466.1h-1.5M134.18 507.2v-1.5M134.18 425v1.5M22.7 457.88h1.5M208.5 457.88h-1.5M152.76 507.2v-1.5M152.76 425v1.5M22.7 449.66h1.5M208.5 449.66h-1.5M171.34 507.2v-1.5M171.34 425v1.5M22.7 441.44h1.5M208.5 441.44h-1.5M189.92 507.2v-1.5M189.92 425v1.5M22.7 433.22h1.5M208.5 433.22h-1.5M208.5 507.2v-1.5M208.5 425v1.5M22.7 425h1.5M208.5 425h-1.5" stroke="#777" stroke-width="0.5" fill="none"/>
<g clip-path="url(#cg)" fill="none" stroke-width="1.4" stroke-linejoin="round">
<path d="M22.7 466.1L22.85 486.46L23.32 485.9L23.94 485.14L24.56 484.37L25.18 483.6L25.8 482.82L26.42 482.03L27.04 481.23L27.65 480.43L28.27 479.62L28.89 478.8L29.51 477.98L30.13 477.15L30.75 476.32L31.37 475.49L31.99 474.65L32.61 473.8L33.23 472.95L33.85 472.1L34.47 471.25L35.09 470.4L35.71 469.54L36.33 468.68L36.94 467.82L37.56 466.96L38.03 466.32L38.18 430.51L38.8 430.08L39.42 429.68L40.04 429.29L40.66 428.91L41.28 428.55L41.9 428.21L42.52 427.89L43.14 427.58L43.76 427.29L44.38 427.01L45 426.75L45.62 426.51L46.23 426.29L46.85 426.09L47.47 425.9L48.09 425.73L48.71 425.58L49.33 425.44L49.95 425.32L50.57 425.23L51.19 425.14L51.81 425.08L52.43 425.04L53.05 425.01L53.67 425L54.29 425.01L54.91 425.04L55.52 425.08L56.14 425.14L56.76 425.23L57.38 425.32L58 425.44L58.62 425.58L59.24 425.73L59.86 425.9L60.48 426.09L61.1 426.29L61.72 426.51L62.34 426.75L62.96 427.01L63.58 427.29L64.2 427.58L64.81 427.89L65.43 428.21L66.05 428.55L66.67 428.91L67.29 429.29L67.91 429.68L68.53 430.08L69 430.4L69.15 466.1L69.77 466.1L70.39 466.1L71.01 466.1L71.63 466.1L72.25 466.1L72.87 466.1L73.49 466.1L74.1 466.1L74.72 466.1L75.34 466.1L75.96 466.1L76.58 466.1L77.2 466.1L77.82 466.1L78.44 466.1L79.06 466.1L79.68 466.1L80.3 466.1L80.92 466.1L81.54 466.1L82.16 466.1L82.78 466.1L83.39 466.1L84.01 466.1L84.63 466.1L85.25 466.1L85.87 466.1L86.49 466.1L87.11 466.1L87.73 466.1L88.35 466.1L88.97 466.1L89.59 466.1L90.21 466.1L90.83 466.1L91.45 466.1L92.07 466.1L92.68 466.1L93.3 466.1L93.92 466.1L94.54 466.1L95.16 466.1L95.78 466.1L96.4 466.1L97.02 466.1L97.64 466.1L98.26 466.1L98.88 466.1L99.5 466.1L99.96 466.1L100.12 430.51L100.74 430.94L101.36 431.4L101.97 431.87L102.59 432.35L103.21 432.85L103.83 433.36L104.45 433.89L105.07 434.43L105.69 434.99L106.31 435.56L106.93 436.14L107.55 436.74L108.17 437.34L108.79 437.97L109.41 438.6L110.03 439.24L110.65 439.9L111.26 440.57L111.88 441.25L112.5 441.94L113.12 442.64L113.74 443.36L114.36 444.08L114.98 444.81L115.6 445.55L116.22 446.3L116.84 447.06L117.46 447.83L118.08 448.6L118.7 449.38L119.32 450.17L119.94 450.97L120.55 451.77L121.17 452.58L121.79 453.4L122.41 454.22L123.03 455.05L123.65 455.88L124.27 456.71L124.89 457.55L125.51 458.4L126.13 459.25L126.75 460.1L127.37 460.95L127.99 461.8L128.61 462.66L129.23 463.52L129.84 464.38L130.46 465.24L130.93 465.88L131.08 501.69L131.7 502.12L132.32 502.52L132.94 502.91L133.56 503.29L134.18 503.65L134.8 503.99L135.42 504.31L136.04 504.62L136.66 504.91L137.28 505.19L137.9 505.45L138.52 505.69L139.13 505.91L139.75 506.11L140.37 506.3L140.99 506.47L141.61 506.62L142.23 506.76L142.85 506.88L143.47 506.97L144.09 507.06L144.71 507.12L145.33 507.16L145.95 507.19L146.57 507.2L147.19 507.19L147.81 507.16L148.42 507.12L149.04 507.06L149.66 506.97L150.28 506.88L150.9 506.76L151.52 506.62L152.14 506.47L152.76 506.3L153.38 506.11L154 505.91L154.62 505.69L155.24 505.45L155.86 505.19L156.48 504.91L157.1 504.62L157.71 504.31L158.33 503.99L158.95 503.65L159.57 503.29L160.19 502.91L160.81 502.52L161.43 502.12L161.9 501.8L162.05 466.1L162.67 466.1L163.29 466.1L163.91 466.1L164.53 466.1L165.15 466.1L165.77 466.1L166.39 466.1L167 466.1L167.62 466.1L168.24 466.1L168.86 466.1L169.48 466.1L170.1 466.1L170.72 466.1L171.34 466.1L171.96 466.1L172.58 466.1L173.2 466.1L173.82 466.1L174.44 466.1L175.06 466.1L175.68 466.1L176.29 466.1L176.91 466.1L177.53 466.1L178.15 466.1L178.77 466.1L179.39 466.1L180.01 466.1L180.63 466.1L181.25 466.1L181.87 466.1L182.49 466.1L183.11 466.1L183.73 466.1L184.35 466.1L184.97 466.1L185.58 466.1L186.2 466.1L186.82 466.1L187.44 466.1L188.06 466.1L188.68 466.1L189.3 466.1L189.92 466.1L190.54 466.1L191.16 466.1L191.78 466.1L192.4 466.1L192.86 466.1L193.02 501.69L193.64 501.26L194.26 500.8L194.87 500.33L195.49 499.85L196.11 499.35L196.73 498.84L197.35 498.31L197.97 497.77L198.59 497.21L199.21 496.64L199.83 496.06L200.45 495.46L201.07 494.86L201.69 494.23L202.31 493.6L202.93 492.96L203.55 492.3L204.16 491.63L204.78 490.95L205.4 490.26L206.02 489.56L206.64 488.84L207.26 488.12L207.88 487.39L208.5 486.65" stroke="#ff0000" stroke-width="1.2"/>
<path d="M22.7 445.55L23.32 445.55L23.94 445.55L24.56 445.55L25.18 445.55L25.8 445.55L26.42 445.55L27.04 445.55L27.65 445.55L28.27 445.55L28.89 445.55L29.51 445.55L30.13 445.55L30.75 445.55L31.37 445.55L31.99 445.55L32.61 445.55L33.23 445.55L33.85 445.55L34.47 445.55L35.09 445.55L35.71 445.55L36.33 445.55L36.94 445.55L37.56 445.55L38.03 445.55L38.18 430.51L38.8 430.08L39.42 429.68L40.04 429.29L40.66 428.91L41.28 428.55L41.9 428.21L42.52 427.89L43.14 427.58L43.76 427.29L44.38 427.01L45 426.75L45.62 426.51L46.23 426.29L46.85 426.09L47.47 425.9L48.09 425.73L48.71 425.58L49.33 425.44L49.95 425.32L50.57 425.23L51.19 425.14L51.81 425.08L52.43 425.04L53.05 425.01L53.67 425L54.29 425.01L54.91 425.04L55.52 425.08L56.14 425.14L56.76 425.23L57.38 425.32L58 425.44L58.62 425.58L59.24 425.73L59.86 425.9L60.48 426.09L61.1 426.29L61.72 426.51L62.34 426.75L62.96 427.01L63.58 427.29L64.2 427.58L64.81 427.89L65.43 428.21L66.05 428.55L66.67 428.91L67.29 429.29L67.91 429.68L68.53 430.08L69 430.4L69.15 445.55L69.77 445.55L70.39 445.55L71.01 445.55L71.63 445.55L72.25 445.55L72.87 445.55L73.49 445.55L74.1 445.55L74.72 445.55L75.34 445.55L75.96 445.55L76.58 445.55L77.2 445.55L77.82 445.55L78.44 445.55L79.06 445.55L79.68 445.55L80.3 445.55L80.92 445.55L81.54 445.55L82.16 445.55L82.78 445.55L83.39 445.55L84.01 445.55L84.63 445.55L85.25 445.55L85.87 445.55L86.49 445.55L87.11 445.55L87.73 445.55L88.35 445.55L88.97 445.55L89.59 445.55L90.21 445.55L90.83 445.55L91.45 445.55L92.07 445.55L92.68 445.55L93.3 445.55L93.92 445.55L94.54 445.55L95.16 445.55L95.78 445.55L96.4 445.55L97.02 445.55L97.64 445.55L98.26 445.55L98.88 445.55L99.5 445.55L99.96 445.55L100.12 430.51L100.74 430.08L101.36 429.68L101.97 429.29L102.59 428.91L103.21 428.55L103.83 428.21L104.45 427.89L105.07 427.58L105.69 427.29L106.31 427.01L106.93 426.75L107.55 426.51L108.17 426.29L108.79 426.09L109.41 425.9L110.03 425.73L110.65 425.58L111.26 425.44L111.88 425.32L112.5 425.23L113.12 425.14L113.74 425.08L114.36 425.04L114.98 425.01L115.45 425L115.6 445.55L115.75 425L116.22 425.01L116.84 425.04L117.46 425.08L118.08 425.14L118.7 425.23L119.32 425.32L119.94 425.44L120.55 425.58L121.17 425.73L121.79 425.9L122.41 426.09L123.03 426.29L123.65 426.51L124.27 426.75L124.89 427.01L125.51 427.29L126.13 427.58L126.75 427.89L127.37 428.21L127.99 428.55L128.61 428.91L129.23 429.29L129.84 429.68L130.46 430.08L130.93 430.4L131.08 445.55L131.7 445.55L132.32 445.55L132.94 445.55L133.56 445.55L134.18 445.55L134.8 445.55L135.42 445.55L136.04 445.55L136.66 445.55L137.28 445.55L137.9 445.55L138.52 445.55L139.13 445.55L139.75 445.55L140.37 445.55L140.99 445.55L141.61 445.55L142.23 445.55L142.85 445.55L143.47 445.55L144.09 445.55L144.71 445.55L145.33 445.55L145.95 445.55L146.57 445.55L147.19 445.55L147.81 445.55L148.42 445.55L149.04 445.55L149.66 445.55L150.28 445.55L150.9 445.55L151.52 445.55L152.14 445.55L152.76 445.55L153.38 445.55L154 445.55L154.62 445.55L155.24 445.55L155.86 445.55L156.48 445.55L157.1 445.55L157.71 445.55L158.33 445.55L158.95 445.55L159.57 445.55L160.19 445.55L160.81 445.55L161.43 445.55L161.9 445.55L162.05 430.51L162.67 430.08L163.29 429.68L163.91 429.29L164.53 428.91L165.15 428.55L165.77 428.21L166.39 427.89L167 427.58L167.62 427.29L168.24 427.01L168.86 426.75L169.48 426.51L170.1 426.29L170.72 426.09L171.34 425.9L171.96 425.73L172.58 425.58L173.2 425.44L173.82 425.32L174.44 425.23L175.06 425.14L175.68 425.08L176.29 425.04L176.91 425.01L177.53 425L178.15 425.01L178.77 425.04L179.39 425.08L180.01 425.14L180.63 425.23L181.25 425.32L181.87 425.44L182.49 425.58L183.11 425.73L183.73 425.9L184.35 426.09L184.97 426.29L185.58 426.51L186.2 426.75L186.82 427.01L187.44 427.29L188.06 427.58L188.68 427.89L189.3 428.21L189.92 428.55L190.54 428.91L191.16 429.29L191.78 429.68L192.4 430.08L192.86 430.4L193.02 445.55L193.64 445.55L194.26 445.55L194.87 445.55L195.49 445.55L196.11 445.55L196.73 445.55L197.35 445.55L197.97 445.55L198.59 445.55L199.21 445.55L199.83 445.55L200.45 445.55L201.07 445.55L201.69 445.55L202.31 445.55L202.93 445.55L203.55 445.55L204.16 445.55L204.78 445.55L205.4 445.55L206.02 445.55L206.64 445.55L207.26 445.55L207.88 445.55L208.5 445.55" stroke="#008000" stroke-width="1.3"/>
<path d="M22.7 507.2L23.32 507.19L23.94 507.16L24.56 507.12L25.18 507.06L25.8 506.97L26.42 506.88L27.04 506.76L27.65 506.62L28.27 506.47L28.89 506.3L29.51 506.11L30.13 505.91L30.75 505.69L31.37 505.45L31.99 505.19L32.61 504.91L33.23 504.62L33.85 504.31L34.47 503.99L35.09 503.65L35.71 503.29L36.33 502.91L36.94 502.52L37.56 502.12L38.03 501.8L38.18 486.65L38.8 486.65L39.42 486.65L40.04 486.65L40.66 486.65L41.28 486.65L41.9 486.65L42.52 486.65L43.14 486.65L43.76 486.65L44.38 486.65L45 486.65L45.62 486.65L46.23 486.65L46.85 486.65L47.47 486.65L48.09 486.65L48.71 486.65L49.33 486.65L49.95 486.65L50.57 486.65L51.19 486.65L51.81 486.65L52.43 486.65L53.05 486.65L53.67 486.65L54.29 486.65L54.91 486.65L55.52 486.65L56.14 486.65L56.76 486.65L57.38 486.65L58 486.65L58.62 486.65L59.24 486.65L59.86 486.65L60.48 486.65L61.1 486.65L61.72 486.65L62.34 486.65L62.96 486.65L63.58 486.65L64.2 486.65L64.81 486.65L65.43 486.65L66.05 486.65L66.67 486.65L67.29 486.65L67.91 486.65L68.53 486.65L69 486.65L69.15 501.69L69.77 502.12L70.39 502.52L71.01 502.91L71.63 503.29L72.25 503.65L72.87 503.99L73.49 504.31L74.1 504.62L74.72 504.91L75.34 505.19L75.96 505.45L76.58 505.69L77.2 505.91L77.82 506.11L78.44 506.3L79.06 506.47L79.68 506.62L80.3 506.76L80.92 506.88L81.54 506.97L82.16 507.06L82.78 507.12L83.39 507.16L84.01 507.19L84.63 507.2L85.25 507.19L85.87 507.16L86.49 507.12L87.11 507.06L87.73 506.97L88.35 506.88L88.97 506.76L89.59 506.62L90.21 506.47L90.83 506.3L91.45 506.11L92.07 505.91L92.68 505.69L93.3 505.45L93.92 505.19L94.54 504.91L95.16 504.62L95.78 504.31L96.4 503.99L97.02 503.65L97.64 503.29L98.26 502.91L98.88 502.52L99.5 502.12L99.96 501.8L100.12 486.65L100.74 486.65L101.36 486.65L101.97 486.65L102.59 486.65L103.21 486.65L103.83 486.65L104.45 486.65L105.07 486.65L105.69 486.65L106.31 486.65L106.93 486.65L107.55 486.65L108.17 486.65L108.79 486.65L109.41 486.65L110.03 486.65L110.65 486.65L111.26 486.65L111.88 486.65L112.5 486.65L113.12 486.65L113.74 486.65L114.36 486.65L114.98 486.65L115.6 486.65L116.22 486.65L116.84 486.65L117.46 486.65L118.08 486.65L118.7 486.65L119.32 486.65L119.94 486.65L120.55 486.65L121.17 486.65L121.79 486.65L122.41 486.65L123.03 486.65L123.65 486.65L124.27 486.65L124.89 486.65L125.51 486.65L126.13 486.65L126.75 486.65L127.37 486.65L127.99 486.65L128.61 486.65L129.23 486.65L129.84 486.65L130.46 486.65L130.93 486.65L131.08 501.69L131.7 502.12L132.32 502.52L132.94 502.91L133.56 503.29L134.18 503.65L134.8 503.99L135.42 504.31L136.04 504.62L136.66 504.91L137.28 505.19L137.9 505.45L138.52 505.69L139.13 505.91L139.75 506.11L140.37 506.3L140.99 506.47L141.61 506.62L142.23 506.76L142.85 506.88L143.47 506.97L144.09 507.06L144.71 507.12L145.33 507.16L145.95 507.19L146.57 507.2L147.19 507.19L147.81 507.16L148.42 507.12L149.04 507.06L149.66 506.97L150.28 506.88L150.9 506.76L151.52 506.62L152.14 506.47L152.76 506.3L153.38 506.11L154 505.91L154.62 505.69L155.24 505.45L155.86 505.19L156.48 504.91L157.1 504.62L157.71 504.31L158.33 503.99L158.95 503.65L159.57 503.29L160.19 502.91L160.81 502.52L161.43 502.12L161.9 501.8L162.05 486.65L162.67 486.65L163.29 486.65L163.91 486.65L164.53 486.65L165.15 486.65L165.77 486.65L166.39 486.65L167 486.65L167.62 486.65L168.24 486.65L168.86 486.65L169.48 486.65L170.1 486.65L170.72 486.65L171.34 486.65L171.96 486.65L172.58 486.65L173.2 486.65L173.82 486.65L174.44 486.65L175.06 486.65L175.68 486.65L176.29 486.65L176.91 486.65L177.53 486.65L178.15 486.65L178.77 486.65L179.39 486.65L180.01 486.65L180.63 486.65L181.25 486.65L181.87 486.65L182.49 486.65L183.11 486.65L183.73 486.65L184.35 486.65L184.97 486.65L185.58 486.65L186.2 486.65L186.82 486.65L187.44 486.65L188.06 486.65L188.68 486.65L189.3 486.65L189.92 486.65L190.54 486.65L191.16 486.65L191.78 486.65L192.4 486.65L192.86 486.65L193.02 501.69L193.64 502.12L194.26 502.52L194.87 502.91L195.49 503.29L196.11 503.65L196.73 503.99L197.35 504.31L197.97 504.62L198.59 504.91L199.21 505.19L199.83 505.45L200.45 505.69L201.07 505.91L201.69 506.11L202.31 506.3L202.93 506.47L203.55 506.62L204.16 506.76L204.78 506.88L205.4 506.97L206.02 507.06L206.64 507.12L207.26 507.16L207.88 507.19L208.5 507.2" stroke="#ff00ff" stroke-width="1.4"/>
<path d="M22.7 486.65L22.85 507.2L23.32 507.19L23.94 507.16L24.56 507.12L25.18 507.06L25.8 506.97L26.42 506.88L27.04 506.76L27.65 506.62L28.27 506.47L28.89 506.3L29.51 506.11L30.13 505.91L30.75 505.69L31.37 505.45L31.99 505.19L32.61 504.91L33.23 504.62L33.85 504.31L34.47 503.99L35.09 503.65L35.71 503.29L36.33 502.91L36.94 502.52L37.56 502.12L38.03 501.8L38.18 466.1L38.8 466.1L39.42 466.1L40.04 466.1L40.66 466.1L41.28 466.1L41.9 466.1L42.52 466.1L43.14 466.1L43.76 466.1L44.38 466.1L45 466.1L45.62 466.1L46.23 466.1L46.85 466.1L47.47 466.1L48.09 466.1L48.71 466.1L49.33 466.1L49.95 466.1L50.57 466.1L51.19 466.1L51.81 466.1L52.43 466.1L53.05 466.1L53.67 466.1L54.29 466.1L54.91 466.1L55.52 466.1L56.14 466.1L56.76 466.1L57.38 466.1L58 466.1L58.62 466.1L59.24 466.1L59.86 466.1L60.48 466.1L61.1 466.1L61.72 466.1L62.34 466.1L62.96 466.1L63.58 466.1L64.2 466.1L64.81 466.1L65.43 466.1L66.05 466.1L66.67 466.1L67.29 466.1L67.91 466.1L68.53 466.1L69 466.1L69.15 501.69L69.77 501.26L70.39 500.8L71.01 500.33L71.63 499.85L72.25 499.35L72.87 498.84L73.49 498.31L74.1 497.77L74.72 497.21L75.34 496.64L75.96 496.06L76.58 495.46L77.2 494.86L77.82 494.23L78.44 493.6L79.06 492.96L79.68 492.3L80.3 491.63L80.92 490.95L81.54 490.26L82.16 489.56L82.78 488.84L83.39 488.12L84.01 487.39L84.63 486.65L85.25 485.9L85.87 485.14L86.49 484.37L87.11 483.6L87.73 482.82L88.35 482.03L88.97 481.23L89.59 480.43L90.21 479.62L90.83 478.8L91.45 477.98L92.07 477.15L92.68 476.32L93.3 475.49L93.92 474.65L94.54 473.8L95.16 472.95L95.78 472.1L96.4 471.25L97.02 470.4L97.64 469.54L98.26 468.68L98.88 467.82L99.5 466.96L99.96 466.32L100.12 430.51L100.74 430.08L101.36 429.68L101.97 429.29L102.59 428.91L103.21 428.55L103.83 428.21L104.45 427.89L105.07 427.58L105.69 427.29L106.31 427.01L106.93 426.75L107.55 426.51L108.17 426.29L108.79 426.09L109.41 425.9L110.03 425.73L110.65 425.58L111.26 425.44L111.88 425.32L112.5 425.23L113.12 425.14L113.74 425.08L114.36 425.04L114.98 425.01L115.6 425L116.22 425.01L116.84 425.04L117.46 425.08L118.08 425.14L118.7 425.23L119.32 425.32L119.94 425.44L120.55 425.58L121.17 425.73L121.79 425.9L122.41 426.09L123.03 426.29L123.65 426.51L124.27 426.75L124.89 427.01L125.51 427.29L126.13 427.58L126.75 427.89L127.37 428.21L127.99 428.55L128.61 428.91L129.23 429.29L129.84 429.68L130.46 430.08L130.93 430.4L131.08 466.1L131.7 466.1L132.32 466.1L132.94 466.1L133.56 466.1L134.18 466.1L134.8 466.1L135.42 466.1L136.04 466.1L136.66 466.1L137.28 466.1L137.9 466.1L138.52 466.1L139.13 466.1L139.75 466.1L140.37 466.1L140.99 466.1L141.61 466.1L142.23 466.1L142.85 466.1L143.47 466.1L144.09 466.1L144.71 466.1L145.33 466.1L145.95 466.1L146.57 466.1L147.19 466.1L147.81 466.1L148.42 466.1L149.04 466.1L149.66 466.1L150.28 466.1L150.9 466.1L151.52 466.1L152.14 466.1L152.76 466.1L153.38 466.1L154 466.1L154.62 466.1L155.24 466.1L155.86 466.1L156.48 466.1L157.1 466.1L157.71 466.1L158.33 466.1L158.95 466.1L159.57 466.1L160.19 466.1L160.81 466.1L161.43 466.1L161.9 466.1L162.05 430.51L162.67 430.94L163.29 431.4L163.91 431.87L164.53 432.35L165.15 432.85L165.77 433.36L166.39 433.89L167 434.43L167.62 434.99L168.24 435.56L168.86 436.14L169.48 436.74L170.1 437.34L170.72 437.97L171.34 438.6L171.96 439.24L172.58 439.9L173.2 440.57L173.82 441.25L174.44 441.94L175.06 442.64L175.68 443.36L176.29 444.08L176.91 444.81L177.53 445.55L178.15 446.3L178.77 447.06L179.39 447.83L180.01 448.6L180.63 449.38L181.25 450.17L181.87 450.97L182.49 451.77L183.11 452.58L183.73 453.4L184.35 454.22L184.97 455.05L185.58 455.88L186.2 456.71L186.82 457.55L187.44 458.4L188.06 459.25L188.68 460.1L189.3 460.95L189.92 461.8L190.54 462.66L191.16 463.52L191.78 464.38L192.4 465.24L192.86 465.88L193.02 501.69L193.64 502.12L194.26 502.52L194.87 502.91L195.49 503.29L196.11 503.65L196.73 503.99L197.35 504.31L197.97 504.62L198.59 504.91L199.21 505.19L199.83 505.45L200.45 505.69L201.07 505.91L201.69 506.11L202.31 506.3L202.93 506.47L203.55 506.62L204.16 506.76L204.78 506.88L205.4 506.97L206.02 507.06L206.64 507.12L207.26 507.16L207.88 507.19L208.5 507.2" stroke="#efa815" stroke-width="1.5"/>
<path d="M22.7 445.55L22.85 466.1L23.32 466.1L23.94 466.1L24.56 466.1L25.18 466.1L25.8 466.1L26.42 466.1L27.04 466.1L27.65 466.1L28.27 466.1L28.89 466.1L29.51 466.1L30.13 466.1L30.75 466.1L31.37 466.1L31.99 466.1L32.61 466.1L33.23 466.1L33.85 466.1L34.47 466.1L35.09 466.1L35.71 466.1L36.33 466.1L36.94 466.1L37.56 466.1L38.03 466.1L38.18 430.51L38.8 430.94L39.42 431.4L40.04 431.87L40.66 432.35L41.28 432.85L41.9 433.36L42.52 433.89L43.14 434.43L43.76 434.99L44.38 435.56L45 436.14L45.62 436.74L46.23 437.34L46.85 437.97L47.47 438.6L48.09 439.24L48.71 439.9L49.33 440.57L49.95 441.25L50.57 441.94L51.19 442.64L51.81 443.36L52.43 444.08L53.05 444.81L53.67 445.55L54.29 446.3L54.91 447.06L55.52 447.83L56.14 448.6L56.76 449.38L57.38 450.17L58 450.97L58.62 451.77L59.24 452.58L59.86 453.4L60.48 454.22L61.1 455.05L61.72 455.88L62.34 456.71L62.96 457.55L63.58 458.4L64.2 459.25L64.81 460.1L65.43 460.95L66.05 461.8L66.67 462.66L67.29 463.52L67.91 464.38L68.53 465.24L69 465.88L69.15 501.69L69.77 502.12L70.39 502.52L71.01 502.91L71.63 503.29L72.25 503.65L72.87 503.99L73.49 504.31L74.1 504.62L74.72 504.91L75.34 505.19L75.96 505.45L76.58 505.69L77.2 505.91L77.82 506.11L78.44 506.3L79.06 506.47L79.68 506.62L80.3 506.76L80.92 506.88L81.54 506.97L82.16 507.06L82.78 507.12L83.39 507.16L84.01 507.19L84.63 507.2L85.25 507.19L85.87 507.16L86.49 507.12L87.11 507.06L87.73 506.97L88.35 506.88L88.97 506.76L89.59 506.62L90.21 506.47L90.83 506.3L91.45 506.11L92.07 505.91L92.68 505.69L93.3 505.45L93.92 505.19L94.54 504.91L95.16 504.62L95.78 504.31L96.4 503.99L97.02 503.65L97.64 503.29L98.26 502.91L98.88 502.52L99.5 502.12L99.96 501.8L100.12 466.1L100.74 466.1L101.36 466.1L101.97 466.1L102.59 466.1L103.21 466.1L103.83 466.1L104.45 466.1L105.07 466.1L105.69 466.1L106.31 466.1L106.93 466.1L107.55 466.1L108.17 466.1L108.79 466.1L109.41 466.1L110.03 466.1L110.65 466.1L111.26 466.1L111.88 466.1L112.5 466.1L113.12 466.1L113.74 466.1L114.36 466.1L114.98 466.1L115.6 466.1L116.22 466.1L116.84 466.1L117.46 466.1L118.08 466.1L118.7 466.1L119.32 466.1L119.94 466.1L120.55 466.1L121.17 466.1L121.79 466.1L122.41 466.1L123.03 466.1L123.65 466.1L124.27 466.1L124.89 466.1L125.51 466.1L126.13 466.1L126.75 466.1L127.37 466.1L127.99 466.1L128.61 466.1L129.23 466.1L129.84 466.1L130.46 466.1L130.93 466.1L131.08 501.69L131.7 501.26L132.32 500.8L132.94 500.33L133.56 499.85L134.18 499.35L134.8 498.84L135.42 498.31L136.04 497.77L136.66 497.21L137.28 496.64L137.9 496.06L138.52 495.46L139.13 494.86L139.75 494.23L140.37 493.6L140.99 492.96L141.61 492.3L142.23 491.63L142.85 490.95L143.47 490.26L144.09 489.56L144.71 488.84L145.33 488.12L145.95 487.39L146.57 486.65L147.19 485.9L147.81 485.14L148.42 484.37L149.04 483.6L149.66 482.82L150.28 482.03L150.9 481.23L151.52 480.43L152.14 479.62L152.76 478.8L153.38 477.98L154 477.15L154.62 476.32L155.24 475.49L155.86 474.65L156.48 473.8L157.1 472.95L157.71 472.1L158.33 471.25L158.95 470.4L159.57 469.54L160.19 468.68L160.81 467.82L161.43 466.96L161.9 466.32L162.05 430.51L162.67 430.08L163.29 429.68L163.91 429.29L164.53 428.91L165.15 428.55L165.77 428.21L166.39 427.89L167 427.58L167.62 427.29L168.24 427.01L168.86 426.75L169.48 426.51L170.1 426.29L170.72 426.09L171.34 425.9L171.96 425.73L172.58 425.58L173.2 425.44L173.82 425.32L174.44 425.23L175.06 425.14L175.68 425.08L176.29 425.04L176.91 425.01L177.53 425L178.15 425.01L178.77 425.04L179.39 425.08L180.01 425.14L180.63 425.23L181.25 425.32L181.87 425.44L182.49 425.58L183.11 425.73L183.73 425.9L184.35 426.09L184.97 426.29L185.58 426.51L186.2 426.75L186.82 427.01L187.44 427.29L188.06 427.58L188.68 427.89L189.3 428.21L189.92 428.55L190.54 428.91L191.16 429.29L191.78 429.68L192.4 430.08L192.86 430.4L193.02 466.1L193.64 466.1L194.26 466.1L194.87 466.1L195.49 466.1L196.11 466.1L196.73 466.1L197.35 466.1L197.97 466.1L198.59 466.1L199.21 466.1L199.83 466.1L200.45 466.1L201.07 466.1L201.69 466.1L202.31 466.1L202.93 466.1L203.55 466.1L204.16 466.1L204.78 466.1L205.4 466.1L206.02 466.1L206.64 466.1L207.26 466.1L207.88 466.1L208.5 466.1" stroke="#0000ff" stroke-width="1.6"/>
</g>
<g font-size="5.5" font-weight="bold" fill="#1a1a1a">
<text x="21.1" y="509.01" text-anchor="end">-1</text>
<text x="21.1" y="500.8" text-anchor="end">-0.8</text>
<text x="21.1" y="492.57" text-anchor="end">-0.6</text>
<text x="21.1" y="484.35" text-anchor="end">-0.4</text>
<text x="21.1" y="476.13" text-anchor="end">-0.2</text>
<text x="21.1" y="467.92" text-anchor="end">0</text>
<text x="21.1" y="459.69" text-anchor="end">0.2</text>
<text x="21.1" y="451.47" text-anchor="end">0.4</text>
<text x="21.1" y="443.25" text-anchor="end">0.6</text>
<text x="21.1" y="435.04" text-anchor="end">0.8</text>
<text x="21.1" y="426.81" text-anchor="end">1</text>
<text x="22.7" y="513.4" text-anchor="middle" font-size="5.7">0</text>
<text x="41.28" y="513.4" text-anchor="middle" font-size="5.7">0.002</text>
<text x="59.86" y="513.4" text-anchor="middle" font-size="5.7">0.004</text>
<text x="78.44" y="513.4" text-anchor="middle" font-size="5.7">0.006</text>
<text x="97.02" y="513.4" text-anchor="middle" font-size="5.7">0.008</text>
<text x="115.6" y="513.4" text-anchor="middle" font-size="5.7">0.01</text>
<text x="134.18" y="513.4" text-anchor="middle" font-size="5.7">0.012</text>
<text x="152.76" y="513.4" text-anchor="middle" font-size="5.7">0.014</text>
<text x="171.34" y="513.4" text-anchor="middle" font-size="5.7">0.016</text>
<text x="189.92" y="513.4" text-anchor="middle" font-size="5.7">0.018</text>
<text x="208.5" y="513.4" text-anchor="middle" font-size="5.7">0.02</text>
</g>
<text x="115.6" y="520.5" text-anchor="middle" font-size="5.8" font-weight="bold" fill="#222">Time (s)</text>
<rect x="190.2" y="425.7" width="17" height="40.7" fill="#fff" stroke="#aaa" stroke-width="0.4"/>
<path d="M191.1 431.5H199.6" stroke="#ff0000" stroke-width="1.35"/>
<text transform="translate(199.9,432.16) scale(0.78,1)" font-size="5" font-weight="bold" fill="#111">V</text>
<text x="203" y="434.43" font-size="4.25" font-weight="bold" fill="#111">a</text>
<path d="M191.1 439.5H199.6" stroke="#008000" stroke-width="1.35"/>
<text transform="translate(199.9,439.96) scale(0.78,1)" font-size="5" font-weight="bold" fill="#111">V</text>
<text x="203" y="442.23" font-size="4.25" font-weight="bold" fill="#111">p</text>
<path d="M191.1 447.5H199.6" stroke="#ff00ff" stroke-width="1.35"/>
<text transform="translate(199.9,447.76) scale(0.78,1)" font-size="5" font-weight="bold" fill="#111">V</text>
<text x="203" y="450.03" font-size="4.25" font-weight="bold" fill="#111">n</text>
<path d="M191.1 454.5H199.6" stroke="#efa815" stroke-width="1.35"/>
<text transform="translate(199.9,455.56) scale(0.78,1)" font-size="5" font-weight="bold" fill="#111">V</text>
<text x="203" y="457.83" font-size="4.25" font-weight="bold" fill="#111">b</text>
<path d="M191.1 462.5H199.6" stroke="#0000ff" stroke-width="1.35"/>
<text transform="translate(199.9,463.36) scale(0.78,1)" font-size="5" font-weight="bold" fill="#111">V</text>
<text x="203" y="465.63" font-size="4.25" font-weight="bold" fill="#111">c</text>
<path d="M246.8 115.4H467.7M3.8 258.3H221" stroke="#d6d6d6" stroke-width="0.8" fill="none"/>
<text x="112.8" y="129.2" text-anchor="middle" font-size="11" font-weight="bold" fill="#111">(a)</text>
<text x="357.9" y="129.3" text-anchor="middle" font-size="11" font-weight="bold" fill="#111">(b)</text>
<text x="112.6" y="279.4" text-anchor="middle" font-size="11" font-weight="bold" fill="#111">(c)</text>
<text x="357.9" y="279.3" text-anchor="middle" font-size="11" font-weight="bold" fill="#111">(d)</text>
<text x="112.4" y="410.6" text-anchor="middle" font-size="11" font-weight="bold" fill="#111">(e)</text>
<text x="357.6" y="410.3" text-anchor="middle" font-size="11" font-weight="bold" fill="#111">(f)</text>
<text x="112.6" y="541.7" text-anchor="middle" font-size="11" font-weight="bold" fill="#111">(g)</text>
<defs><marker id="ah" viewBox="0 0 10 10" refX="9.5" refY="5" markerWidth="4.4" markerHeight="4.4" orient="auto-start-reverse" markerUnits="userSpaceOnUse"><path d="M0 1.4L10 5L0 8.6z" fill="#000"/></marker></defs>
<g stroke="#000" stroke-width="0.9" fill="none">
<path d="M388.9 350.3L372.4 321.2L339.4 321.2L322.9 350.3L339.4 379.4L372.4 379.4z"/>
<path d="M355.9 350.3L371.76 322.33" marker-end="url(#ah)"/>
<path d="M355.9 350.3L340.04 322.33" marker-end="url(#ah)"/>
<path d="M355.9 350.3L324.2 350.3" marker-end="url(#ah)"/>
<path d="M355.9 350.3L340.04 378.27" marker-end="url(#ah)"/>
<path d="M355.9 350.3L371.76 378.27" marker-end="url(#ah)"/>
<path d="M355.9 350.3H402" marker-end="url(#ah)"/>
<path d="M355.9 350.3V308.9" marker-end="url(#ah)"/>
<path d="M355.9 350.3L375.3 338.7" marker-end="url(#ah)" stroke-width="0.8"/>
</g>
<g stroke="#000" stroke-width="1.1" fill="#fff" font-size="3" font-weight="bold" text-anchor="middle">
<circle cx="356" cy="321" r="4.15"/><text x="356" y="321.9" stroke="none" fill="#222">ST</text>
<circle cx="356.2" cy="379.4" r="4.15"/><text x="356.2" y="380.3" stroke="none" fill="#222">ST</text>
<circle cx="331.2" cy="333.5" r="4.15"/><text x="331.2" y="334.4" stroke="none" fill="#222">ST</text>
<circle cx="345.5" cy="333.3" r="4.15"/><text x="345.5" y="334.2" stroke="none" fill="#222">ST</text>
<circle cx="365.5" cy="333.6" r="4.15"/><text x="365.5" y="334.5" stroke="none" fill="#222">ST</text>
<circle cx="380.8" cy="334.6" r="4.15"/><text x="380.8" y="335.5" stroke="none" fill="#222">ST</text>
<circle cx="338.4" cy="350.3" r="4.15"/><text x="338.4" y="351.2" stroke="none" fill="#222">ST</text>
<circle cx="371.3" cy="350.3" r="4.15"/><text x="371.3" y="351.2" stroke="none" fill="#222">ST</text>
<circle cx="330.5" cy="364.5" r="4.15"/><text x="330.5" y="365.4" stroke="none" fill="#222">ST</text>
<circle cx="346.8" cy="365.2" r="4.15"/><text x="346.8" y="366.1" stroke="none" fill="#222">ST</text>
<circle cx="363.1" cy="365.2" r="4.15"/><text x="363.1" y="366.1" stroke="none" fill="#222">ST</text>
<circle cx="380" cy="365.2" r="4.15"/><text x="380" y="366.1" stroke="none" fill="#222">ST</text>
</g>
<circle cx="355.9" cy="350.3" r="1.3" fill="#000"/>
<g font-size="7.8" fill="#222">
<text x="337.5" y="322.9" text-anchor="end" textLength="24.2" lengthAdjust="spacingAndGlyphs">V3[010]</text>
<text x="376.6" y="323" textLength="24.2" lengthAdjust="spacingAndGlyphs">V2[110]</text>
<text x="322.8" y="351.8" text-anchor="end" textLength="24.2" lengthAdjust="spacingAndGlyphs">V4[011]</text>
<text x="389.4" y="358.8" textLength="24.2" lengthAdjust="spacingAndGlyphs">V1[100]</text>
<text x="335.2" y="382.5" text-anchor="end" textLength="24.2" lengthAdjust="spacingAndGlyphs">V5[001]</text>
<text x="374.4" y="382.5" textLength="24.2" lengthAdjust="spacingAndGlyphs">V6[101]</text>
<text x="361.3" y="329.4" font-size="6.5">T2</text>
<text x="376.3" y="358.8" font-size="6.5">T1</text>
<text x="399.7" y="348.6" font-size="6.8">d-axis</text>
<text transform="translate(352.6,314.4) rotate(-90)" font-size="7">q-axis</text>
<text x="331" y="344.7" font-size="5.1" fill="#555" >V0[000]</text>
<text x="331" y="359.4" font-size="5.1" fill="#555">V7[111]</text>
<text x="362" y="346" font-size="3.2" font-weight="bold" fill="#222">Vref</text>
</g>
</svg>
</body></html>
